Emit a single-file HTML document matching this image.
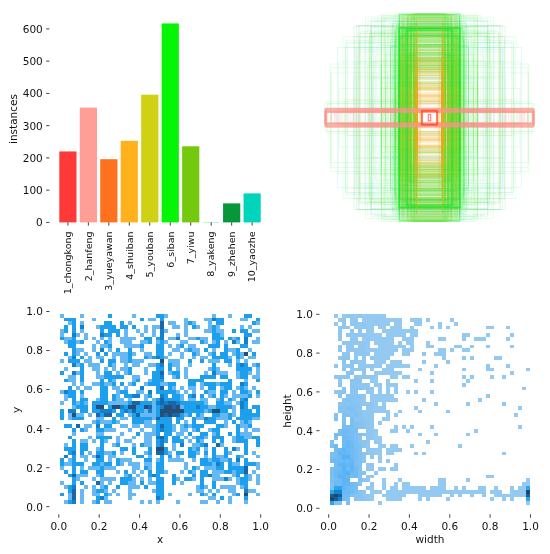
<!DOCTYPE html>
<html><head><meta charset="utf-8"><title>labels</title><style>html,body{margin:0;padding:0;background:#fff}svg{display:block}</style></head><body>
<svg width="550" height="554" viewBox="0 0 550 554" font-family='"DejaVu Sans","Liberation Sans",sans-serif' fill="#111">
<rect width="550" height="554" fill="#fff"/>
<g>
<rect x="59.30" y="151.45" width="17.2" height="70.95" fill="#ff3838"/>
<rect x="79.77" y="107.59" width="17.2" height="114.81" fill="#ff9d97"/>
<rect x="100.24" y="159.19" width="17.2" height="63.21" fill="#ff701f"/>
<rect x="120.71" y="140.81" width="17.2" height="81.59" fill="#ffb21d"/>
<rect x="141.18" y="94.69" width="17.2" height="127.71" fill="#cfd214"/>
<rect x="161.65" y="23.42" width="17.2" height="198.98" fill="#06f406"/>
<rect x="182.12" y="146.29" width="17.2" height="76.11" fill="#74c80e"/>
<rect x="202.59" y="222.08" width="17.2" height="0.32" fill="#3ddb86"/>
<rect x="223.06" y="203.37" width="17.2" height="19.03" fill="#08963a"/>
<rect x="243.53" y="193.38" width="17.2" height="29.03" fill="#00d4bb"/>
</g>
<g>
<line x1="46.20" x2="49.40" y1="222.40" y2="222.40" stroke="#111" stroke-width="0.8"/>
<text x="42.80" y="226.30" font-size="10.5" text-anchor="end">0</text>
<line x1="46.20" x2="49.40" y1="190.15" y2="190.15" stroke="#111" stroke-width="0.8"/>
<text x="42.80" y="194.05" font-size="10.5" text-anchor="end">100</text>
<line x1="46.20" x2="49.40" y1="157.90" y2="157.90" stroke="#111" stroke-width="0.8"/>
<text x="42.80" y="161.80" font-size="10.5" text-anchor="end">200</text>
<line x1="46.20" x2="49.40" y1="125.65" y2="125.65" stroke="#111" stroke-width="0.8"/>
<text x="42.80" y="129.55" font-size="10.5" text-anchor="end">300</text>
<line x1="46.20" x2="49.40" y1="93.40" y2="93.40" stroke="#111" stroke-width="0.8"/>
<text x="42.80" y="97.30" font-size="10.5" text-anchor="end">400</text>
<line x1="46.20" x2="49.40" y1="61.15" y2="61.15" stroke="#111" stroke-width="0.8"/>
<text x="42.80" y="65.05" font-size="10.5" text-anchor="end">500</text>
<line x1="46.20" x2="49.40" y1="28.90" y2="28.90" stroke="#111" stroke-width="0.8"/>
<text x="42.80" y="32.80" font-size="10.5" text-anchor="end">600</text>
<line x1="67.90" x2="67.90" y1="222.40" y2="225.60" stroke="#111" stroke-width="0.8"/>
<text transform="translate(71.20,231.40) rotate(-90)" font-size="9.5" text-anchor="end">1_chongkong</text>
<line x1="88.37" x2="88.37" y1="222.40" y2="225.60" stroke="#111" stroke-width="0.8"/>
<text transform="translate(91.67,231.40) rotate(-90)" font-size="9.5" text-anchor="end">2_hanfeng</text>
<line x1="108.84" x2="108.84" y1="222.40" y2="225.60" stroke="#111" stroke-width="0.8"/>
<text transform="translate(112.14,231.40) rotate(-90)" font-size="9.5" text-anchor="end">3_yueyawan</text>
<line x1="129.31" x2="129.31" y1="222.40" y2="225.60" stroke="#111" stroke-width="0.8"/>
<text transform="translate(132.61,231.40) rotate(-90)" font-size="9.5" text-anchor="end">4_shuiban</text>
<line x1="149.78" x2="149.78" y1="222.40" y2="225.60" stroke="#111" stroke-width="0.8"/>
<text transform="translate(153.08,231.40) rotate(-90)" font-size="9.5" text-anchor="end">5_youban</text>
<line x1="170.25" x2="170.25" y1="222.40" y2="225.60" stroke="#111" stroke-width="0.8"/>
<text transform="translate(173.55,231.40) rotate(-90)" font-size="9.5" text-anchor="end">6_siban</text>
<line x1="190.72" x2="190.72" y1="222.40" y2="225.60" stroke="#111" stroke-width="0.8"/>
<text transform="translate(194.02,231.40) rotate(-90)" font-size="9.5" text-anchor="end">7_yiwu</text>
<line x1="211.19" x2="211.19" y1="222.40" y2="225.60" stroke="#111" stroke-width="0.8"/>
<text transform="translate(214.49,231.40) rotate(-90)" font-size="9.5" text-anchor="end">8_yakeng</text>
<line x1="231.66" x2="231.66" y1="222.40" y2="225.60" stroke="#111" stroke-width="0.8"/>
<text transform="translate(234.96,231.40) rotate(-90)" font-size="9.5" text-anchor="end">9_zhehen</text>
<line x1="252.13" x2="252.13" y1="222.40" y2="225.60" stroke="#111" stroke-width="0.8"/>
<text transform="translate(255.43,231.40) rotate(-90)" font-size="9.5" text-anchor="end">10_yaozhe</text>
<text transform="translate(16.5,119) rotate(-90)" font-size="10.5" text-anchor="middle">instances</text>
</g>
<g shape-rendering="crispEdges">
<rect x="60" y="314" width="4" height="4" fill="#66b8f5"/>
<rect x="80" y="314" width="4" height="4" fill="#66b8f5"/>
<rect x="108" y="314" width="4" height="4" fill="#1ca0ee"/>
<rect x="132" y="314" width="4" height="4" fill="#66b8f5"/>
<rect x="156" y="314" width="8" height="4" fill="#1ca0ee"/>
<rect x="164" y="314" width="4" height="4" fill="#66b8f5"/>
<rect x="212" y="314" width="4" height="4" fill="#66b8f5"/>
<rect x="228" y="314" width="4" height="4" fill="#66b8f5"/>
<rect x="244" y="314" width="8" height="4" fill="#1ca0ee"/>
<rect x="64" y="318" width="12" height="3" fill="#1ca0ee"/>
<rect x="92" y="318" width="4" height="3" fill="#66b8f5"/>
<rect x="140" y="318" width="4" height="3" fill="#1ca0ee"/>
<rect x="148" y="318" width="8" height="3" fill="#66b8f5"/>
<rect x="160" y="318" width="4" height="3" fill="#1ca0ee"/>
<rect x="184" y="318" width="4" height="3" fill="#66b8f5"/>
<rect x="204" y="318" width="8" height="3" fill="#66b8f5"/>
<rect x="212" y="318" width="4" height="3" fill="#1280cc"/>
<rect x="216" y="318" width="8" height="3" fill="#1ca0ee"/>
<rect x="240" y="318" width="8" height="3" fill="#66b8f5"/>
<rect x="256" y="318" width="4" height="3" fill="#1ca0ee"/>
<rect x="68" y="321" width="4" height="4" fill="#66b8f5"/>
<rect x="72" y="321" width="4" height="4" fill="#1ca0ee"/>
<rect x="80" y="321" width="4" height="4" fill="#66b8f5"/>
<rect x="104" y="321" width="8" height="4" fill="#1ca0ee"/>
<rect x="120" y="321" width="4" height="4" fill="#1ca0ee"/>
<rect x="128" y="321" width="4" height="4" fill="#66b8f5"/>
<rect x="160" y="321" width="4" height="4" fill="#1a66a6"/>
<rect x="168" y="321" width="8" height="4" fill="#66b8f5"/>
<rect x="184" y="321" width="4" height="4" fill="#66b8f5"/>
<rect x="188" y="321" width="4" height="4" fill="#1ca0ee"/>
<rect x="192" y="321" width="4" height="4" fill="#66b8f5"/>
<rect x="208" y="321" width="4" height="4" fill="#66b8f5"/>
<rect x="216" y="321" width="8" height="4" fill="#1ca0ee"/>
<rect x="252" y="321" width="4" height="4" fill="#1ca0ee"/>
<rect x="256" y="321" width="4" height="4" fill="#66b8f5"/>
<rect x="64" y="325" width="4" height="4" fill="#1ca0ee"/>
<rect x="72" y="325" width="4" height="4" fill="#1ca0ee"/>
<rect x="80" y="325" width="4" height="4" fill="#1280cc"/>
<rect x="96" y="325" width="4" height="4" fill="#66b8f5"/>
<rect x="100" y="325" width="16" height="4" fill="#1ca0ee"/>
<rect x="120" y="325" width="8" height="4" fill="#1ca0ee"/>
<rect x="132" y="325" width="4" height="4" fill="#1ca0ee"/>
<rect x="144" y="325" width="4" height="4" fill="#66b8f5"/>
<rect x="152" y="325" width="8" height="4" fill="#66b8f5"/>
<rect x="160" y="325" width="4" height="4" fill="#1a66a6"/>
<rect x="172" y="325" width="8" height="4" fill="#66b8f5"/>
<rect x="184" y="325" width="4" height="4" fill="#66b8f5"/>
<rect x="192" y="325" width="4" height="4" fill="#1ca0ee"/>
<rect x="196" y="325" width="4" height="4" fill="#66b8f5"/>
<rect x="208" y="325" width="4" height="4" fill="#66b8f5"/>
<rect x="212" y="325" width="4" height="4" fill="#1ca0ee"/>
<rect x="216" y="325" width="4" height="4" fill="#66b8f5"/>
<rect x="240" y="325" width="4" height="4" fill="#66b8f5"/>
<rect x="248" y="325" width="4" height="4" fill="#66b8f5"/>
<rect x="60" y="329" width="4" height="4" fill="#66b8f5"/>
<rect x="64" y="329" width="4" height="4" fill="#1ca0ee"/>
<rect x="72" y="329" width="4" height="4" fill="#1ca0ee"/>
<rect x="80" y="329" width="4" height="4" fill="#66b8f5"/>
<rect x="100" y="329" width="4" height="4" fill="#1ca0ee"/>
<rect x="108" y="329" width="12" height="4" fill="#1ca0ee"/>
<rect x="124" y="329" width="4" height="4" fill="#66b8f5"/>
<rect x="136" y="329" width="4" height="4" fill="#66b8f5"/>
<rect x="144" y="329" width="4" height="4" fill="#66b8f5"/>
<rect x="152" y="329" width="4" height="4" fill="#66b8f5"/>
<rect x="160" y="329" width="4" height="4" fill="#1280cc"/>
<rect x="164" y="329" width="4" height="4" fill="#66b8f5"/>
<rect x="184" y="329" width="4" height="4" fill="#66b8f5"/>
<rect x="204" y="329" width="8" height="4" fill="#66b8f5"/>
<rect x="212" y="329" width="4" height="4" fill="#1ca0ee"/>
<rect x="216" y="329" width="8" height="4" fill="#66b8f5"/>
<rect x="232" y="329" width="4" height="4" fill="#1ca0ee"/>
<rect x="240" y="329" width="8" height="4" fill="#1ca0ee"/>
<rect x="252" y="329" width="8" height="4" fill="#66b8f5"/>
<rect x="60" y="333" width="4" height="4" fill="#66b8f5"/>
<rect x="72" y="333" width="4" height="4" fill="#1280cc"/>
<rect x="76" y="333" width="4" height="4" fill="#66b8f5"/>
<rect x="84" y="333" width="4" height="4" fill="#66b8f5"/>
<rect x="100" y="333" width="4" height="4" fill="#1280cc"/>
<rect x="104" y="333" width="8" height="4" fill="#1ca0ee"/>
<rect x="116" y="333" width="4" height="4" fill="#1ca0ee"/>
<rect x="124" y="333" width="4" height="4" fill="#66b8f5"/>
<rect x="140" y="333" width="4" height="4" fill="#66b8f5"/>
<rect x="152" y="333" width="4" height="4" fill="#66b8f5"/>
<rect x="160" y="333" width="4" height="4" fill="#1280cc"/>
<rect x="176" y="333" width="4" height="4" fill="#66b8f5"/>
<rect x="184" y="333" width="4" height="4" fill="#66b8f5"/>
<rect x="212" y="333" width="8" height="4" fill="#1ca0ee"/>
<rect x="220" y="333" width="4" height="4" fill="#66b8f5"/>
<rect x="244" y="333" width="8" height="4" fill="#1ca0ee"/>
<rect x="60" y="337" width="4" height="3" fill="#1ca0ee"/>
<rect x="64" y="337" width="8" height="3" fill="#66b8f5"/>
<rect x="72" y="337" width="4" height="3" fill="#1ca0ee"/>
<rect x="84" y="337" width="4" height="3" fill="#66b8f5"/>
<rect x="92" y="337" width="4" height="3" fill="#66b8f5"/>
<rect x="100" y="337" width="4" height="3" fill="#66b8f5"/>
<rect x="108" y="337" width="4" height="3" fill="#66b8f5"/>
<rect x="120" y="337" width="16" height="3" fill="#66b8f5"/>
<rect x="144" y="337" width="8" height="3" fill="#1ca0ee"/>
<rect x="156" y="337" width="4" height="3" fill="#1ca0ee"/>
<rect x="160" y="337" width="4" height="3" fill="#1280cc"/>
<rect x="168" y="337" width="8" height="3" fill="#66b8f5"/>
<rect x="176" y="337" width="4" height="3" fill="#1280cc"/>
<rect x="188" y="337" width="8" height="3" fill="#66b8f5"/>
<rect x="196" y="337" width="4" height="3" fill="#1ca0ee"/>
<rect x="200" y="337" width="8" height="3" fill="#66b8f5"/>
<rect x="212" y="337" width="12" height="3" fill="#1ca0ee"/>
<rect x="228" y="337" width="4" height="3" fill="#1ca0ee"/>
<rect x="232" y="337" width="4" height="3" fill="#66b8f5"/>
<rect x="236" y="337" width="4" height="3" fill="#1ca0ee"/>
<rect x="244" y="337" width="4" height="3" fill="#1280cc"/>
<rect x="256" y="337" width="4" height="3" fill="#66b8f5"/>
<rect x="64" y="340" width="4" height="4" fill="#66b8f5"/>
<rect x="68" y="340" width="8" height="4" fill="#1ca0ee"/>
<rect x="76" y="340" width="4" height="4" fill="#66b8f5"/>
<rect x="80" y="340" width="4" height="4" fill="#1ca0ee"/>
<rect x="96" y="340" width="4" height="4" fill="#66b8f5"/>
<rect x="104" y="340" width="4" height="4" fill="#1ca0ee"/>
<rect x="108" y="340" width="4" height="4" fill="#66b8f5"/>
<rect x="120" y="340" width="12" height="4" fill="#66b8f5"/>
<rect x="140" y="340" width="8" height="4" fill="#66b8f5"/>
<rect x="148" y="340" width="4" height="4" fill="#1ca0ee"/>
<rect x="156" y="340" width="4" height="4" fill="#66b8f5"/>
<rect x="160" y="340" width="4" height="4" fill="#1ca0ee"/>
<rect x="164" y="340" width="4" height="4" fill="#66b8f5"/>
<rect x="180" y="340" width="8" height="4" fill="#66b8f5"/>
<rect x="200" y="340" width="4" height="4" fill="#1ca0ee"/>
<rect x="204" y="340" width="4" height="4" fill="#66b8f5"/>
<rect x="212" y="340" width="4" height="4" fill="#66b8f5"/>
<rect x="216" y="340" width="4" height="4" fill="#1ca0ee"/>
<rect x="224" y="340" width="4" height="4" fill="#66b8f5"/>
<rect x="232" y="340" width="4" height="4" fill="#1280cc"/>
<rect x="236" y="340" width="4" height="4" fill="#66b8f5"/>
<rect x="244" y="340" width="4" height="4" fill="#1280cc"/>
<rect x="252" y="340" width="8" height="4" fill="#66b8f5"/>
<rect x="68" y="344" width="8" height="4" fill="#1ca0ee"/>
<rect x="92" y="344" width="4" height="4" fill="#66b8f5"/>
<rect x="100" y="344" width="8" height="4" fill="#66b8f5"/>
<rect x="108" y="344" width="4" height="4" fill="#1ca0ee"/>
<rect x="124" y="344" width="16" height="4" fill="#66b8f5"/>
<rect x="140" y="344" width="4" height="4" fill="#1ca0ee"/>
<rect x="156" y="344" width="8" height="4" fill="#1ca0ee"/>
<rect x="168" y="344" width="4" height="4" fill="#66b8f5"/>
<rect x="176" y="344" width="4" height="4" fill="#66b8f5"/>
<rect x="180" y="344" width="4" height="4" fill="#1ca0ee"/>
<rect x="188" y="344" width="8" height="4" fill="#66b8f5"/>
<rect x="208" y="344" width="12" height="4" fill="#1ca0ee"/>
<rect x="224" y="344" width="4" height="4" fill="#1ca0ee"/>
<rect x="240" y="344" width="8" height="4" fill="#1ca0ee"/>
<rect x="72" y="348" width="4" height="4" fill="#1ca0ee"/>
<rect x="76" y="348" width="8" height="4" fill="#66b8f5"/>
<rect x="92" y="348" width="4" height="4" fill="#66b8f5"/>
<rect x="100" y="348" width="4" height="4" fill="#1280cc"/>
<rect x="108" y="348" width="4" height="4" fill="#66b8f5"/>
<rect x="116" y="348" width="4" height="4" fill="#1ca0ee"/>
<rect x="128" y="348" width="4" height="4" fill="#1ca0ee"/>
<rect x="140" y="348" width="4" height="4" fill="#66b8f5"/>
<rect x="156" y="348" width="8" height="4" fill="#1ca0ee"/>
<rect x="172" y="348" width="8" height="4" fill="#66b8f5"/>
<rect x="184" y="348" width="4" height="4" fill="#66b8f5"/>
<rect x="188" y="348" width="4" height="4" fill="#1ca0ee"/>
<rect x="192" y="348" width="8" height="4" fill="#66b8f5"/>
<rect x="204" y="348" width="4" height="4" fill="#1ca0ee"/>
<rect x="212" y="348" width="4" height="4" fill="#66b8f5"/>
<rect x="224" y="348" width="4" height="4" fill="#1ca0ee"/>
<rect x="228" y="348" width="8" height="4" fill="#66b8f5"/>
<rect x="236" y="348" width="4" height="4" fill="#1ca0ee"/>
<rect x="248" y="348" width="4" height="4" fill="#66b8f5"/>
<rect x="64" y="352" width="4" height="4" fill="#1ca0ee"/>
<rect x="72" y="352" width="4" height="4" fill="#1ca0ee"/>
<rect x="76" y="352" width="4" height="4" fill="#66b8f5"/>
<rect x="84" y="352" width="4" height="4" fill="#66b8f5"/>
<rect x="96" y="352" width="4" height="4" fill="#1ca0ee"/>
<rect x="104" y="352" width="4" height="4" fill="#1ca0ee"/>
<rect x="112" y="352" width="16" height="4" fill="#66b8f5"/>
<rect x="128" y="352" width="4" height="4" fill="#1ca0ee"/>
<rect x="132" y="352" width="4" height="4" fill="#66b8f5"/>
<rect x="144" y="352" width="8" height="4" fill="#66b8f5"/>
<rect x="156" y="352" width="8" height="4" fill="#1ca0ee"/>
<rect x="168" y="352" width="4" height="4" fill="#66b8f5"/>
<rect x="180" y="352" width="4" height="4" fill="#66b8f5"/>
<rect x="192" y="352" width="4" height="4" fill="#1ca0ee"/>
<rect x="196" y="352" width="4" height="4" fill="#66b8f5"/>
<rect x="208" y="352" width="4" height="4" fill="#66b8f5"/>
<rect x="212" y="352" width="4" height="4" fill="#1ca0ee"/>
<rect x="220" y="352" width="8" height="4" fill="#1ca0ee"/>
<rect x="232" y="352" width="4" height="4" fill="#66b8f5"/>
<rect x="236" y="352" width="4" height="4" fill="#1ca0ee"/>
<rect x="240" y="352" width="4" height="4" fill="#66b8f5"/>
<rect x="244" y="352" width="4" height="4" fill="#264f78"/>
<rect x="252" y="352" width="4" height="4" fill="#1ca0ee"/>
<rect x="68" y="356" width="4" height="3" fill="#66b8f5"/>
<rect x="72" y="356" width="4" height="3" fill="#1280cc"/>
<rect x="80" y="356" width="4" height="3" fill="#1ca0ee"/>
<rect x="88" y="356" width="4" height="3" fill="#66b8f5"/>
<rect x="96" y="356" width="8" height="3" fill="#66b8f5"/>
<rect x="112" y="356" width="4" height="3" fill="#66b8f5"/>
<rect x="120" y="356" width="8" height="3" fill="#66b8f5"/>
<rect x="128" y="356" width="4" height="3" fill="#1ca0ee"/>
<rect x="144" y="356" width="4" height="3" fill="#1ca0ee"/>
<rect x="148" y="356" width="4" height="3" fill="#66b8f5"/>
<rect x="152" y="356" width="4" height="3" fill="#1ca0ee"/>
<rect x="156" y="356" width="4" height="3" fill="#1280cc"/>
<rect x="160" y="356" width="4" height="3" fill="#1ca0ee"/>
<rect x="164" y="356" width="4" height="3" fill="#66b8f5"/>
<rect x="180" y="356" width="4" height="3" fill="#66b8f5"/>
<rect x="192" y="356" width="4" height="3" fill="#66b8f5"/>
<rect x="200" y="356" width="8" height="3" fill="#66b8f5"/>
<rect x="212" y="356" width="16" height="3" fill="#1ca0ee"/>
<rect x="228" y="356" width="4" height="3" fill="#66b8f5"/>
<rect x="236" y="356" width="4" height="3" fill="#1ca0ee"/>
<rect x="240" y="356" width="4" height="3" fill="#66b8f5"/>
<rect x="248" y="356" width="8" height="3" fill="#66b8f5"/>
<rect x="60" y="359" width="4" height="4" fill="#66b8f5"/>
<rect x="68" y="359" width="12" height="4" fill="#1ca0ee"/>
<rect x="84" y="359" width="8" height="4" fill="#66b8f5"/>
<rect x="100" y="359" width="4" height="4" fill="#1ca0ee"/>
<rect x="108" y="359" width="8" height="4" fill="#1ca0ee"/>
<rect x="120" y="359" width="8" height="4" fill="#66b8f5"/>
<rect x="128" y="359" width="4" height="4" fill="#1ca0ee"/>
<rect x="132" y="359" width="12" height="4" fill="#66b8f5"/>
<rect x="160" y="359" width="4" height="4" fill="#264f78"/>
<rect x="168" y="359" width="12" height="4" fill="#66b8f5"/>
<rect x="188" y="359" width="4" height="4" fill="#1ca0ee"/>
<rect x="200" y="359" width="4" height="4" fill="#1ca0ee"/>
<rect x="208" y="359" width="12" height="4" fill="#66b8f5"/>
<rect x="224" y="359" width="8" height="4" fill="#1ca0ee"/>
<rect x="236" y="359" width="4" height="4" fill="#66b8f5"/>
<rect x="244" y="359" width="4" height="4" fill="#66b8f5"/>
<rect x="72" y="363" width="4" height="4" fill="#1280cc"/>
<rect x="76" y="363" width="4" height="4" fill="#66b8f5"/>
<rect x="80" y="363" width="4" height="4" fill="#1ca0ee"/>
<rect x="88" y="363" width="12" height="4" fill="#66b8f5"/>
<rect x="108" y="363" width="4" height="4" fill="#1ca0ee"/>
<rect x="112" y="363" width="4" height="4" fill="#66b8f5"/>
<rect x="124" y="363" width="4" height="4" fill="#66b8f5"/>
<rect x="132" y="363" width="8" height="4" fill="#66b8f5"/>
<rect x="148" y="363" width="8" height="4" fill="#66b8f5"/>
<rect x="156" y="363" width="4" height="4" fill="#1ca0ee"/>
<rect x="160" y="363" width="4" height="4" fill="#1280cc"/>
<rect x="168" y="363" width="4" height="4" fill="#1ca0ee"/>
<rect x="172" y="363" width="8" height="4" fill="#66b8f5"/>
<rect x="188" y="363" width="4" height="4" fill="#66b8f5"/>
<rect x="212" y="363" width="4" height="4" fill="#1ca0ee"/>
<rect x="228" y="363" width="4" height="4" fill="#66b8f5"/>
<rect x="236" y="363" width="4" height="4" fill="#1ca0ee"/>
<rect x="240" y="363" width="4" height="4" fill="#1280cc"/>
<rect x="244" y="363" width="4" height="4" fill="#1ca0ee"/>
<rect x="252" y="363" width="4" height="4" fill="#66b8f5"/>
<rect x="256" y="363" width="4" height="4" fill="#1ca0ee"/>
<rect x="64" y="367" width="4" height="4" fill="#66b8f5"/>
<rect x="80" y="367" width="4" height="4" fill="#1ca0ee"/>
<rect x="92" y="367" width="8" height="4" fill="#66b8f5"/>
<rect x="104" y="367" width="4" height="4" fill="#66b8f5"/>
<rect x="112" y="367" width="4" height="4" fill="#66b8f5"/>
<rect x="120" y="367" width="8" height="4" fill="#66b8f5"/>
<rect x="128" y="367" width="4" height="4" fill="#1ca0ee"/>
<rect x="144" y="367" width="4" height="4" fill="#66b8f5"/>
<rect x="156" y="367" width="8" height="4" fill="#1ca0ee"/>
<rect x="168" y="367" width="4" height="4" fill="#1ca0ee"/>
<rect x="176" y="367" width="4" height="4" fill="#66b8f5"/>
<rect x="184" y="367" width="4" height="4" fill="#66b8f5"/>
<rect x="208" y="367" width="4" height="4" fill="#66b8f5"/>
<rect x="212" y="367" width="4" height="4" fill="#1ca0ee"/>
<rect x="216" y="367" width="4" height="4" fill="#66b8f5"/>
<rect x="236" y="367" width="16" height="4" fill="#1ca0ee"/>
<rect x="256" y="367" width="4" height="4" fill="#66b8f5"/>
<rect x="60" y="371" width="4" height="4" fill="#1ca0ee"/>
<rect x="72" y="371" width="4" height="4" fill="#1280cc"/>
<rect x="76" y="371" width="4" height="4" fill="#66b8f5"/>
<rect x="80" y="371" width="4" height="4" fill="#1ca0ee"/>
<rect x="96" y="371" width="4" height="4" fill="#66b8f5"/>
<rect x="104" y="371" width="8" height="4" fill="#1ca0ee"/>
<rect x="116" y="371" width="4" height="4" fill="#66b8f5"/>
<rect x="124" y="371" width="4" height="4" fill="#66b8f5"/>
<rect x="128" y="371" width="4" height="4" fill="#1ca0ee"/>
<rect x="144" y="371" width="4" height="4" fill="#66b8f5"/>
<rect x="152" y="371" width="8" height="4" fill="#1ca0ee"/>
<rect x="160" y="371" width="4" height="4" fill="#1a66a6"/>
<rect x="168" y="371" width="4" height="4" fill="#66b8f5"/>
<rect x="172" y="371" width="8" height="4" fill="#1ca0ee"/>
<rect x="184" y="371" width="4" height="4" fill="#66b8f5"/>
<rect x="204" y="371" width="4" height="4" fill="#66b8f5"/>
<rect x="212" y="371" width="4" height="4" fill="#1280cc"/>
<rect x="216" y="371" width="12" height="4" fill="#66b8f5"/>
<rect x="236" y="371" width="4" height="4" fill="#66b8f5"/>
<rect x="240" y="371" width="8" height="4" fill="#1ca0ee"/>
<rect x="248" y="371" width="4" height="4" fill="#66b8f5"/>
<rect x="256" y="371" width="4" height="4" fill="#66b8f5"/>
<rect x="68" y="375" width="8" height="4" fill="#66b8f5"/>
<rect x="80" y="375" width="4" height="4" fill="#1ca0ee"/>
<rect x="96" y="375" width="8" height="4" fill="#66b8f5"/>
<rect x="104" y="375" width="20" height="4" fill="#1ca0ee"/>
<rect x="132" y="375" width="8" height="4" fill="#66b8f5"/>
<rect x="152" y="375" width="8" height="4" fill="#1ca0ee"/>
<rect x="160" y="375" width="4" height="4" fill="#1280cc"/>
<rect x="172" y="375" width="4" height="4" fill="#66b8f5"/>
<rect x="176" y="375" width="4" height="4" fill="#1ca0ee"/>
<rect x="184" y="375" width="4" height="4" fill="#66b8f5"/>
<rect x="200" y="375" width="16" height="4" fill="#1ca0ee"/>
<rect x="220" y="375" width="8" height="4" fill="#1ca0ee"/>
<rect x="236" y="375" width="4" height="4" fill="#66b8f5"/>
<rect x="240" y="375" width="8" height="4" fill="#1ca0ee"/>
<rect x="252" y="375" width="8" height="4" fill="#66b8f5"/>
<rect x="64" y="379" width="4" height="3" fill="#1ca0ee"/>
<rect x="68" y="379" width="8" height="3" fill="#66b8f5"/>
<rect x="80" y="379" width="4" height="3" fill="#1ca0ee"/>
<rect x="100" y="379" width="4" height="3" fill="#1ca0ee"/>
<rect x="108" y="379" width="4" height="3" fill="#1ca0ee"/>
<rect x="112" y="379" width="4" height="3" fill="#66b8f5"/>
<rect x="132" y="379" width="4" height="3" fill="#66b8f5"/>
<rect x="136" y="379" width="4" height="3" fill="#1ca0ee"/>
<rect x="148" y="379" width="4" height="3" fill="#66b8f5"/>
<rect x="152" y="379" width="12" height="3" fill="#1ca0ee"/>
<rect x="188" y="379" width="16" height="3" fill="#1ca0ee"/>
<rect x="228" y="379" width="4" height="3" fill="#1ca0ee"/>
<rect x="244" y="379" width="4" height="3" fill="#66b8f5"/>
<rect x="256" y="379" width="4" height="3" fill="#1ca0ee"/>
<rect x="72" y="382" width="4" height="4" fill="#66b8f5"/>
<rect x="80" y="382" width="4" height="4" fill="#66b8f5"/>
<rect x="92" y="382" width="8" height="4" fill="#66b8f5"/>
<rect x="100" y="382" width="4" height="4" fill="#1ca0ee"/>
<rect x="104" y="382" width="8" height="4" fill="#66b8f5"/>
<rect x="112" y="382" width="4" height="4" fill="#1ca0ee"/>
<rect x="120" y="382" width="4" height="4" fill="#1ca0ee"/>
<rect x="128" y="382" width="4" height="4" fill="#66b8f5"/>
<rect x="132" y="382" width="4" height="4" fill="#1ca0ee"/>
<rect x="144" y="382" width="4" height="4" fill="#66b8f5"/>
<rect x="148" y="382" width="12" height="4" fill="#1ca0ee"/>
<rect x="160" y="382" width="8" height="4" fill="#66b8f5"/>
<rect x="168" y="382" width="8" height="4" fill="#1ca0ee"/>
<rect x="188" y="382" width="8" height="4" fill="#1ca0ee"/>
<rect x="200" y="382" width="4" height="4" fill="#66b8f5"/>
<rect x="204" y="382" width="12" height="4" fill="#1ca0ee"/>
<rect x="216" y="382" width="4" height="4" fill="#66b8f5"/>
<rect x="220" y="382" width="12" height="4" fill="#1ca0ee"/>
<rect x="240" y="382" width="4" height="4" fill="#1280cc"/>
<rect x="244" y="382" width="4" height="4" fill="#1ca0ee"/>
<rect x="68" y="386" width="4" height="4" fill="#1ca0ee"/>
<rect x="76" y="386" width="4" height="4" fill="#66b8f5"/>
<rect x="84" y="386" width="8" height="4" fill="#66b8f5"/>
<rect x="100" y="386" width="8" height="4" fill="#1ca0ee"/>
<rect x="112" y="386" width="8" height="4" fill="#66b8f5"/>
<rect x="124" y="386" width="4" height="4" fill="#66b8f5"/>
<rect x="140" y="386" width="4" height="4" fill="#1280cc"/>
<rect x="156" y="386" width="4" height="4" fill="#1ca0ee"/>
<rect x="160" y="386" width="4" height="4" fill="#1a66a6"/>
<rect x="168" y="386" width="4" height="4" fill="#1ca0ee"/>
<rect x="172" y="386" width="4" height="4" fill="#66b8f5"/>
<rect x="180" y="386" width="4" height="4" fill="#66b8f5"/>
<rect x="188" y="386" width="8" height="4" fill="#66b8f5"/>
<rect x="200" y="386" width="4" height="4" fill="#66b8f5"/>
<rect x="208" y="386" width="8" height="4" fill="#1ca0ee"/>
<rect x="220" y="386" width="4" height="4" fill="#66b8f5"/>
<rect x="224" y="386" width="8" height="4" fill="#1ca0ee"/>
<rect x="236" y="386" width="4" height="4" fill="#66b8f5"/>
<rect x="240" y="386" width="4" height="4" fill="#1ca0ee"/>
<rect x="244" y="386" width="4" height="4" fill="#66b8f5"/>
<rect x="252" y="386" width="4" height="4" fill="#66b8f5"/>
<rect x="60" y="390" width="4" height="4" fill="#66b8f5"/>
<rect x="64" y="390" width="4" height="4" fill="#1280cc"/>
<rect x="68" y="390" width="8" height="4" fill="#1ca0ee"/>
<rect x="80" y="390" width="4" height="4" fill="#1ca0ee"/>
<rect x="100" y="390" width="8" height="4" fill="#1ca0ee"/>
<rect x="116" y="390" width="4" height="4" fill="#66b8f5"/>
<rect x="120" y="390" width="8" height="4" fill="#1ca0ee"/>
<rect x="136" y="390" width="8" height="4" fill="#66b8f5"/>
<rect x="148" y="390" width="4" height="4" fill="#1280cc"/>
<rect x="156" y="390" width="20" height="4" fill="#1ca0ee"/>
<rect x="176" y="390" width="4" height="4" fill="#66b8f5"/>
<rect x="184" y="390" width="4" height="4" fill="#66b8f5"/>
<rect x="192" y="390" width="4" height="4" fill="#66b8f5"/>
<rect x="204" y="390" width="4" height="4" fill="#1ca0ee"/>
<rect x="208" y="390" width="8" height="4" fill="#66b8f5"/>
<rect x="220" y="390" width="8" height="4" fill="#1ca0ee"/>
<rect x="232" y="390" width="4" height="4" fill="#66b8f5"/>
<rect x="240" y="390" width="8" height="4" fill="#1ca0ee"/>
<rect x="248" y="390" width="4" height="4" fill="#66b8f5"/>
<rect x="256" y="390" width="4" height="4" fill="#1ca0ee"/>
<rect x="64" y="394" width="4" height="4" fill="#66b8f5"/>
<rect x="68" y="394" width="8" height="4" fill="#1ca0ee"/>
<rect x="80" y="394" width="4" height="4" fill="#66b8f5"/>
<rect x="100" y="394" width="8" height="4" fill="#1ca0ee"/>
<rect x="112" y="394" width="4" height="4" fill="#1ca0ee"/>
<rect x="116" y="394" width="4" height="4" fill="#66b8f5"/>
<rect x="124" y="394" width="8" height="4" fill="#1ca0ee"/>
<rect x="132" y="394" width="8" height="4" fill="#1280cc"/>
<rect x="144" y="394" width="4" height="4" fill="#66b8f5"/>
<rect x="148" y="394" width="4" height="4" fill="#1ca0ee"/>
<rect x="160" y="394" width="4" height="4" fill="#1280cc"/>
<rect x="164" y="394" width="4" height="4" fill="#1ca0ee"/>
<rect x="172" y="394" width="8" height="4" fill="#1ca0ee"/>
<rect x="180" y="394" width="4" height="4" fill="#66b8f5"/>
<rect x="188" y="394" width="4" height="4" fill="#1ca0ee"/>
<rect x="192" y="394" width="4" height="4" fill="#1280cc"/>
<rect x="200" y="394" width="4" height="4" fill="#1ca0ee"/>
<rect x="208" y="394" width="4" height="4" fill="#66b8f5"/>
<rect x="212" y="394" width="4" height="4" fill="#1ca0ee"/>
<rect x="220" y="394" width="4" height="4" fill="#1ca0ee"/>
<rect x="224" y="394" width="4" height="4" fill="#66b8f5"/>
<rect x="232" y="394" width="16" height="4" fill="#66b8f5"/>
<rect x="248" y="394" width="4" height="4" fill="#1ca0ee"/>
<rect x="256" y="394" width="4" height="4" fill="#66b8f5"/>
<rect x="64" y="398" width="4" height="3" fill="#66b8f5"/>
<rect x="72" y="398" width="4" height="3" fill="#1ca0ee"/>
<rect x="80" y="398" width="8" height="3" fill="#1ca0ee"/>
<rect x="96" y="398" width="4" height="3" fill="#66b8f5"/>
<rect x="100" y="398" width="8" height="3" fill="#1ca0ee"/>
<rect x="112" y="398" width="4" height="3" fill="#1ca0ee"/>
<rect x="116" y="398" width="8" height="3" fill="#66b8f5"/>
<rect x="128" y="398" width="4" height="3" fill="#66b8f5"/>
<rect x="144" y="398" width="4" height="3" fill="#66b8f5"/>
<rect x="152" y="398" width="4" height="3" fill="#66b8f5"/>
<rect x="156" y="398" width="4" height="3" fill="#1ca0ee"/>
<rect x="160" y="398" width="4" height="3" fill="#1a66a6"/>
<rect x="164" y="398" width="16" height="3" fill="#1ca0ee"/>
<rect x="180" y="398" width="4" height="3" fill="#66b8f5"/>
<rect x="188" y="398" width="8" height="3" fill="#66b8f5"/>
<rect x="200" y="398" width="8" height="3" fill="#66b8f5"/>
<rect x="216" y="398" width="4" height="3" fill="#66b8f5"/>
<rect x="220" y="398" width="4" height="3" fill="#1ca0ee"/>
<rect x="228" y="398" width="4" height="3" fill="#1ca0ee"/>
<rect x="232" y="398" width="4" height="3" fill="#66b8f5"/>
<rect x="240" y="398" width="4" height="3" fill="#1ca0ee"/>
<rect x="244" y="398" width="4" height="3" fill="#1280cc"/>
<rect x="60" y="401" width="4" height="4" fill="#66b8f5"/>
<rect x="72" y="401" width="4" height="4" fill="#1ca0ee"/>
<rect x="76" y="401" width="4" height="4" fill="#66b8f5"/>
<rect x="80" y="401" width="4" height="4" fill="#1ca0ee"/>
<rect x="84" y="401" width="4" height="4" fill="#66b8f5"/>
<rect x="92" y="401" width="16" height="4" fill="#1ca0ee"/>
<rect x="108" y="401" width="20" height="4" fill="#66b8f5"/>
<rect x="128" y="401" width="4" height="4" fill="#1ca0ee"/>
<rect x="132" y="401" width="8" height="4" fill="#1a66a6"/>
<rect x="140" y="401" width="12" height="4" fill="#1ca0ee"/>
<rect x="152" y="401" width="4" height="4" fill="#66b8f5"/>
<rect x="156" y="401" width="4" height="4" fill="#1280cc"/>
<rect x="160" y="401" width="4" height="4" fill="#1a66a6"/>
<rect x="164" y="401" width="4" height="4" fill="#1280cc"/>
<rect x="168" y="401" width="8" height="4" fill="#1a66a6"/>
<rect x="176" y="401" width="4" height="4" fill="#1280cc"/>
<rect x="180" y="401" width="24" height="4" fill="#1ca0ee"/>
<rect x="204" y="401" width="4" height="4" fill="#66b8f5"/>
<rect x="216" y="401" width="8" height="4" fill="#1ca0ee"/>
<rect x="224" y="401" width="8" height="4" fill="#66b8f5"/>
<rect x="236" y="401" width="4" height="4" fill="#66b8f5"/>
<rect x="240" y="401" width="4" height="4" fill="#1280cc"/>
<rect x="244" y="401" width="4" height="4" fill="#1ca0ee"/>
<rect x="72" y="405" width="4" height="4" fill="#66b8f5"/>
<rect x="76" y="405" width="12" height="4" fill="#1ca0ee"/>
<rect x="92" y="405" width="4" height="4" fill="#1ca0ee"/>
<rect x="96" y="405" width="8" height="4" fill="#264f78"/>
<rect x="108" y="405" width="4" height="4" fill="#1ca0ee"/>
<rect x="112" y="405" width="8" height="4" fill="#264f78"/>
<rect x="120" y="405" width="4" height="4" fill="#1280cc"/>
<rect x="124" y="405" width="4" height="4" fill="#1ca0ee"/>
<rect x="128" y="405" width="8" height="4" fill="#264f78"/>
<rect x="136" y="405" width="8" height="4" fill="#1ca0ee"/>
<rect x="144" y="405" width="4" height="4" fill="#264f78"/>
<rect x="148" y="405" width="4" height="4" fill="#1a66a6"/>
<rect x="152" y="405" width="4" height="4" fill="#66b8f5"/>
<rect x="156" y="405" width="4" height="4" fill="#1ca0ee"/>
<rect x="160" y="405" width="4" height="4" fill="#1280cc"/>
<rect x="164" y="405" width="8" height="4" fill="#264f78"/>
<rect x="172" y="405" width="4" height="4" fill="#1a66a6"/>
<rect x="176" y="405" width="4" height="4" fill="#264f78"/>
<rect x="180" y="405" width="4" height="4" fill="#66b8f5"/>
<rect x="184" y="405" width="12" height="4" fill="#1ca0ee"/>
<rect x="196" y="405" width="4" height="4" fill="#1280cc"/>
<rect x="200" y="405" width="8" height="4" fill="#1ca0ee"/>
<rect x="208" y="405" width="8" height="4" fill="#66b8f5"/>
<rect x="216" y="405" width="16" height="4" fill="#1ca0ee"/>
<rect x="232" y="405" width="4" height="4" fill="#66b8f5"/>
<rect x="240" y="405" width="4" height="4" fill="#1280cc"/>
<rect x="244" y="405" width="4" height="4" fill="#1ca0ee"/>
<rect x="252" y="405" width="8" height="4" fill="#1ca0ee"/>
<rect x="60" y="409" width="4" height="4" fill="#1ca0ee"/>
<rect x="68" y="409" width="8" height="4" fill="#1280cc"/>
<rect x="80" y="409" width="8" height="4" fill="#1ca0ee"/>
<rect x="92" y="409" width="8" height="4" fill="#1ca0ee"/>
<rect x="100" y="409" width="12" height="4" fill="#1280cc"/>
<rect x="112" y="409" width="4" height="4" fill="#1ca0ee"/>
<rect x="120" y="409" width="4" height="4" fill="#1ca0ee"/>
<rect x="124" y="409" width="4" height="4" fill="#1280cc"/>
<rect x="128" y="409" width="4" height="4" fill="#1ca0ee"/>
<rect x="132" y="409" width="4" height="4" fill="#1a66a6"/>
<rect x="136" y="409" width="8" height="4" fill="#1ca0ee"/>
<rect x="144" y="409" width="4" height="4" fill="#66b8f5"/>
<rect x="148" y="409" width="4" height="4" fill="#1280cc"/>
<rect x="152" y="409" width="4" height="4" fill="#66b8f5"/>
<rect x="156" y="409" width="4" height="4" fill="#1ca0ee"/>
<rect x="160" y="409" width="24" height="4" fill="#264f78"/>
<rect x="184" y="409" width="20" height="4" fill="#1ca0ee"/>
<rect x="204" y="409" width="4" height="4" fill="#66b8f5"/>
<rect x="208" y="409" width="4" height="4" fill="#1ca0ee"/>
<rect x="212" y="409" width="8" height="4" fill="#264f78"/>
<rect x="220" y="409" width="8" height="4" fill="#1ca0ee"/>
<rect x="232" y="409" width="4" height="4" fill="#66b8f5"/>
<rect x="240" y="409" width="12" height="4" fill="#1ca0ee"/>
<rect x="256" y="409" width="4" height="4" fill="#1ca0ee"/>
<rect x="60" y="413" width="4" height="4" fill="#1ca0ee"/>
<rect x="68" y="413" width="4" height="4" fill="#66b8f5"/>
<rect x="72" y="413" width="4" height="4" fill="#264f78"/>
<rect x="76" y="413" width="8" height="4" fill="#66b8f5"/>
<rect x="88" y="413" width="4" height="4" fill="#66b8f5"/>
<rect x="96" y="413" width="4" height="4" fill="#1a66a6"/>
<rect x="100" y="413" width="4" height="4" fill="#1ca0ee"/>
<rect x="104" y="413" width="8" height="4" fill="#1a66a6"/>
<rect x="116" y="413" width="8" height="4" fill="#1ca0ee"/>
<rect x="128" y="413" width="4" height="4" fill="#66b8f5"/>
<rect x="132" y="413" width="4" height="4" fill="#1ca0ee"/>
<rect x="136" y="413" width="4" height="4" fill="#1a66a6"/>
<rect x="140" y="413" width="16" height="4" fill="#66b8f5"/>
<rect x="156" y="413" width="4" height="4" fill="#1ca0ee"/>
<rect x="160" y="413" width="4" height="4" fill="#264f78"/>
<rect x="164" y="413" width="4" height="4" fill="#1a66a6"/>
<rect x="168" y="413" width="4" height="4" fill="#264f78"/>
<rect x="172" y="413" width="8" height="4" fill="#1a66a6"/>
<rect x="180" y="413" width="4" height="4" fill="#1ca0ee"/>
<rect x="184" y="413" width="4" height="4" fill="#66b8f5"/>
<rect x="188" y="413" width="4" height="4" fill="#1ca0ee"/>
<rect x="196" y="413" width="4" height="4" fill="#1ca0ee"/>
<rect x="200" y="413" width="4" height="4" fill="#66b8f5"/>
<rect x="212" y="413" width="8" height="4" fill="#1ca0ee"/>
<rect x="220" y="413" width="8" height="4" fill="#66b8f5"/>
<rect x="228" y="413" width="4" height="4" fill="#1ca0ee"/>
<rect x="232" y="413" width="4" height="4" fill="#66b8f5"/>
<rect x="240" y="413" width="20" height="4" fill="#1ca0ee"/>
<rect x="60" y="417" width="4" height="3" fill="#1ca0ee"/>
<rect x="68" y="417" width="4" height="3" fill="#66b8f5"/>
<rect x="72" y="417" width="12" height="3" fill="#1ca0ee"/>
<rect x="96" y="417" width="8" height="3" fill="#66b8f5"/>
<rect x="112" y="417" width="4" height="3" fill="#1ca0ee"/>
<rect x="120" y="417" width="8" height="3" fill="#66b8f5"/>
<rect x="132" y="417" width="20" height="3" fill="#1ca0ee"/>
<rect x="152" y="417" width="4" height="3" fill="#66b8f5"/>
<rect x="156" y="417" width="4" height="3" fill="#1a66a6"/>
<rect x="160" y="417" width="12" height="3" fill="#1ca0ee"/>
<rect x="176" y="417" width="8" height="3" fill="#1ca0ee"/>
<rect x="192" y="417" width="4" height="3" fill="#1ca0ee"/>
<rect x="196" y="417" width="8" height="3" fill="#66b8f5"/>
<rect x="204" y="417" width="4" height="3" fill="#1280cc"/>
<rect x="208" y="417" width="8" height="3" fill="#1ca0ee"/>
<rect x="216" y="417" width="12" height="3" fill="#66b8f5"/>
<rect x="228" y="417" width="4" height="3" fill="#1ca0ee"/>
<rect x="236" y="417" width="16" height="3" fill="#1ca0ee"/>
<rect x="252" y="417" width="8" height="3" fill="#66b8f5"/>
<rect x="92" y="420" width="4" height="4" fill="#66b8f5"/>
<rect x="96" y="420" width="4" height="4" fill="#1ca0ee"/>
<rect x="100" y="420" width="12" height="4" fill="#66b8f5"/>
<rect x="112" y="420" width="4" height="4" fill="#1ca0ee"/>
<rect x="116" y="420" width="4" height="4" fill="#66b8f5"/>
<rect x="132" y="420" width="12" height="4" fill="#1ca0ee"/>
<rect x="144" y="420" width="8" height="4" fill="#66b8f5"/>
<rect x="156" y="420" width="16" height="4" fill="#1ca0ee"/>
<rect x="176" y="420" width="4" height="4" fill="#1ca0ee"/>
<rect x="184" y="420" width="4" height="4" fill="#66b8f5"/>
<rect x="192" y="420" width="4" height="4" fill="#1ca0ee"/>
<rect x="204" y="420" width="12" height="4" fill="#1ca0ee"/>
<rect x="224" y="420" width="4" height="4" fill="#66b8f5"/>
<rect x="232" y="420" width="4" height="4" fill="#1ca0ee"/>
<rect x="240" y="420" width="4" height="4" fill="#66b8f5"/>
<rect x="244" y="420" width="4" height="4" fill="#1ca0ee"/>
<rect x="248" y="420" width="4" height="4" fill="#66b8f5"/>
<rect x="64" y="424" width="8" height="4" fill="#1ca0ee"/>
<rect x="76" y="424" width="4" height="4" fill="#1a66a6"/>
<rect x="84" y="424" width="8" height="4" fill="#66b8f5"/>
<rect x="96" y="424" width="4" height="4" fill="#1280cc"/>
<rect x="104" y="424" width="8" height="4" fill="#1ca0ee"/>
<rect x="120" y="424" width="8" height="4" fill="#66b8f5"/>
<rect x="132" y="424" width="8" height="4" fill="#66b8f5"/>
<rect x="144" y="424" width="12" height="4" fill="#66b8f5"/>
<rect x="156" y="424" width="4" height="4" fill="#1ca0ee"/>
<rect x="160" y="424" width="4" height="4" fill="#1a66a6"/>
<rect x="164" y="424" width="8" height="4" fill="#1ca0ee"/>
<rect x="172" y="424" width="4" height="4" fill="#66b8f5"/>
<rect x="180" y="424" width="4" height="4" fill="#66b8f5"/>
<rect x="184" y="424" width="4" height="4" fill="#1ca0ee"/>
<rect x="188" y="424" width="4" height="4" fill="#66b8f5"/>
<rect x="192" y="424" width="12" height="4" fill="#1ca0ee"/>
<rect x="216" y="424" width="8" height="4" fill="#1ca0ee"/>
<rect x="224" y="424" width="4" height="4" fill="#66b8f5"/>
<rect x="236" y="424" width="4" height="4" fill="#1ca0ee"/>
<rect x="240" y="424" width="8" height="4" fill="#66b8f5"/>
<rect x="248" y="424" width="4" height="4" fill="#1ca0ee"/>
<rect x="72" y="428" width="4" height="4" fill="#1ca0ee"/>
<rect x="80" y="428" width="4" height="4" fill="#1ca0ee"/>
<rect x="84" y="428" width="4" height="4" fill="#66b8f5"/>
<rect x="96" y="428" width="8" height="4" fill="#1ca0ee"/>
<rect x="104" y="428" width="12" height="4" fill="#66b8f5"/>
<rect x="128" y="428" width="4" height="4" fill="#66b8f5"/>
<rect x="140" y="428" width="4" height="4" fill="#66b8f5"/>
<rect x="152" y="428" width="4" height="4" fill="#66b8f5"/>
<rect x="156" y="428" width="4" height="4" fill="#1ca0ee"/>
<rect x="160" y="428" width="4" height="4" fill="#1280cc"/>
<rect x="164" y="428" width="8" height="4" fill="#1ca0ee"/>
<rect x="172" y="428" width="4" height="4" fill="#66b8f5"/>
<rect x="180" y="428" width="8" height="4" fill="#66b8f5"/>
<rect x="192" y="428" width="4" height="4" fill="#66b8f5"/>
<rect x="196" y="428" width="4" height="4" fill="#1ca0ee"/>
<rect x="208" y="428" width="4" height="4" fill="#66b8f5"/>
<rect x="212" y="428" width="8" height="4" fill="#1ca0ee"/>
<rect x="236" y="428" width="4" height="4" fill="#1ca0ee"/>
<rect x="244" y="428" width="4" height="4" fill="#66b8f5"/>
<rect x="252" y="428" width="8" height="4" fill="#66b8f5"/>
<rect x="72" y="432" width="4" height="4" fill="#66b8f5"/>
<rect x="96" y="432" width="8" height="4" fill="#66b8f5"/>
<rect x="120" y="432" width="4" height="4" fill="#66b8f5"/>
<rect x="136" y="432" width="4" height="4" fill="#1ca0ee"/>
<rect x="144" y="432" width="12" height="4" fill="#66b8f5"/>
<rect x="156" y="432" width="4" height="4" fill="#1ca0ee"/>
<rect x="164" y="432" width="8" height="4" fill="#1ca0ee"/>
<rect x="176" y="432" width="8" height="4" fill="#66b8f5"/>
<rect x="188" y="432" width="4" height="4" fill="#1ca0ee"/>
<rect x="200" y="432" width="8" height="4" fill="#1ca0ee"/>
<rect x="212" y="432" width="4" height="4" fill="#66b8f5"/>
<rect x="216" y="432" width="4" height="4" fill="#1ca0ee"/>
<rect x="228" y="432" width="4" height="4" fill="#1ca0ee"/>
<rect x="236" y="432" width="4" height="4" fill="#1ca0ee"/>
<rect x="240" y="432" width="12" height="4" fill="#66b8f5"/>
<rect x="68" y="436" width="4" height="3" fill="#1ca0ee"/>
<rect x="88" y="436" width="4" height="3" fill="#66b8f5"/>
<rect x="96" y="436" width="16" height="3" fill="#1ca0ee"/>
<rect x="116" y="436" width="4" height="3" fill="#66b8f5"/>
<rect x="132" y="436" width="4" height="3" fill="#66b8f5"/>
<rect x="144" y="436" width="8" height="3" fill="#66b8f5"/>
<rect x="156" y="436" width="4" height="3" fill="#1280cc"/>
<rect x="160" y="436" width="4" height="3" fill="#1a66a6"/>
<rect x="164" y="436" width="4" height="3" fill="#1ca0ee"/>
<rect x="172" y="436" width="8" height="3" fill="#1ca0ee"/>
<rect x="184" y="436" width="4" height="3" fill="#66b8f5"/>
<rect x="192" y="436" width="4" height="3" fill="#66b8f5"/>
<rect x="196" y="436" width="8" height="3" fill="#1ca0ee"/>
<rect x="204" y="436" width="4" height="3" fill="#66b8f5"/>
<rect x="212" y="436" width="12" height="3" fill="#1ca0ee"/>
<rect x="232" y="436" width="4" height="3" fill="#66b8f5"/>
<rect x="236" y="436" width="8" height="3" fill="#1ca0ee"/>
<rect x="244" y="436" width="8" height="3" fill="#66b8f5"/>
<rect x="252" y="436" width="8" height="3" fill="#1ca0ee"/>
<rect x="72" y="439" width="4" height="4" fill="#1ca0ee"/>
<rect x="80" y="439" width="8" height="4" fill="#66b8f5"/>
<rect x="92" y="439" width="4" height="4" fill="#66b8f5"/>
<rect x="100" y="439" width="4" height="4" fill="#1ca0ee"/>
<rect x="104" y="439" width="4" height="4" fill="#66b8f5"/>
<rect x="116" y="439" width="4" height="4" fill="#66b8f5"/>
<rect x="124" y="439" width="8" height="4" fill="#66b8f5"/>
<rect x="144" y="439" width="8" height="4" fill="#66b8f5"/>
<rect x="156" y="439" width="4" height="4" fill="#1ca0ee"/>
<rect x="160" y="439" width="4" height="4" fill="#1280cc"/>
<rect x="164" y="439" width="4" height="4" fill="#1ca0ee"/>
<rect x="172" y="439" width="12" height="4" fill="#1ca0ee"/>
<rect x="188" y="439" width="4" height="4" fill="#66b8f5"/>
<rect x="196" y="439" width="4" height="4" fill="#1ca0ee"/>
<rect x="200" y="439" width="4" height="4" fill="#66b8f5"/>
<rect x="212" y="439" width="4" height="4" fill="#1ca0ee"/>
<rect x="220" y="439" width="4" height="4" fill="#1ca0ee"/>
<rect x="232" y="439" width="4" height="4" fill="#66b8f5"/>
<rect x="236" y="439" width="12" height="4" fill="#1ca0ee"/>
<rect x="256" y="439" width="4" height="4" fill="#1ca0ee"/>
<rect x="64" y="443" width="4" height="4" fill="#66b8f5"/>
<rect x="72" y="443" width="4" height="4" fill="#1ca0ee"/>
<rect x="80" y="443" width="8" height="4" fill="#1ca0ee"/>
<rect x="100" y="443" width="4" height="4" fill="#1ca0ee"/>
<rect x="112" y="443" width="4" height="4" fill="#66b8f5"/>
<rect x="116" y="443" width="4" height="4" fill="#1ca0ee"/>
<rect x="132" y="443" width="4" height="4" fill="#66b8f5"/>
<rect x="140" y="443" width="4" height="4" fill="#1ca0ee"/>
<rect x="144" y="443" width="8" height="4" fill="#66b8f5"/>
<rect x="156" y="443" width="4" height="4" fill="#1ca0ee"/>
<rect x="160" y="443" width="4" height="4" fill="#1280cc"/>
<rect x="172" y="443" width="4" height="4" fill="#66b8f5"/>
<rect x="180" y="443" width="4" height="4" fill="#1280cc"/>
<rect x="192" y="443" width="8" height="4" fill="#66b8f5"/>
<rect x="200" y="443" width="4" height="4" fill="#1ca0ee"/>
<rect x="204" y="443" width="4" height="4" fill="#1280cc"/>
<rect x="216" y="443" width="4" height="4" fill="#1a66a6"/>
<rect x="220" y="443" width="4" height="4" fill="#66b8f5"/>
<rect x="244" y="443" width="4" height="4" fill="#1ca0ee"/>
<rect x="256" y="443" width="4" height="4" fill="#1ca0ee"/>
<rect x="64" y="447" width="12" height="4" fill="#1ca0ee"/>
<rect x="80" y="447" width="8" height="4" fill="#1ca0ee"/>
<rect x="96" y="447" width="4" height="4" fill="#66b8f5"/>
<rect x="100" y="447" width="4" height="4" fill="#1ca0ee"/>
<rect x="120" y="447" width="8" height="4" fill="#1ca0ee"/>
<rect x="132" y="447" width="4" height="4" fill="#1ca0ee"/>
<rect x="148" y="447" width="4" height="4" fill="#1ca0ee"/>
<rect x="156" y="447" width="8" height="4" fill="#264f78"/>
<rect x="164" y="447" width="4" height="4" fill="#1ca0ee"/>
<rect x="172" y="447" width="4" height="4" fill="#66b8f5"/>
<rect x="188" y="447" width="4" height="4" fill="#1ca0ee"/>
<rect x="192" y="447" width="4" height="4" fill="#66b8f5"/>
<rect x="196" y="447" width="4" height="4" fill="#1ca0ee"/>
<rect x="204" y="447" width="4" height="4" fill="#66b8f5"/>
<rect x="212" y="447" width="4" height="4" fill="#1ca0ee"/>
<rect x="224" y="447" width="4" height="4" fill="#1ca0ee"/>
<rect x="232" y="447" width="4" height="4" fill="#1280cc"/>
<rect x="236" y="447" width="4" height="4" fill="#66b8f5"/>
<rect x="244" y="447" width="4" height="4" fill="#1ca0ee"/>
<rect x="68" y="451" width="4" height="4" fill="#1ca0ee"/>
<rect x="72" y="451" width="4" height="4" fill="#1280cc"/>
<rect x="80" y="451" width="4" height="4" fill="#1ca0ee"/>
<rect x="88" y="451" width="4" height="4" fill="#66b8f5"/>
<rect x="96" y="451" width="8" height="4" fill="#1ca0ee"/>
<rect x="104" y="451" width="8" height="4" fill="#66b8f5"/>
<rect x="112" y="451" width="4" height="4" fill="#1ca0ee"/>
<rect x="120" y="451" width="4" height="4" fill="#66b8f5"/>
<rect x="132" y="451" width="4" height="4" fill="#1ca0ee"/>
<rect x="144" y="451" width="4" height="4" fill="#66b8f5"/>
<rect x="148" y="451" width="4" height="4" fill="#1ca0ee"/>
<rect x="156" y="451" width="8" height="4" fill="#1a66a6"/>
<rect x="164" y="451" width="4" height="4" fill="#1ca0ee"/>
<rect x="168" y="451" width="4" height="4" fill="#66b8f5"/>
<rect x="176" y="451" width="8" height="4" fill="#1ca0ee"/>
<rect x="188" y="451" width="8" height="4" fill="#1ca0ee"/>
<rect x="196" y="451" width="4" height="4" fill="#66b8f5"/>
<rect x="204" y="451" width="4" height="4" fill="#1ca0ee"/>
<rect x="212" y="451" width="4" height="4" fill="#1ca0ee"/>
<rect x="224" y="451" width="4" height="4" fill="#1ca0ee"/>
<rect x="228" y="451" width="4" height="4" fill="#66b8f5"/>
<rect x="244" y="451" width="4" height="4" fill="#1ca0ee"/>
<rect x="252" y="451" width="4" height="4" fill="#66b8f5"/>
<rect x="64" y="455" width="4" height="3" fill="#1280cc"/>
<rect x="72" y="455" width="4" height="3" fill="#1ca0ee"/>
<rect x="80" y="455" width="8" height="3" fill="#66b8f5"/>
<rect x="92" y="455" width="4" height="3" fill="#66b8f5"/>
<rect x="96" y="455" width="4" height="3" fill="#1a66a6"/>
<rect x="100" y="455" width="4" height="3" fill="#1ca0ee"/>
<rect x="108" y="455" width="8" height="3" fill="#66b8f5"/>
<rect x="136" y="455" width="8" height="3" fill="#1ca0ee"/>
<rect x="148" y="455" width="4" height="3" fill="#66b8f5"/>
<rect x="160" y="455" width="4" height="3" fill="#1ca0ee"/>
<rect x="168" y="455" width="4" height="3" fill="#1ca0ee"/>
<rect x="176" y="455" width="4" height="3" fill="#66b8f5"/>
<rect x="188" y="455" width="8" height="3" fill="#1ca0ee"/>
<rect x="204" y="455" width="4" height="3" fill="#66b8f5"/>
<rect x="212" y="455" width="4" height="3" fill="#1ca0ee"/>
<rect x="216" y="455" width="8" height="3" fill="#66b8f5"/>
<rect x="224" y="455" width="4" height="3" fill="#1ca0ee"/>
<rect x="236" y="455" width="4" height="3" fill="#1ca0ee"/>
<rect x="240" y="455" width="4" height="3" fill="#66b8f5"/>
<rect x="256" y="455" width="4" height="3" fill="#66b8f5"/>
<rect x="60" y="458" width="4" height="4" fill="#1ca0ee"/>
<rect x="68" y="458" width="4" height="4" fill="#66b8f5"/>
<rect x="72" y="458" width="4" height="4" fill="#1ca0ee"/>
<rect x="84" y="458" width="4" height="4" fill="#66b8f5"/>
<rect x="96" y="458" width="8" height="4" fill="#1ca0ee"/>
<rect x="108" y="458" width="4" height="4" fill="#66b8f5"/>
<rect x="116" y="458" width="4" height="4" fill="#1ca0ee"/>
<rect x="120" y="458" width="12" height="4" fill="#66b8f5"/>
<rect x="144" y="458" width="8" height="4" fill="#1ca0ee"/>
<rect x="156" y="458" width="4" height="4" fill="#66b8f5"/>
<rect x="160" y="458" width="4" height="4" fill="#1ca0ee"/>
<rect x="168" y="458" width="16" height="4" fill="#66b8f5"/>
<rect x="192" y="458" width="4" height="4" fill="#66b8f5"/>
<rect x="200" y="458" width="8" height="4" fill="#1ca0ee"/>
<rect x="208" y="458" width="4" height="4" fill="#66b8f5"/>
<rect x="212" y="458" width="8" height="4" fill="#1ca0ee"/>
<rect x="220" y="458" width="8" height="4" fill="#66b8f5"/>
<rect x="228" y="458" width="4" height="4" fill="#1ca0ee"/>
<rect x="236" y="458" width="4" height="4" fill="#1280cc"/>
<rect x="244" y="458" width="4" height="4" fill="#1ca0ee"/>
<rect x="60" y="462" width="4" height="4" fill="#1ca0ee"/>
<rect x="64" y="462" width="8" height="4" fill="#66b8f5"/>
<rect x="72" y="462" width="12" height="4" fill="#1ca0ee"/>
<rect x="92" y="462" width="8" height="4" fill="#1ca0ee"/>
<rect x="100" y="462" width="4" height="4" fill="#66b8f5"/>
<rect x="104" y="462" width="8" height="4" fill="#1ca0ee"/>
<rect x="116" y="462" width="4" height="4" fill="#1ca0ee"/>
<rect x="120" y="462" width="4" height="4" fill="#66b8f5"/>
<rect x="128" y="462" width="12" height="4" fill="#66b8f5"/>
<rect x="144" y="462" width="8" height="4" fill="#66b8f5"/>
<rect x="156" y="462" width="8" height="4" fill="#1ca0ee"/>
<rect x="184" y="462" width="4" height="4" fill="#66b8f5"/>
<rect x="200" y="462" width="12" height="4" fill="#1ca0ee"/>
<rect x="212" y="462" width="4" height="4" fill="#66b8f5"/>
<rect x="216" y="462" width="4" height="4" fill="#1280cc"/>
<rect x="220" y="462" width="4" height="4" fill="#1ca0ee"/>
<rect x="228" y="462" width="4" height="4" fill="#1ca0ee"/>
<rect x="232" y="462" width="8" height="4" fill="#66b8f5"/>
<rect x="244" y="462" width="12" height="4" fill="#1ca0ee"/>
<rect x="256" y="462" width="4" height="4" fill="#66b8f5"/>
<rect x="60" y="466" width="4" height="4" fill="#66b8f5"/>
<rect x="72" y="466" width="4" height="4" fill="#1ca0ee"/>
<rect x="80" y="466" width="4" height="4" fill="#66b8f5"/>
<rect x="88" y="466" width="12" height="4" fill="#66b8f5"/>
<rect x="100" y="466" width="4" height="4" fill="#1ca0ee"/>
<rect x="104" y="466" width="12" height="4" fill="#66b8f5"/>
<rect x="132" y="466" width="8" height="4" fill="#66b8f5"/>
<rect x="144" y="466" width="4" height="4" fill="#1ca0ee"/>
<rect x="148" y="466" width="4" height="4" fill="#66b8f5"/>
<rect x="156" y="466" width="8" height="4" fill="#1ca0ee"/>
<rect x="184" y="466" width="4" height="4" fill="#66b8f5"/>
<rect x="192" y="466" width="4" height="4" fill="#1ca0ee"/>
<rect x="196" y="466" width="4" height="4" fill="#66b8f5"/>
<rect x="204" y="466" width="12" height="4" fill="#66b8f5"/>
<rect x="216" y="466" width="8" height="4" fill="#1ca0ee"/>
<rect x="228" y="466" width="16" height="4" fill="#1ca0ee"/>
<rect x="244" y="466" width="4" height="4" fill="#1a66a6"/>
<rect x="256" y="466" width="4" height="4" fill="#66b8f5"/>
<rect x="64" y="470" width="4" height="4" fill="#1ca0ee"/>
<rect x="72" y="470" width="4" height="4" fill="#1ca0ee"/>
<rect x="80" y="470" width="8" height="4" fill="#1ca0ee"/>
<rect x="96" y="470" width="8" height="4" fill="#1ca0ee"/>
<rect x="116" y="470" width="4" height="4" fill="#66b8f5"/>
<rect x="124" y="470" width="4" height="4" fill="#1ca0ee"/>
<rect x="132" y="470" width="4" height="4" fill="#66b8f5"/>
<rect x="140" y="470" width="4" height="4" fill="#66b8f5"/>
<rect x="148" y="470" width="4" height="4" fill="#1ca0ee"/>
<rect x="156" y="470" width="8" height="4" fill="#1ca0ee"/>
<rect x="164" y="470" width="4" height="4" fill="#66b8f5"/>
<rect x="180" y="470" width="4" height="4" fill="#66b8f5"/>
<rect x="188" y="470" width="4" height="4" fill="#1ca0ee"/>
<rect x="192" y="470" width="4" height="4" fill="#66b8f5"/>
<rect x="200" y="470" width="8" height="4" fill="#1ca0ee"/>
<rect x="212" y="470" width="12" height="4" fill="#66b8f5"/>
<rect x="224" y="470" width="8" height="4" fill="#1ca0ee"/>
<rect x="232" y="470" width="4" height="4" fill="#66b8f5"/>
<rect x="236" y="470" width="8" height="4" fill="#1ca0ee"/>
<rect x="244" y="470" width="4" height="4" fill="#1a66a6"/>
<rect x="252" y="470" width="4" height="4" fill="#66b8f5"/>
<rect x="68" y="474" width="4" height="3" fill="#1ca0ee"/>
<rect x="72" y="474" width="4" height="3" fill="#1a66a6"/>
<rect x="76" y="474" width="12" height="3" fill="#66b8f5"/>
<rect x="96" y="474" width="4" height="3" fill="#66b8f5"/>
<rect x="100" y="474" width="4" height="3" fill="#1ca0ee"/>
<rect x="124" y="474" width="4" height="3" fill="#66b8f5"/>
<rect x="128" y="474" width="4" height="3" fill="#1ca0ee"/>
<rect x="136" y="474" width="4" height="3" fill="#66b8f5"/>
<rect x="148" y="474" width="4" height="3" fill="#1ca0ee"/>
<rect x="152" y="474" width="4" height="3" fill="#1280cc"/>
<rect x="156" y="474" width="4" height="3" fill="#1ca0ee"/>
<rect x="172" y="474" width="4" height="3" fill="#1ca0ee"/>
<rect x="192" y="474" width="4" height="3" fill="#1ca0ee"/>
<rect x="200" y="474" width="8" height="3" fill="#1ca0ee"/>
<rect x="208" y="474" width="4" height="3" fill="#1280cc"/>
<rect x="212" y="474" width="8" height="3" fill="#66b8f5"/>
<rect x="232" y="474" width="4" height="3" fill="#66b8f5"/>
<rect x="236" y="474" width="4" height="3" fill="#1ca0ee"/>
<rect x="244" y="474" width="4" height="3" fill="#1ca0ee"/>
<rect x="248" y="474" width="4" height="3" fill="#66b8f5"/>
<rect x="256" y="474" width="4" height="3" fill="#66b8f5"/>
<rect x="72" y="477" width="4" height="4" fill="#1ca0ee"/>
<rect x="76" y="477" width="4" height="4" fill="#66b8f5"/>
<rect x="92" y="477" width="4" height="4" fill="#66b8f5"/>
<rect x="100" y="477" width="16" height="4" fill="#66b8f5"/>
<rect x="120" y="477" width="12" height="4" fill="#1ca0ee"/>
<rect x="132" y="477" width="4" height="4" fill="#66b8f5"/>
<rect x="140" y="477" width="4" height="4" fill="#66b8f5"/>
<rect x="148" y="477" width="4" height="4" fill="#66b8f5"/>
<rect x="156" y="477" width="8" height="4" fill="#1ca0ee"/>
<rect x="172" y="477" width="4" height="4" fill="#1ca0ee"/>
<rect x="176" y="477" width="4" height="4" fill="#66b8f5"/>
<rect x="184" y="477" width="8" height="4" fill="#1ca0ee"/>
<rect x="192" y="477" width="4" height="4" fill="#66b8f5"/>
<rect x="200" y="477" width="4" height="4" fill="#1ca0ee"/>
<rect x="212" y="477" width="12" height="4" fill="#66b8f5"/>
<rect x="224" y="477" width="4" height="4" fill="#1280cc"/>
<rect x="228" y="477" width="4" height="4" fill="#66b8f5"/>
<rect x="236" y="477" width="4" height="4" fill="#66b8f5"/>
<rect x="240" y="477" width="8" height="4" fill="#1ca0ee"/>
<rect x="248" y="477" width="4" height="4" fill="#66b8f5"/>
<rect x="256" y="477" width="4" height="4" fill="#66b8f5"/>
<rect x="60" y="481" width="4" height="4" fill="#66b8f5"/>
<rect x="72" y="481" width="4" height="4" fill="#1ca0ee"/>
<rect x="80" y="481" width="4" height="4" fill="#1ca0ee"/>
<rect x="96" y="481" width="4" height="4" fill="#1a66a6"/>
<rect x="100" y="481" width="4" height="4" fill="#66b8f5"/>
<rect x="108" y="481" width="4" height="4" fill="#66b8f5"/>
<rect x="120" y="481" width="8" height="4" fill="#1ca0ee"/>
<rect x="128" y="481" width="8" height="4" fill="#66b8f5"/>
<rect x="140" y="481" width="4" height="4" fill="#1ca0ee"/>
<rect x="148" y="481" width="8" height="4" fill="#66b8f5"/>
<rect x="156" y="481" width="8" height="4" fill="#1ca0ee"/>
<rect x="172" y="481" width="4" height="4" fill="#1ca0ee"/>
<rect x="180" y="481" width="4" height="4" fill="#66b8f5"/>
<rect x="200" y="481" width="4" height="4" fill="#1ca0ee"/>
<rect x="212" y="481" width="4" height="4" fill="#1ca0ee"/>
<rect x="236" y="481" width="4" height="4" fill="#66b8f5"/>
<rect x="240" y="481" width="8" height="4" fill="#1ca0ee"/>
<rect x="256" y="481" width="4" height="4" fill="#66b8f5"/>
<rect x="64" y="485" width="4" height="4" fill="#66b8f5"/>
<rect x="68" y="485" width="4" height="4" fill="#1ca0ee"/>
<rect x="72" y="485" width="4" height="4" fill="#1280cc"/>
<rect x="84" y="485" width="4" height="4" fill="#66b8f5"/>
<rect x="92" y="485" width="4" height="4" fill="#66b8f5"/>
<rect x="100" y="485" width="4" height="4" fill="#66b8f5"/>
<rect x="104" y="485" width="4" height="4" fill="#1ca0ee"/>
<rect x="116" y="485" width="4" height="4" fill="#1ca0ee"/>
<rect x="128" y="485" width="12" height="4" fill="#66b8f5"/>
<rect x="144" y="485" width="4" height="4" fill="#1ca0ee"/>
<rect x="156" y="485" width="8" height="4" fill="#1ca0ee"/>
<rect x="196" y="485" width="4" height="4" fill="#66b8f5"/>
<rect x="200" y="485" width="4" height="4" fill="#1ca0ee"/>
<rect x="204" y="485" width="4" height="4" fill="#66b8f5"/>
<rect x="212" y="485" width="4" height="4" fill="#1ca0ee"/>
<rect x="220" y="485" width="16" height="4" fill="#66b8f5"/>
<rect x="240" y="485" width="4" height="4" fill="#66b8f5"/>
<rect x="244" y="485" width="4" height="4" fill="#1ca0ee"/>
<rect x="68" y="489" width="4" height="4" fill="#1ca0ee"/>
<rect x="72" y="489" width="4" height="4" fill="#1a66a6"/>
<rect x="80" y="489" width="4" height="4" fill="#66b8f5"/>
<rect x="92" y="489" width="4" height="4" fill="#66b8f5"/>
<rect x="96" y="489" width="8" height="4" fill="#1ca0ee"/>
<rect x="104" y="489" width="4" height="4" fill="#66b8f5"/>
<rect x="112" y="489" width="4" height="4" fill="#66b8f5"/>
<rect x="128" y="489" width="4" height="4" fill="#66b8f5"/>
<rect x="152" y="489" width="4" height="4" fill="#66b8f5"/>
<rect x="156" y="489" width="8" height="4" fill="#1ca0ee"/>
<rect x="196" y="489" width="8" height="4" fill="#66b8f5"/>
<rect x="208" y="489" width="4" height="4" fill="#66b8f5"/>
<rect x="216" y="489" width="4" height="4" fill="#66b8f5"/>
<rect x="228" y="489" width="8" height="4" fill="#66b8f5"/>
<rect x="244" y="489" width="4" height="4" fill="#1280cc"/>
<rect x="248" y="489" width="8" height="4" fill="#66b8f5"/>
<rect x="60" y="493" width="4" height="3" fill="#1ca0ee"/>
<rect x="68" y="493" width="4" height="3" fill="#66b8f5"/>
<rect x="72" y="493" width="4" height="3" fill="#1a66a6"/>
<rect x="80" y="493" width="4" height="3" fill="#66b8f5"/>
<rect x="92" y="493" width="8" height="3" fill="#66b8f5"/>
<rect x="104" y="493" width="4" height="3" fill="#1ca0ee"/>
<rect x="108" y="493" width="4" height="3" fill="#66b8f5"/>
<rect x="116" y="493" width="4" height="3" fill="#66b8f5"/>
<rect x="128" y="493" width="8" height="3" fill="#66b8f5"/>
<rect x="156" y="493" width="8" height="3" fill="#1ca0ee"/>
<rect x="168" y="493" width="4" height="3" fill="#66b8f5"/>
<rect x="188" y="493" width="4" height="3" fill="#66b8f5"/>
<rect x="200" y="493" width="4" height="3" fill="#1ca0ee"/>
<rect x="204" y="493" width="4" height="3" fill="#66b8f5"/>
<rect x="212" y="493" width="4" height="3" fill="#1ca0ee"/>
<rect x="232" y="493" width="4" height="3" fill="#66b8f5"/>
<rect x="236" y="493" width="4" height="3" fill="#1ca0ee"/>
<rect x="244" y="493" width="4" height="3" fill="#264f78"/>
<rect x="256" y="493" width="4" height="3" fill="#66b8f5"/>
<rect x="68" y="496" width="4" height="4" fill="#66b8f5"/>
<rect x="72" y="496" width="4" height="4" fill="#1a66a6"/>
<rect x="80" y="496" width="4" height="4" fill="#66b8f5"/>
<rect x="96" y="496" width="4" height="4" fill="#1ca0ee"/>
<rect x="100" y="496" width="4" height="4" fill="#1280cc"/>
<rect x="104" y="496" width="4" height="4" fill="#66b8f5"/>
<rect x="128" y="496" width="4" height="4" fill="#66b8f5"/>
<rect x="156" y="496" width="4" height="4" fill="#1280cc"/>
<rect x="160" y="496" width="4" height="4" fill="#1ca0ee"/>
<rect x="208" y="496" width="8" height="4" fill="#66b8f5"/>
<rect x="220" y="496" width="4" height="4" fill="#1ca0ee"/>
<rect x="228" y="496" width="4" height="4" fill="#66b8f5"/>
<rect x="244" y="496" width="4" height="4" fill="#1ca0ee"/>
<rect x="64" y="500" width="4" height="4" fill="#66b8f5"/>
<rect x="68" y="500" width="4" height="4" fill="#1ca0ee"/>
<rect x="72" y="500" width="4" height="4" fill="#1280cc"/>
<rect x="80" y="500" width="4" height="4" fill="#66b8f5"/>
<rect x="92" y="500" width="4" height="4" fill="#66b8f5"/>
<rect x="96" y="500" width="4" height="4" fill="#1ca0ee"/>
<rect x="104" y="500" width="8" height="4" fill="#66b8f5"/>
<rect x="140" y="500" width="4" height="4" fill="#66b8f5"/>
<rect x="148" y="500" width="4" height="4" fill="#66b8f5"/>
<rect x="156" y="500" width="4" height="4" fill="#66b8f5"/>
<rect x="176" y="500" width="4" height="4" fill="#66b8f5"/>
<rect x="200" y="500" width="8" height="4" fill="#66b8f5"/>
<rect x="216" y="500" width="4" height="4" fill="#66b8f5"/>
<rect x="228" y="500" width="4" height="4" fill="#66b8f5"/>
<rect x="244" y="500" width="4" height="4" fill="#66b8f5"/>
</g>
<g shape-rendering="crispEdges">
<rect x="334" y="314" width="4" height="4" fill="#94c9f1"/>
<rect x="342" y="314" width="4" height="4" fill="#94c9f1"/>
<rect x="346" y="314" width="8" height="4" fill="#8fc7f1"/>
<rect x="354" y="314" width="4" height="4" fill="#94c9f1"/>
<rect x="358" y="314" width="4" height="4" fill="#8fc7f1"/>
<rect x="362" y="314" width="24" height="4" fill="#94c9f1"/>
<rect x="338" y="318" width="4" height="4" fill="#94c9f1"/>
<rect x="342" y="318" width="4" height="4" fill="#8fc7f1"/>
<rect x="350" y="318" width="8" height="4" fill="#8fc7f1"/>
<rect x="362" y="318" width="40" height="4" fill="#94c9f1"/>
<rect x="410" y="318" width="12" height="4" fill="#94c9f1"/>
<rect x="426" y="318" width="4" height="4" fill="#94c9f1"/>
<rect x="450" y="318" width="4" height="4" fill="#94c9f1"/>
<rect x="334" y="322" width="4" height="4" fill="#94c9f1"/>
<rect x="342" y="322" width="4" height="4" fill="#8fc7f1"/>
<rect x="350" y="322" width="16" height="4" fill="#8fc7f1"/>
<rect x="366" y="322" width="24" height="4" fill="#94c9f1"/>
<rect x="394" y="322" width="8" height="4" fill="#94c9f1"/>
<rect x="414" y="322" width="8" height="4" fill="#94c9f1"/>
<rect x="438" y="322" width="4" height="4" fill="#94c9f1"/>
<rect x="454" y="322" width="4" height="4" fill="#94c9f1"/>
<rect x="338" y="326" width="12" height="3" fill="#8fc7f1"/>
<rect x="354" y="326" width="4" height="3" fill="#8fc7f1"/>
<rect x="358" y="326" width="4" height="3" fill="#94c9f1"/>
<rect x="362" y="326" width="4" height="3" fill="#8fc7f1"/>
<rect x="366" y="326" width="8" height="3" fill="#94c9f1"/>
<rect x="378" y="326" width="8" height="3" fill="#94c9f1"/>
<rect x="390" y="326" width="12" height="3" fill="#94c9f1"/>
<rect x="410" y="326" width="4" height="3" fill="#94c9f1"/>
<rect x="430" y="326" width="4" height="3" fill="#94c9f1"/>
<rect x="438" y="326" width="4" height="3" fill="#94c9f1"/>
<rect x="446" y="326" width="4" height="3" fill="#94c9f1"/>
<rect x="486" y="326" width="8" height="3" fill="#94c9f1"/>
<rect x="506" y="326" width="4" height="3" fill="#94c9f1"/>
<rect x="338" y="329" width="4" height="4" fill="#8fc7f1"/>
<rect x="350" y="329" width="4" height="4" fill="#8fc7f1"/>
<rect x="358" y="329" width="4" height="4" fill="#8fc7f1"/>
<rect x="366" y="329" width="8" height="4" fill="#94c9f1"/>
<rect x="382" y="329" width="36" height="4" fill="#94c9f1"/>
<rect x="338" y="333" width="4" height="4" fill="#8fc7f1"/>
<rect x="346" y="333" width="20" height="4" fill="#8fc7f1"/>
<rect x="366" y="333" width="16" height="4" fill="#94c9f1"/>
<rect x="386" y="333" width="20" height="4" fill="#94c9f1"/>
<rect x="410" y="333" width="8" height="4" fill="#94c9f1"/>
<rect x="462" y="333" width="8" height="4" fill="#94c9f1"/>
<rect x="486" y="333" width="4" height="4" fill="#94c9f1"/>
<rect x="510" y="333" width="4" height="4" fill="#94c9f1"/>
<rect x="338" y="337" width="4" height="4" fill="#8fc7f1"/>
<rect x="350" y="337" width="8" height="4" fill="#8fc7f1"/>
<rect x="362" y="337" width="4" height="4" fill="#94c9f1"/>
<rect x="366" y="337" width="4" height="4" fill="#8fc7f1"/>
<rect x="370" y="337" width="24" height="4" fill="#94c9f1"/>
<rect x="402" y="337" width="12" height="4" fill="#94c9f1"/>
<rect x="438" y="337" width="8" height="4" fill="#94c9f1"/>
<rect x="462" y="337" width="4" height="4" fill="#94c9f1"/>
<rect x="474" y="337" width="12" height="4" fill="#94c9f1"/>
<rect x="506" y="337" width="4" height="4" fill="#94c9f1"/>
<rect x="342" y="341" width="24" height="4" fill="#8fc7f1"/>
<rect x="366" y="341" width="4" height="4" fill="#94c9f1"/>
<rect x="374" y="341" width="20" height="4" fill="#94c9f1"/>
<rect x="398" y="341" width="4" height="4" fill="#94c9f1"/>
<rect x="406" y="341" width="8" height="4" fill="#94c9f1"/>
<rect x="426" y="341" width="4" height="4" fill="#94c9f1"/>
<rect x="338" y="345" width="4" height="3" fill="#8fc7f1"/>
<rect x="346" y="345" width="8" height="3" fill="#8fc7f1"/>
<rect x="358" y="345" width="8" height="3" fill="#8fc7f1"/>
<rect x="366" y="345" width="4" height="3" fill="#94c9f1"/>
<rect x="378" y="345" width="28" height="3" fill="#94c9f1"/>
<rect x="410" y="345" width="4" height="3" fill="#94c9f1"/>
<rect x="426" y="345" width="8" height="3" fill="#94c9f1"/>
<rect x="454" y="345" width="8" height="3" fill="#94c9f1"/>
<rect x="470" y="345" width="4" height="3" fill="#94c9f1"/>
<rect x="486" y="345" width="4" height="3" fill="#94c9f1"/>
<rect x="510" y="345" width="4" height="3" fill="#94c9f1"/>
<rect x="338" y="348" width="4" height="4" fill="#8fc7f1"/>
<rect x="346" y="348" width="20" height="4" fill="#8fc7f1"/>
<rect x="366" y="348" width="32" height="4" fill="#94c9f1"/>
<rect x="402" y="348" width="12" height="4" fill="#94c9f1"/>
<rect x="438" y="348" width="8" height="4" fill="#94c9f1"/>
<rect x="450" y="348" width="4" height="4" fill="#94c9f1"/>
<rect x="462" y="348" width="8" height="4" fill="#94c9f1"/>
<rect x="342" y="352" width="8" height="4" fill="#8fc7f1"/>
<rect x="354" y="352" width="16" height="4" fill="#8fc7f1"/>
<rect x="374" y="352" width="20" height="4" fill="#94c9f1"/>
<rect x="402" y="352" width="8" height="4" fill="#94c9f1"/>
<rect x="422" y="352" width="4" height="4" fill="#94c9f1"/>
<rect x="434" y="352" width="12" height="4" fill="#94c9f1"/>
<rect x="338" y="356" width="4" height="4" fill="#8fc7f1"/>
<rect x="342" y="356" width="8" height="4" fill="#8ac5f2"/>
<rect x="354" y="356" width="4" height="4" fill="#8fc7f1"/>
<rect x="362" y="356" width="4" height="4" fill="#8fc7f1"/>
<rect x="370" y="356" width="4" height="4" fill="#8fc7f1"/>
<rect x="374" y="356" width="16" height="4" fill="#94c9f1"/>
<rect x="442" y="356" width="4" height="4" fill="#94c9f1"/>
<rect x="462" y="356" width="4" height="4" fill="#94c9f1"/>
<rect x="470" y="356" width="4" height="4" fill="#94c9f1"/>
<rect x="494" y="356" width="8" height="4" fill="#94c9f1"/>
<rect x="342" y="360" width="4" height="4" fill="#8ac5f2"/>
<rect x="350" y="360" width="8" height="4" fill="#8ac5f2"/>
<rect x="358" y="360" width="8" height="4" fill="#8fc7f1"/>
<rect x="374" y="360" width="12" height="4" fill="#94c9f1"/>
<rect x="390" y="360" width="12" height="4" fill="#94c9f1"/>
<rect x="422" y="360" width="4" height="4" fill="#94c9f1"/>
<rect x="446" y="360" width="4" height="4" fill="#94c9f1"/>
<rect x="334" y="364" width="4" height="4" fill="#8fc7f1"/>
<rect x="342" y="364" width="8" height="4" fill="#8fc7f1"/>
<rect x="350" y="364" width="4" height="4" fill="#8ac5f2"/>
<rect x="358" y="364" width="16" height="4" fill="#8fc7f1"/>
<rect x="374" y="364" width="8" height="4" fill="#94c9f1"/>
<rect x="386" y="364" width="24" height="4" fill="#94c9f1"/>
<rect x="434" y="364" width="4" height="4" fill="#94c9f1"/>
<rect x="486" y="364" width="4" height="4" fill="#94c9f1"/>
<rect x="506" y="364" width="4" height="4" fill="#94c9f1"/>
<rect x="342" y="368" width="4" height="3" fill="#8ac5f2"/>
<rect x="350" y="368" width="16" height="3" fill="#8fc7f1"/>
<rect x="370" y="368" width="4" height="3" fill="#94c9f1"/>
<rect x="382" y="368" width="12" height="3" fill="#94c9f1"/>
<rect x="418" y="368" width="4" height="3" fill="#94c9f1"/>
<rect x="462" y="368" width="4" height="3" fill="#94c9f1"/>
<rect x="486" y="368" width="8" height="3" fill="#94c9f1"/>
<rect x="526" y="368" width="4" height="3" fill="#94c9f1"/>
<rect x="346" y="371" width="8" height="4" fill="#8ac5f2"/>
<rect x="362" y="371" width="4" height="4" fill="#8fc7f1"/>
<rect x="374" y="371" width="28" height="4" fill="#94c9f1"/>
<rect x="430" y="371" width="4" height="4" fill="#94c9f1"/>
<rect x="510" y="371" width="4" height="4" fill="#94c9f1"/>
<rect x="334" y="375" width="12" height="4" fill="#8fc7f1"/>
<rect x="346" y="375" width="4" height="4" fill="#8ac5f2"/>
<rect x="354" y="375" width="4" height="4" fill="#8ac5f2"/>
<rect x="358" y="375" width="16" height="4" fill="#8fc7f1"/>
<rect x="374" y="375" width="4" height="4" fill="#94c9f1"/>
<rect x="390" y="375" width="8" height="4" fill="#94c9f1"/>
<rect x="402" y="375" width="8" height="4" fill="#94c9f1"/>
<rect x="462" y="375" width="4" height="4" fill="#94c9f1"/>
<rect x="470" y="375" width="4" height="4" fill="#94c9f1"/>
<rect x="490" y="375" width="4" height="4" fill="#94c9f1"/>
<rect x="502" y="375" width="4" height="4" fill="#94c9f1"/>
<rect x="338" y="379" width="4" height="4" fill="#8fc7f1"/>
<rect x="350" y="379" width="12" height="4" fill="#8ac5f2"/>
<rect x="370" y="379" width="8" height="4" fill="#94c9f1"/>
<rect x="386" y="379" width="4" height="4" fill="#94c9f1"/>
<rect x="414" y="379" width="4" height="4" fill="#94c9f1"/>
<rect x="430" y="379" width="4" height="4" fill="#94c9f1"/>
<rect x="466" y="379" width="4" height="4" fill="#94c9f1"/>
<rect x="338" y="383" width="4" height="4" fill="#8ac5f2"/>
<rect x="350" y="383" width="8" height="4" fill="#8ac5f2"/>
<rect x="358" y="383" width="12" height="4" fill="#8fc7f1"/>
<rect x="374" y="383" width="8" height="4" fill="#94c9f1"/>
<rect x="386" y="383" width="12" height="4" fill="#94c9f1"/>
<rect x="462" y="383" width="4" height="4" fill="#94c9f1"/>
<rect x="342" y="387" width="4" height="3" fill="#8ac5f2"/>
<rect x="350" y="387" width="12" height="3" fill="#8ac5f2"/>
<rect x="362" y="387" width="12" height="3" fill="#8fc7f1"/>
<rect x="378" y="387" width="4" height="3" fill="#94c9f1"/>
<rect x="386" y="387" width="4" height="3" fill="#94c9f1"/>
<rect x="394" y="387" width="4" height="3" fill="#94c9f1"/>
<rect x="522" y="387" width="4" height="3" fill="#94c9f1"/>
<rect x="334" y="390" width="4" height="4" fill="#8fc7f1"/>
<rect x="338" y="390" width="8" height="4" fill="#8ac5f2"/>
<rect x="350" y="390" width="8" height="4" fill="#8ac5f2"/>
<rect x="366" y="390" width="4" height="4" fill="#8fc7f1"/>
<rect x="370" y="390" width="4" height="4" fill="#94c9f1"/>
<rect x="378" y="390" width="4" height="4" fill="#94c9f1"/>
<rect x="386" y="390" width="4" height="4" fill="#94c9f1"/>
<rect x="394" y="390" width="4" height="4" fill="#94c9f1"/>
<rect x="406" y="390" width="4" height="4" fill="#94c9f1"/>
<rect x="414" y="390" width="4" height="4" fill="#94c9f1"/>
<rect x="430" y="390" width="4" height="4" fill="#94c9f1"/>
<rect x="338" y="394" width="4" height="4" fill="#8ac5f2"/>
<rect x="346" y="394" width="16" height="4" fill="#8ac5f2"/>
<rect x="362" y="394" width="4" height="4" fill="#8fc7f1"/>
<rect x="370" y="394" width="24" height="4" fill="#94c9f1"/>
<rect x="486" y="394" width="4" height="4" fill="#94c9f1"/>
<rect x="342" y="398" width="4" height="4" fill="#8ac5f2"/>
<rect x="346" y="398" width="8" height="4" fill="#84c3f2"/>
<rect x="354" y="398" width="8" height="4" fill="#8ac5f2"/>
<rect x="362" y="398" width="4" height="4" fill="#8fc7f1"/>
<rect x="370" y="398" width="28" height="4" fill="#94c9f1"/>
<rect x="422" y="398" width="4" height="4" fill="#94c9f1"/>
<rect x="478" y="398" width="4" height="4" fill="#94c9f1"/>
<rect x="338" y="402" width="4" height="4" fill="#8ac5f2"/>
<rect x="342" y="402" width="4" height="4" fill="#84c3f2"/>
<rect x="346" y="402" width="4" height="4" fill="#8ac5f2"/>
<rect x="350" y="402" width="8" height="4" fill="#84c3f2"/>
<rect x="358" y="402" width="4" height="4" fill="#8ac5f2"/>
<rect x="362" y="402" width="12" height="4" fill="#8fc7f1"/>
<rect x="374" y="402" width="4" height="4" fill="#94c9f1"/>
<rect x="382" y="402" width="4" height="4" fill="#94c9f1"/>
<rect x="434" y="402" width="4" height="4" fill="#94c9f1"/>
<rect x="466" y="402" width="4" height="4" fill="#94c9f1"/>
<rect x="502" y="402" width="4" height="4" fill="#94c9f1"/>
<rect x="338" y="406" width="8" height="4" fill="#84c3f2"/>
<rect x="346" y="406" width="8" height="4" fill="#7fc1f2"/>
<rect x="354" y="406" width="4" height="4" fill="#84c3f2"/>
<rect x="358" y="406" width="4" height="4" fill="#8ac5f2"/>
<rect x="366" y="406" width="8" height="4" fill="#8fc7f1"/>
<rect x="374" y="406" width="12" height="4" fill="#94c9f1"/>
<rect x="414" y="406" width="4" height="4" fill="#94c9f1"/>
<rect x="518" y="406" width="4" height="4" fill="#94c9f1"/>
<rect x="338" y="410" width="12" height="3" fill="#84c3f2"/>
<rect x="350" y="410" width="4" height="3" fill="#7fc1f2"/>
<rect x="354" y="410" width="4" height="3" fill="#84c3f2"/>
<rect x="358" y="410" width="4" height="3" fill="#8ac5f2"/>
<rect x="362" y="410" width="12" height="3" fill="#8fc7f1"/>
<rect x="374" y="410" width="16" height="3" fill="#94c9f1"/>
<rect x="398" y="410" width="4" height="3" fill="#94c9f1"/>
<rect x="418" y="410" width="4" height="3" fill="#94c9f1"/>
<rect x="446" y="410" width="4" height="3" fill="#94c9f1"/>
<rect x="334" y="413" width="4" height="4" fill="#84c3f2"/>
<rect x="342" y="413" width="8" height="4" fill="#7fc1f2"/>
<rect x="350" y="413" width="4" height="4" fill="#84c3f2"/>
<rect x="354" y="413" width="4" height="4" fill="#7fc1f2"/>
<rect x="358" y="413" width="4" height="4" fill="#84c3f2"/>
<rect x="362" y="413" width="12" height="4" fill="#8fc7f1"/>
<rect x="386" y="413" width="4" height="4" fill="#94c9f1"/>
<rect x="394" y="413" width="4" height="4" fill="#94c9f1"/>
<rect x="514" y="413" width="4" height="4" fill="#94c9f1"/>
<rect x="334" y="417" width="4" height="4" fill="#7fc1f2"/>
<rect x="342" y="417" width="4" height="4" fill="#7fc1f2"/>
<rect x="350" y="417" width="4" height="4" fill="#7abff2"/>
<rect x="354" y="417" width="12" height="4" fill="#8ac5f2"/>
<rect x="366" y="417" width="8" height="4" fill="#8fc7f1"/>
<rect x="382" y="417" width="8" height="4" fill="#94c9f1"/>
<rect x="342" y="421" width="4" height="4" fill="#7fc1f2"/>
<rect x="350" y="421" width="4" height="4" fill="#7abff2"/>
<rect x="354" y="421" width="8" height="4" fill="#84c3f2"/>
<rect x="362" y="421" width="4" height="4" fill="#8ac5f2"/>
<rect x="366" y="421" width="8" height="4" fill="#8fc7f1"/>
<rect x="378" y="421" width="4" height="4" fill="#94c9f1"/>
<rect x="342" y="425" width="4" height="4" fill="#75bdf3"/>
<rect x="346" y="425" width="8" height="4" fill="#7abff2"/>
<rect x="354" y="425" width="4" height="4" fill="#7fc1f2"/>
<rect x="358" y="425" width="4" height="4" fill="#84c3f2"/>
<rect x="362" y="425" width="4" height="4" fill="#8ac5f2"/>
<rect x="366" y="425" width="8" height="4" fill="#8fc7f1"/>
<rect x="394" y="425" width="4" height="4" fill="#94c9f1"/>
<rect x="402" y="425" width="4" height="4" fill="#94c9f1"/>
<rect x="410" y="425" width="4" height="4" fill="#94c9f1"/>
<rect x="430" y="425" width="4" height="4" fill="#94c9f1"/>
<rect x="518" y="425" width="4" height="4" fill="#94c9f1"/>
<rect x="338" y="429" width="4" height="4" fill="#75bdf3"/>
<rect x="342" y="429" width="8" height="4" fill="#70bbf3"/>
<rect x="350" y="429" width="8" height="4" fill="#7abff2"/>
<rect x="366" y="429" width="8" height="4" fill="#8fc7f1"/>
<rect x="374" y="429" width="4" height="4" fill="#94c9f1"/>
<rect x="390" y="429" width="8" height="4" fill="#94c9f1"/>
<rect x="406" y="429" width="4" height="4" fill="#94c9f1"/>
<rect x="474" y="429" width="4" height="4" fill="#94c9f1"/>
<rect x="334" y="433" width="8" height="3" fill="#75bdf3"/>
<rect x="342" y="433" width="4" height="3" fill="#70bbf3"/>
<rect x="346" y="433" width="8" height="3" fill="#75bdf3"/>
<rect x="354" y="433" width="8" height="3" fill="#7fc1f2"/>
<rect x="362" y="433" width="4" height="3" fill="#8ac5f2"/>
<rect x="366" y="433" width="8" height="3" fill="#8fc7f1"/>
<rect x="374" y="433" width="4" height="3" fill="#94c9f1"/>
<rect x="418" y="433" width="4" height="3" fill="#94c9f1"/>
<rect x="434" y="433" width="4" height="3" fill="#94c9f1"/>
<rect x="466" y="433" width="4" height="3" fill="#94c9f1"/>
<rect x="334" y="436" width="4" height="4" fill="#7abff2"/>
<rect x="342" y="436" width="4" height="4" fill="#6abaf3"/>
<rect x="346" y="436" width="4" height="4" fill="#70bbf3"/>
<rect x="350" y="436" width="4" height="4" fill="#75bdf3"/>
<rect x="354" y="436" width="4" height="4" fill="#7fc1f2"/>
<rect x="358" y="436" width="4" height="4" fill="#84c3f2"/>
<rect x="366" y="436" width="8" height="4" fill="#8fc7f1"/>
<rect x="374" y="436" width="8" height="4" fill="#94c9f1"/>
<rect x="330" y="440" width="4" height="4" fill="#7fc1f2"/>
<rect x="342" y="440" width="4" height="4" fill="#70bbf3"/>
<rect x="346" y="440" width="4" height="4" fill="#65b8f3"/>
<rect x="350" y="440" width="4" height="4" fill="#70bbf3"/>
<rect x="354" y="440" width="4" height="4" fill="#7abff2"/>
<rect x="358" y="440" width="4" height="4" fill="#84c3f2"/>
<rect x="362" y="440" width="4" height="4" fill="#8ac5f2"/>
<rect x="366" y="440" width="4" height="4" fill="#8fc7f1"/>
<rect x="374" y="440" width="8" height="4" fill="#94c9f1"/>
<rect x="426" y="440" width="4" height="4" fill="#94c9f1"/>
<rect x="330" y="444" width="4" height="4" fill="#7abff2"/>
<rect x="334" y="444" width="4" height="4" fill="#6abaf3"/>
<rect x="342" y="444" width="4" height="4" fill="#6abaf3"/>
<rect x="346" y="444" width="4" height="4" fill="#65b8f3"/>
<rect x="350" y="444" width="4" height="4" fill="#6abaf3"/>
<rect x="354" y="444" width="4" height="4" fill="#7abff2"/>
<rect x="358" y="444" width="4" height="4" fill="#7fc1f2"/>
<rect x="362" y="444" width="4" height="4" fill="#8ac5f2"/>
<rect x="366" y="444" width="4" height="4" fill="#8fc7f1"/>
<rect x="378" y="444" width="8" height="4" fill="#94c9f1"/>
<rect x="390" y="444" width="8" height="4" fill="#94c9f1"/>
<rect x="410" y="444" width="4" height="4" fill="#94c9f1"/>
<rect x="458" y="444" width="4" height="4" fill="#94c9f1"/>
<rect x="334" y="448" width="4" height="4" fill="#70bbf3"/>
<rect x="338" y="448" width="4" height="4" fill="#6abaf3"/>
<rect x="342" y="448" width="4" height="4" fill="#60b6f4"/>
<rect x="346" y="448" width="4" height="4" fill="#6abaf3"/>
<rect x="350" y="448" width="4" height="4" fill="#70bbf3"/>
<rect x="354" y="448" width="4" height="4" fill="#75bdf3"/>
<rect x="358" y="448" width="4" height="4" fill="#7fc1f2"/>
<rect x="366" y="448" width="8" height="4" fill="#8fc7f1"/>
<rect x="374" y="448" width="8" height="4" fill="#94c9f1"/>
<rect x="386" y="448" width="16" height="4" fill="#94c9f1"/>
<rect x="330" y="452" width="4" height="3" fill="#7abff2"/>
<rect x="334" y="452" width="4" height="3" fill="#75bdf3"/>
<rect x="338" y="452" width="4" height="3" fill="#60b6f4"/>
<rect x="342" y="452" width="8" height="3" fill="#65b8f3"/>
<rect x="350" y="452" width="4" height="3" fill="#70bbf3"/>
<rect x="354" y="452" width="4" height="3" fill="#7abff2"/>
<rect x="358" y="452" width="4" height="3" fill="#7fc1f2"/>
<rect x="362" y="452" width="4" height="3" fill="#8ac5f2"/>
<rect x="366" y="452" width="8" height="3" fill="#8fc7f1"/>
<rect x="374" y="452" width="8" height="3" fill="#94c9f1"/>
<rect x="386" y="452" width="8" height="3" fill="#94c9f1"/>
<rect x="414" y="452" width="4" height="3" fill="#94c9f1"/>
<rect x="422" y="452" width="4" height="3" fill="#94c9f1"/>
<rect x="502" y="452" width="4" height="3" fill="#94c9f1"/>
<rect x="330" y="455" width="4" height="4" fill="#7abff2"/>
<rect x="334" y="455" width="4" height="4" fill="#75bdf3"/>
<rect x="338" y="455" width="4" height="4" fill="#6abaf3"/>
<rect x="342" y="455" width="8" height="4" fill="#56b2f4"/>
<rect x="350" y="455" width="4" height="4" fill="#6abaf3"/>
<rect x="354" y="455" width="4" height="4" fill="#75bdf3"/>
<rect x="358" y="455" width="4" height="4" fill="#7fc1f2"/>
<rect x="362" y="455" width="4" height="4" fill="#8ac5f2"/>
<rect x="370" y="455" width="4" height="4" fill="#8fc7f1"/>
<rect x="378" y="455" width="4" height="4" fill="#94c9f1"/>
<rect x="330" y="459" width="4" height="4" fill="#70bbf3"/>
<rect x="334" y="459" width="8" height="4" fill="#6abaf3"/>
<rect x="342" y="459" width="4" height="4" fill="#65b8f3"/>
<rect x="346" y="459" width="4" height="4" fill="#6abaf3"/>
<rect x="350" y="459" width="4" height="4" fill="#65b8f3"/>
<rect x="354" y="459" width="4" height="4" fill="#7abff2"/>
<rect x="358" y="459" width="4" height="4" fill="#7fc1f2"/>
<rect x="362" y="459" width="4" height="4" fill="#8ac5f2"/>
<rect x="378" y="459" width="4" height="4" fill="#94c9f1"/>
<rect x="386" y="459" width="4" height="4" fill="#94c9f1"/>
<rect x="334" y="463" width="4" height="4" fill="#70bbf3"/>
<rect x="338" y="463" width="4" height="4" fill="#60b6f4"/>
<rect x="342" y="463" width="4" height="4" fill="#5bb4f4"/>
<rect x="346" y="463" width="4" height="4" fill="#65b8f3"/>
<rect x="350" y="463" width="4" height="4" fill="#60b6f4"/>
<rect x="354" y="463" width="4" height="4" fill="#7abff2"/>
<rect x="358" y="463" width="4" height="4" fill="#7fc1f2"/>
<rect x="366" y="463" width="8" height="4" fill="#8fc7f1"/>
<rect x="394" y="463" width="4" height="4" fill="#94c9f1"/>
<rect x="330" y="467" width="4" height="4" fill="#7abff2"/>
<rect x="334" y="467" width="4" height="4" fill="#70bbf3"/>
<rect x="338" y="467" width="4" height="4" fill="#6abaf3"/>
<rect x="342" y="467" width="4" height="4" fill="#56b2f4"/>
<rect x="346" y="467" width="4" height="4" fill="#6abaf3"/>
<rect x="350" y="467" width="4" height="4" fill="#60b6f4"/>
<rect x="354" y="467" width="4" height="4" fill="#70bbf3"/>
<rect x="358" y="467" width="4" height="4" fill="#7fc1f2"/>
<rect x="366" y="467" width="8" height="4" fill="#8fc7f1"/>
<rect x="378" y="467" width="8" height="4" fill="#94c9f1"/>
<rect x="390" y="467" width="8" height="4" fill="#94c9f1"/>
<rect x="330" y="471" width="4" height="4" fill="#7abff2"/>
<rect x="334" y="471" width="4" height="4" fill="#6abaf3"/>
<rect x="338" y="471" width="4" height="4" fill="#65b8f3"/>
<rect x="342" y="471" width="4" height="4" fill="#5bb4f4"/>
<rect x="346" y="471" width="4" height="4" fill="#56b2f4"/>
<rect x="350" y="471" width="4" height="4" fill="#6abaf3"/>
<rect x="354" y="471" width="4" height="4" fill="#70bbf3"/>
<rect x="358" y="471" width="4" height="4" fill="#7fc1f2"/>
<rect x="362" y="471" width="4" height="4" fill="#84c3f2"/>
<rect x="374" y="471" width="4" height="4" fill="#94c9f1"/>
<rect x="330" y="475" width="4" height="3" fill="#7abff2"/>
<rect x="334" y="475" width="4" height="3" fill="#6abaf3"/>
<rect x="338" y="475" width="8" height="3" fill="#5bb4f4"/>
<rect x="346" y="475" width="4" height="3" fill="#65b8f3"/>
<rect x="350" y="475" width="4" height="3" fill="#75bdf3"/>
<rect x="354" y="475" width="4" height="3" fill="#70bbf3"/>
<rect x="358" y="475" width="4" height="3" fill="#84c3f2"/>
<rect x="366" y="475" width="8" height="3" fill="#8fc7f1"/>
<rect x="486" y="475" width="8" height="3" fill="#94c9f1"/>
<rect x="330" y="478" width="4" height="4" fill="#7abff2"/>
<rect x="334" y="478" width="4" height="4" fill="#75bdf3"/>
<rect x="338" y="478" width="4" height="4" fill="#6abaf3"/>
<rect x="342" y="478" width="4" height="4" fill="#5bb4f4"/>
<rect x="346" y="478" width="4" height="4" fill="#60b6f4"/>
<rect x="358" y="478" width="4" height="4" fill="#7fc1f2"/>
<rect x="362" y="478" width="4" height="4" fill="#8ac5f2"/>
<rect x="366" y="478" width="4" height="4" fill="#8fc7f1"/>
<rect x="382" y="478" width="4" height="4" fill="#94c9f1"/>
<rect x="398" y="478" width="4" height="4" fill="#94c9f1"/>
<rect x="438" y="478" width="8" height="4" fill="#94c9f1"/>
<rect x="466" y="478" width="4" height="4" fill="#94c9f1"/>
<rect x="526" y="478" width="4" height="4" fill="#94c9f1"/>
<rect x="330" y="482" width="4" height="4" fill="#7fc1f2"/>
<rect x="334" y="482" width="4" height="4" fill="#6abaf3"/>
<rect x="338" y="482" width="4" height="4" fill="#70bbf3"/>
<rect x="342" y="482" width="8" height="4" fill="#60b6f4"/>
<rect x="350" y="482" width="4" height="4" fill="#70bbf3"/>
<rect x="354" y="482" width="4" height="4" fill="#75bdf3"/>
<rect x="358" y="482" width="4" height="4" fill="#84c3f2"/>
<rect x="370" y="482" width="4" height="4" fill="#8fc7f1"/>
<rect x="382" y="482" width="4" height="4" fill="#94c9f1"/>
<rect x="394" y="482" width="4" height="4" fill="#94c9f1"/>
<rect x="402" y="482" width="8" height="4" fill="#94c9f1"/>
<rect x="438" y="482" width="8" height="4" fill="#94c9f1"/>
<rect x="522" y="482" width="8" height="4" fill="#94c9f1"/>
<rect x="330" y="486" width="4" height="4" fill="#7fc1f2"/>
<rect x="334" y="486" width="8" height="4" fill="#28a5f0"/>
<rect x="342" y="486" width="4" height="4" fill="#60b6f4"/>
<rect x="346" y="486" width="4" height="4" fill="#6abaf3"/>
<rect x="350" y="486" width="4" height="4" fill="#70bbf3"/>
<rect x="354" y="486" width="4" height="4" fill="#75bdf3"/>
<rect x="366" y="486" width="4" height="4" fill="#8fc7f1"/>
<rect x="370" y="486" width="4" height="4" fill="#94c9f1"/>
<rect x="382" y="486" width="4" height="4" fill="#94c9f1"/>
<rect x="390" y="486" width="8" height="4" fill="#94c9f1"/>
<rect x="402" y="486" width="24" height="4" fill="#94c9f1"/>
<rect x="430" y="486" width="16" height="4" fill="#94c9f1"/>
<rect x="454" y="486" width="4" height="4" fill="#94c9f1"/>
<rect x="462" y="486" width="4" height="4" fill="#94c9f1"/>
<rect x="478" y="486" width="8" height="4" fill="#94c9f1"/>
<rect x="494" y="486" width="4" height="4" fill="#94c9f1"/>
<rect x="510" y="486" width="4" height="4" fill="#94c9f1"/>
<rect x="518" y="486" width="8" height="4" fill="#94c9f1"/>
<rect x="526" y="486" width="4" height="4" fill="#28a5f0"/>
<rect x="330" y="490" width="4" height="4" fill="#28a5f0"/>
<rect x="334" y="490" width="8" height="4" fill="#1482cd"/>
<rect x="342" y="490" width="8" height="4" fill="#6abaf3"/>
<rect x="350" y="490" width="4" height="4" fill="#70bbf3"/>
<rect x="354" y="490" width="4" height="4" fill="#7abff2"/>
<rect x="358" y="490" width="4" height="4" fill="#84c3f2"/>
<rect x="362" y="490" width="4" height="4" fill="#8fc7f1"/>
<rect x="370" y="490" width="12" height="4" fill="#94c9f1"/>
<rect x="386" y="490" width="100" height="4" fill="#94c9f1"/>
<rect x="490" y="490" width="12" height="4" fill="#94c9f1"/>
<rect x="510" y="490" width="16" height="4" fill="#94c9f1"/>
<rect x="526" y="490" width="4" height="4" fill="#23466a"/>
<rect x="330" y="494" width="4" height="3" fill="#195f96"/>
<rect x="334" y="494" width="4" height="3" fill="#23466a"/>
<rect x="338" y="494" width="4" height="3" fill="#195f96"/>
<rect x="342" y="494" width="8" height="3" fill="#70bbf3"/>
<rect x="350" y="494" width="4" height="3" fill="#7fc1f2"/>
<rect x="354" y="494" width="8" height="3" fill="#84c3f2"/>
<rect x="362" y="494" width="8" height="3" fill="#8fc7f1"/>
<rect x="370" y="494" width="4" height="3" fill="#94c9f1"/>
<rect x="382" y="494" width="24" height="3" fill="#94c9f1"/>
<rect x="418" y="494" width="24" height="3" fill="#94c9f1"/>
<rect x="450" y="494" width="4" height="3" fill="#94c9f1"/>
<rect x="458" y="494" width="4" height="3" fill="#94c9f1"/>
<rect x="470" y="494" width="4" height="3" fill="#94c9f1"/>
<rect x="482" y="494" width="4" height="3" fill="#94c9f1"/>
<rect x="494" y="494" width="32" height="3" fill="#94c9f1"/>
<rect x="526" y="494" width="4" height="3" fill="#195f96"/>
<rect x="330" y="497" width="4" height="4" fill="#23466a"/>
<rect x="334" y="497" width="4" height="4" fill="#195f96"/>
<rect x="338" y="497" width="4" height="4" fill="#1482cd"/>
<rect x="342" y="497" width="4" height="4" fill="#70bbf3"/>
<rect x="346" y="497" width="4" height="4" fill="#7abff2"/>
<rect x="354" y="497" width="4" height="4" fill="#84c3f2"/>
<rect x="358" y="497" width="8" height="4" fill="#8ac5f2"/>
<rect x="366" y="497" width="4" height="4" fill="#8fc7f1"/>
<rect x="370" y="497" width="4" height="4" fill="#94c9f1"/>
<rect x="386" y="497" width="16" height="4" fill="#94c9f1"/>
<rect x="418" y="497" width="4" height="4" fill="#94c9f1"/>
<rect x="426" y="497" width="4" height="4" fill="#94c9f1"/>
<rect x="446" y="497" width="4" height="4" fill="#94c9f1"/>
<rect x="490" y="497" width="4" height="4" fill="#94c9f1"/>
<rect x="502" y="497" width="4" height="4" fill="#94c9f1"/>
<rect x="510" y="497" width="4" height="4" fill="#94c9f1"/>
<rect x="526" y="497" width="4" height="4" fill="#28a5f0"/>
<rect x="330" y="501" width="4" height="4" fill="#28a5f0"/>
<rect x="334" y="501" width="8" height="4" fill="#7fc1f2"/>
<rect x="346" y="501" width="4" height="4" fill="#7abff2"/>
<rect x="378" y="501" width="4" height="4" fill="#94c9f1"/>
<rect x="526" y="501" width="4" height="4" fill="#94c9f1"/>
</g>
<g>
<line x1="58.80" x2="58.80" y1="514.30" y2="517.70" stroke="#111" stroke-width="0.8"/>
<text x="58.80" y="529.80" font-size="10.5" text-anchor="middle">0.0</text>
<line x1="46.30" x2="49.50" y1="506.70" y2="506.70" stroke="#111" stroke-width="0.8"/>
<text x="42.90" y="510.60" font-size="10.5" text-anchor="end">0.0</text>
<line x1="99.18" x2="99.18" y1="514.30" y2="517.70" stroke="#111" stroke-width="0.8"/>
<text x="99.18" y="529.80" font-size="10.5" text-anchor="middle">0.2</text>
<line x1="46.30" x2="49.50" y1="467.66" y2="467.66" stroke="#111" stroke-width="0.8"/>
<text x="42.90" y="471.56" font-size="10.5" text-anchor="end">0.2</text>
<line x1="139.56" x2="139.56" y1="514.30" y2="517.70" stroke="#111" stroke-width="0.8"/>
<text x="139.56" y="529.80" font-size="10.5" text-anchor="middle">0.4</text>
<line x1="46.30" x2="49.50" y1="428.62" y2="428.62" stroke="#111" stroke-width="0.8"/>
<text x="42.90" y="432.52" font-size="10.5" text-anchor="end">0.4</text>
<line x1="179.94" x2="179.94" y1="514.30" y2="517.70" stroke="#111" stroke-width="0.8"/>
<text x="179.94" y="529.80" font-size="10.5" text-anchor="middle">0.6</text>
<line x1="46.30" x2="49.50" y1="389.58" y2="389.58" stroke="#111" stroke-width="0.8"/>
<text x="42.90" y="393.48" font-size="10.5" text-anchor="end">0.6</text>
<line x1="220.32" x2="220.32" y1="514.30" y2="517.70" stroke="#111" stroke-width="0.8"/>
<text x="220.32" y="529.80" font-size="10.5" text-anchor="middle">0.8</text>
<line x1="46.30" x2="49.50" y1="350.54" y2="350.54" stroke="#111" stroke-width="0.8"/>
<text x="42.90" y="354.44" font-size="10.5" text-anchor="end">0.8</text>
<line x1="260.70" x2="260.70" y1="514.30" y2="517.70" stroke="#111" stroke-width="0.8"/>
<text x="260.70" y="529.80" font-size="10.5" text-anchor="middle">1.0</text>
<line x1="46.30" x2="49.50" y1="311.50" y2="311.50" stroke="#111" stroke-width="0.8"/>
<text x="42.90" y="315.40" font-size="10.5" text-anchor="end">1.0</text>
<text x="160.00" y="542.90" font-size="10.5" text-anchor="middle">x</text>
<text transform="translate(20.00,410.00) rotate(-90)" font-size="10.5" text-anchor="middle">y</text>
</g>
<g>
<line x1="328.70" x2="328.70" y1="514.30" y2="517.70" stroke="#111" stroke-width="0.8"/>
<text x="328.70" y="529.80" font-size="10.5" text-anchor="middle">0.0</text>
<line x1="316.30" x2="319.50" y1="508.30" y2="508.30" stroke="#111" stroke-width="0.8"/>
<text x="312.90" y="512.20" font-size="10.5" text-anchor="end">0.0</text>
<line x1="369.06" x2="369.06" y1="514.30" y2="517.70" stroke="#111" stroke-width="0.8"/>
<text x="369.06" y="529.80" font-size="10.5" text-anchor="middle">0.2</text>
<line x1="316.30" x2="319.50" y1="469.50" y2="469.50" stroke="#111" stroke-width="0.8"/>
<text x="312.90" y="473.40" font-size="10.5" text-anchor="end">0.2</text>
<line x1="409.42" x2="409.42" y1="514.30" y2="517.70" stroke="#111" stroke-width="0.8"/>
<text x="409.42" y="529.80" font-size="10.5" text-anchor="middle">0.4</text>
<line x1="316.30" x2="319.50" y1="430.70" y2="430.70" stroke="#111" stroke-width="0.8"/>
<text x="312.90" y="434.60" font-size="10.5" text-anchor="end">0.4</text>
<line x1="449.78" x2="449.78" y1="514.30" y2="517.70" stroke="#111" stroke-width="0.8"/>
<text x="449.78" y="529.80" font-size="10.5" text-anchor="middle">0.6</text>
<line x1="316.30" x2="319.50" y1="391.90" y2="391.90" stroke="#111" stroke-width="0.8"/>
<text x="312.90" y="395.80" font-size="10.5" text-anchor="end">0.6</text>
<line x1="490.14" x2="490.14" y1="514.30" y2="517.70" stroke="#111" stroke-width="0.8"/>
<text x="490.14" y="529.80" font-size="10.5" text-anchor="middle">0.8</text>
<line x1="316.30" x2="319.50" y1="353.10" y2="353.10" stroke="#111" stroke-width="0.8"/>
<text x="312.90" y="357.00" font-size="10.5" text-anchor="end">0.8</text>
<line x1="530.50" x2="530.50" y1="514.30" y2="517.70" stroke="#111" stroke-width="0.8"/>
<text x="530.50" y="529.80" font-size="10.5" text-anchor="middle">1.0</text>
<line x1="316.30" x2="319.50" y1="314.30" y2="314.30" stroke="#111" stroke-width="0.8"/>
<text x="312.90" y="318.20" font-size="10.5" text-anchor="end">1.0</text>
<text x="430.00" y="542.90" font-size="10.5" text-anchor="middle">width</text>
<text transform="translate(291.00,411.00) rotate(-90)" font-size="10.5" text-anchor="middle">height</text>
</g>
<g fill="none" stroke-width="0.8" stroke-opacity="0.12">
<rect x="416.8" y="59.2" width="25.3" height="117.0" stroke="#ff701f"/>
<rect x="413.9" y="28.1" width="31.2" height="179.2" stroke="#1cec30"/>
<rect x="416.3" y="73.9" width="26.3" height="87.6" stroke="#ffb21d"/>
<rect x="415.9" y="28.2" width="27.3" height="179.0" stroke="#cfd231"/>
<rect x="416.5" y="65.0" width="26.0" height="105.4" stroke="#ffb21d"/>
<rect x="399.6" y="27.3" width="59.7" height="180.7" stroke="#1cec30"/>
<rect x="398.6" y="69.4" width="61.8" height="96.6" stroke="#1cec30"/>
<rect x="407.1" y="67.7" width="44.7" height="100.1" stroke="#1cec30"/>
<rect x="403.0" y="79.5" width="53.0" height="76.5" stroke="#92cc17"/>
<rect x="405.2" y="44.6" width="48.5" height="146.2" stroke="#1cec30"/>
<rect x="399.8" y="27.8" width="59.4" height="179.8" stroke="#1cec30"/>
<rect x="401.7" y="71.3" width="55.6" height="92.7" stroke="#cfd231"/>
<rect x="411.4" y="66.3" width="36.2" height="102.7" stroke="#cfd231" stroke-opacity="0.1"/>
<rect x="410.0" y="55.1" width="39.0" height="125.2" stroke="#cfd231"/>
<rect x="407.8" y="15.6" width="43.5" height="204.2" stroke="#cfd231" stroke-opacity="0.1"/>
<rect x="400.2" y="65.6" width="58.6" height="104.2" stroke="#1cec30"/>
<rect x="399.6" y="26.9" width="59.8" height="181.6" stroke="#1cec30" stroke-opacity="0.1"/>
<rect x="330.6" y="72.9" width="197.8" height="89.5" stroke="#1cec30" stroke-opacity="0.17" stroke-width="0.6"/>
<rect x="414.5" y="31.7" width="30.0" height="172.0" stroke="#cfd231" stroke-opacity="0.1"/>
<rect x="417.0" y="78.6" width="25.0" height="78.2" stroke="#ff701f"/>
<rect x="416.9" y="75.5" width="25.3" height="84.5" stroke="#ffb21d"/>
<rect x="415.3" y="17.3" width="28.4" height="200.9" stroke="#92cc17" stroke-opacity="0.1"/>
<rect x="414.6" y="13.7" width="29.7" height="207.9" stroke="#1cec30"/>
<rect x="404.7" y="38.0" width="49.7" height="159.4" stroke="#1cec30"/>
<rect x="409.4" y="21.0" width="40.2" height="193.3" stroke="#cfd231"/>
<rect x="398.6" y="27.4" width="61.7" height="180.6" stroke="#1cec30"/>
<rect x="416.3" y="33.4" width="26.4" height="168.6" stroke="#92cc17" stroke-opacity="0.1"/>
<rect x="390.6" y="46.5" width="77.9" height="142.4" stroke="#1cec30" stroke-opacity="0.17" stroke-width="0.6"/>
<rect x="413.3" y="59.4" width="32.4" height="116.6" stroke="#1cec30"/>
<rect x="326.9" y="101.7" width="205.3" height="31.9" stroke="#92cc17" stroke-opacity="0.17" stroke-width="0.6"/>
<rect x="399.6" y="27.1" width="59.8" height="181.2" stroke="#1cec30"/>
<rect x="416.7" y="97.7" width="25.6" height="40.0" stroke="#ffb21d"/>
<rect x="399.6" y="15.0" width="59.9" height="205.5" stroke="#1cec30"/>
<rect x="411.4" y="17.5" width="36.1" height="200.3" stroke="#1cec30"/>
<rect x="400.2" y="64.0" width="58.5" height="107.4" stroke="#cfd231" stroke-opacity="0.1"/>
<rect x="417.8" y="85.0" width="23.4" height="65.5" stroke="#cfd231"/>
<rect x="398.6" y="27.2" width="61.9" height="181.0" stroke="#1cec30"/>
<rect x="416.2" y="67.5" width="26.6" height="100.4" stroke="#ff701f"/>
<rect x="417.3" y="104.4" width="24.5" height="26.7" stroke="#ffb21d"/>
<rect x="407.3" y="19.1" width="44.4" height="197.3" stroke="#cfd231" stroke-opacity="0.1"/>
<rect x="394.7" y="44.4" width="69.6" height="146.6" stroke="#1cec30" stroke-opacity="0.17" stroke-width="0.6"/>
<rect x="399.2" y="36.0" width="60.6" height="163.5" stroke="#1cec30"/>
<rect x="405.3" y="88.9" width="48.5" height="57.5" stroke="#cfd231"/>
<rect x="406.8" y="53.8" width="45.4" height="127.8" stroke="#92cc17"/>
<rect x="411.6" y="65.8" width="35.9" height="103.7" stroke="#1cec30" stroke-opacity="0.1"/>
<rect x="401.5" y="19.8" width="56.0" height="195.7" stroke="#cfd231" stroke-opacity="0.1"/>
<rect x="410.8" y="23.2" width="37.4" height="189.1" stroke="#cfd231" stroke-opacity="0.1"/>
<rect x="407.7" y="55.9" width="43.6" height="123.6" stroke="#92cc17"/>
<rect x="413.1" y="53.6" width="32.8" height="128.2" stroke="#cfd231"/>
<rect x="396.0" y="87.8" width="67.0" height="59.7" stroke="#ffb21d" stroke-opacity="0.17" stroke-width="0.6"/>
<rect x="399.5" y="27.4" width="60.1" height="180.5" stroke="#1cec30"/>
<rect x="416.7" y="60.9" width="25.6" height="113.6" stroke="#cfd231"/>
<rect x="404.6" y="15.4" width="49.9" height="204.6" stroke="#cfd231" stroke-opacity="0.1"/>
<rect x="324.9" y="103.8" width="209.3" height="27.7" stroke="#00d4bb" stroke-opacity="0.17" stroke-width="0.6"/>
<rect x="403.1" y="15.1" width="52.8" height="205.3" stroke="#1cec30"/>
<rect x="373.6" y="34.5" width="111.8" height="166.3" stroke="#1cec30" stroke-opacity="0.17" stroke-width="0.6"/>
<rect x="417.5" y="92.4" width="24.0" height="50.6" stroke="#ffb21d"/>
<rect x="407.1" y="29.8" width="44.8" height="175.7" stroke="#1cec30"/>
<rect x="413.9" y="62.9" width="31.3" height="109.6" stroke="#1cec30"/>
<rect x="385.9" y="86.3" width="87.2" height="62.7" stroke="#1cec30" stroke-opacity="0.17" stroke-width="0.6"/>
<rect x="356.2" y="61.8" width="146.6" height="111.9" stroke="#1cec30" stroke-opacity="0.17" stroke-width="0.6"/>
<rect x="409.9" y="41.0" width="39.2" height="153.4" stroke="#cfd231" stroke-opacity="0.1"/>
<rect x="406.0" y="42.4" width="47.0" height="150.5" stroke="#1cec30" stroke-opacity="0.1"/>
<rect x="410.5" y="63.1" width="38.0" height="109.2" stroke="#cfd231"/>
<rect x="416.5" y="101.2" width="26.0" height="33.1" stroke="#ff701f"/>
<rect x="408.7" y="23.4" width="41.7" height="188.6" stroke="#cfd231" stroke-opacity="0.1"/>
<rect x="402.6" y="41.5" width="53.7" height="152.3" stroke="#cfd231" stroke-opacity="0.1"/>
<rect x="413.7" y="42.8" width="31.5" height="149.8" stroke="#1cec30"/>
<rect x="404.0" y="52.8" width="50.9" height="129.8" stroke="#1cec30" stroke-opacity="0.1"/>
<rect x="416.9" y="94.7" width="25.2" height="45.9" stroke="#ffb21d"/>
<rect x="373.6" y="61.0" width="111.8" height="113.3" stroke="#92cc17" stroke-opacity="0.17" stroke-width="0.6"/>
<rect x="401.5" y="50.4" width="56.1" height="134.5" stroke="#cfd231" stroke-opacity="0.1"/>
<rect x="416.6" y="94.5" width="25.7" height="46.4" stroke="#ffb21d"/>
<rect x="416.9" y="96.5" width="25.3" height="42.4" stroke="#ffb21d"/>
<rect x="408.9" y="14.7" width="41.2" height="205.9" stroke="#ffb21d"/>
<rect x="402.7" y="24.6" width="53.7" height="186.2" stroke="#1cec30"/>
<rect x="405.3" y="28.4" width="48.4" height="178.7" stroke="#1cec30" stroke-opacity="0.1"/>
<rect x="408.3" y="69.2" width="42.3" height="97.0" stroke="#cfd231" stroke-opacity="0.1"/>
<rect x="403.7" y="45.7" width="51.7" height="144.0" stroke="#1cec30"/>
<rect x="416.3" y="44.8" width="26.4" height="145.7" stroke="#cfd231"/>
<rect x="378.0" y="15.5" width="102.9" height="204.4" stroke="#3ddb86" stroke-opacity="0.17" stroke-width="0.6"/>
<rect x="382.6" y="78.8" width="93.9" height="77.8" stroke="#00d4bb" stroke-opacity="0.17" stroke-width="0.6"/>
<rect x="415.8" y="57.2" width="27.4" height="121.0" stroke="#ff701f"/>
<rect x="417.1" y="82.1" width="24.8" height="71.2" stroke="#ffb21d"/>
<rect x="407.2" y="44.3" width="44.7" height="146.8" stroke="#cfd231"/>
<rect x="399.6" y="28.3" width="59.8" height="178.9" stroke="#1cec30"/>
<rect x="408.2" y="31.1" width="42.6" height="173.2" stroke="#cfd231"/>
<rect x="396.8" y="28.2" width="65.4" height="178.9" stroke="#1cec30" stroke-opacity="0.17" stroke-width="0.6"/>
<rect x="398.9" y="71.4" width="61.2" height="92.7" stroke="#1cec30"/>
<rect x="397.5" y="15.7" width="64.1" height="204.0" stroke="#3ddb86"/>
<rect x="413.9" y="44.4" width="31.1" height="146.6" stroke="#1cec30" stroke-opacity="0.1"/>
<rect x="408.3" y="64.1" width="42.4" height="107.2" stroke="#1cec30"/>
<rect x="406.8" y="27.1" width="45.5" height="181.1" stroke="#1cec30"/>
<rect x="410.8" y="35.9" width="37.5" height="163.6" stroke="#1cec30"/>
<rect x="406.5" y="67.6" width="45.9" height="100.2" stroke="#3ddb86"/>
<rect x="416.6" y="83.5" width="25.8" height="68.4" stroke="#ffb21d"/>
<rect x="414.1" y="36.2" width="30.8" height="163.1" stroke="#1cec30"/>
<rect x="416.8" y="46.8" width="25.4" height="141.7" stroke="#1cec30"/>
<rect x="400.4" y="33.3" width="58.1" height="168.7" stroke="#92cc17" stroke-opacity="0.1"/>
<rect x="417.2" y="66.3" width="24.6" height="102.8" stroke="#ffb21d"/>
<rect x="381.3" y="82.7" width="96.3" height="69.9" stroke="#1cec30" stroke-opacity="0.17" stroke-width="0.6"/>
<rect x="401.9" y="15.2" width="55.1" height="205.0" stroke="#92cc17" stroke-opacity="0.1"/>
<rect x="359.2" y="42.1" width="140.6" height="151.2" stroke="#92cc17" stroke-opacity="0.17" stroke-width="0.6"/>
<rect x="401.2" y="22.6" width="56.6" height="190.2" stroke="#cfd231"/>
<rect x="416.3" y="14.2" width="26.5" height="207.0" stroke="#cfd231" stroke-opacity="0.1"/>
<rect x="416.6" y="65.7" width="25.8" height="104.0" stroke="#ffb21d"/>
<rect x="414.0" y="79.9" width="31.0" height="75.5" stroke="#1cec30"/>
<rect x="416.0" y="74.7" width="26.9" height="85.9" stroke="#ffb21d"/>
<rect x="417.2" y="34.5" width="24.5" height="166.4" stroke="#1cec30"/>
<rect x="406.0" y="25.0" width="47.1" height="185.4" stroke="#cfd231" stroke-opacity="0.1"/>
<rect x="416.5" y="21.6" width="26.0" height="192.1" stroke="#ffb21d"/>
<rect x="417.7" y="78.4" width="23.7" height="78.5" stroke="#cfd231"/>
<rect x="407.9" y="19.6" width="43.1" height="196.2" stroke="#92cc17" stroke-opacity="0.1"/>
<rect x="402.7" y="69.2" width="53.5" height="96.9" stroke="#cfd231"/>
<rect x="399.2" y="34.0" width="60.6" height="167.5" stroke="#1cec30"/>
<rect x="408.8" y="72.1" width="41.5" height="91.3" stroke="#cfd231"/>
<rect x="397.7" y="46.5" width="63.6" height="142.5" stroke="#1cec30"/>
<rect x="408.8" y="19.9" width="41.3" height="195.6" stroke="#cfd231"/>
<rect x="409.6" y="54.4" width="39.9" height="126.6" stroke="#1cec30"/>
<rect x="406.8" y="19.0" width="45.3" height="197.3" stroke="#92cc17" stroke-opacity="0.1"/>
<rect x="408.0" y="14.6" width="42.9" height="206.3" stroke="#1cec30"/>
<rect x="416.7" y="26.0" width="25.6" height="183.4" stroke="#ffb21d"/>
<rect x="381.6" y="71.1" width="95.9" height="93.2" stroke="#1cec30" stroke-opacity="0.17" stroke-width="0.6"/>
<rect x="415.4" y="49.3" width="28.1" height="136.7" stroke="#cfd231"/>
<rect x="416.4" y="33.5" width="26.2" height="168.3" stroke="#cfd231"/>
<rect x="398.8" y="28.3" width="61.3" height="178.9" stroke="#1cec30"/>
<rect x="417.2" y="105.8" width="24.6" height="23.9" stroke="#ffb21d"/>
<rect x="337.7" y="47.6" width="183.7" height="140.2" stroke="#00d4bb" stroke-opacity="0.17" stroke-width="0.6"/>
<rect x="347.4" y="42.5" width="164.2" height="150.4" stroke="#3ddb86" stroke-opacity="0.17" stroke-width="0.6"/>
<rect x="372.7" y="35.6" width="113.7" height="164.2" stroke="#00d4bb" stroke-opacity="0.17" stroke-width="0.6"/>
<rect x="399.2" y="73.5" width="60.5" height="88.5" stroke="#1cec30"/>
<rect x="412.9" y="50.3" width="33.2" height="134.8" stroke="#92cc17"/>
<rect x="414.1" y="28.2" width="30.9" height="179.0" stroke="#1cec30"/>
<rect x="410.1" y="72.2" width="38.8" height="91.1" stroke="#1cec30"/>
<rect x="370.9" y="21.4" width="117.1" height="192.6" stroke="#1a9334" stroke-opacity="0.17" stroke-width="0.6"/>
<rect x="417.3" y="59.6" width="24.4" height="116.1" stroke="#ff701f"/>
<rect x="404.8" y="60.7" width="49.5" height="114.0" stroke="#92cc17"/>
<rect x="402.4" y="36.8" width="54.3" height="161.7" stroke="#cfd231"/>
<rect x="396.7" y="27.2" width="65.6" height="180.9" stroke="#cfd231" stroke-opacity="0.17" stroke-width="0.6"/>
<rect x="411.4" y="34.7" width="36.2" height="166.0" stroke="#cfd231" stroke-opacity="0.1"/>
<rect x="381.5" y="14.0" width="96.1" height="207.3" stroke="#1cec30" stroke-opacity="0.17" stroke-width="0.6"/>
<rect x="416.6" y="25.4" width="25.7" height="184.7" stroke="#1cec30" stroke-opacity="0.1"/>
<rect x="416.3" y="62.1" width="26.5" height="111.1" stroke="#ffb21d"/>
<rect x="411.7" y="101.6" width="35.6" height="32.3" stroke="#cfd231"/>
<rect x="417.2" y="40.8" width="24.6" height="153.8" stroke="#cfd231"/>
<rect x="407.8" y="62.5" width="43.4" height="110.4" stroke="#cfd231"/>
<rect x="391.0" y="61.3" width="77.0" height="112.7" stroke="#1cec30" stroke-opacity="0.17" stroke-width="0.6"/>
<rect x="403.1" y="84.6" width="52.8" height="66.3" stroke="#1cec30"/>
<rect x="406.8" y="65.9" width="45.3" height="103.6" stroke="#1cec30"/>
<rect x="398.3" y="28.2" width="62.5" height="179.0" stroke="#1cec30"/>
<rect x="407.9" y="30.3" width="43.2" height="174.8" stroke="#cfd231" stroke-opacity="0.1"/>
<rect x="399.6" y="82.9" width="59.8" height="69.7" stroke="#1cec30"/>
<rect x="399.2" y="19.9" width="60.6" height="195.5" stroke="#1cec30" stroke-opacity="0.1"/>
<rect x="414.4" y="31.2" width="30.3" height="173.1" stroke="#cfd231" stroke-opacity="0.1"/>
<rect x="400.2" y="53.9" width="58.6" height="127.7" stroke="#cfd231"/>
<rect x="416.4" y="69.1" width="26.3" height="97.2" stroke="#ffb21d"/>
<rect x="404.8" y="67.2" width="49.5" height="101.0" stroke="#cfd231"/>
<rect x="398.9" y="81.7" width="61.2" height="71.9" stroke="#1cec30"/>
<rect x="365.5" y="33.4" width="128.1" height="168.7" stroke="#00d4bb" stroke-opacity="0.17" stroke-width="0.6"/>
<rect x="416.3" y="99.6" width="26.4" height="36.2" stroke="#ffb21d"/>
<rect x="409.7" y="65.6" width="39.6" height="104.3" stroke="#cfd231"/>
<rect x="410.3" y="36.0" width="38.4" height="163.5" stroke="#1cec30"/>
<rect x="395.5" y="38.2" width="68.0" height="159.0" stroke="#00d4bb" stroke-opacity="0.17" stroke-width="0.6"/>
<rect x="398.8" y="87.5" width="61.5" height="60.5" stroke="#ffb21d"/>
<rect x="403.0" y="33.5" width="53.0" height="168.4" stroke="#1cec30"/>
<rect x="409.7" y="57.0" width="39.6" height="121.3" stroke="#cfd231" stroke-opacity="0.1"/>
<rect x="414.1" y="30.1" width="30.8" height="175.3" stroke="#1cec30"/>
<rect x="399.4" y="28.3" width="60.2" height="178.9" stroke="#1cec30"/>
<rect x="400.8" y="60.1" width="57.4" height="115.3" stroke="#cfd231"/>
<rect x="397.9" y="49.0" width="63.2" height="137.4" stroke="#1cec30"/>
<rect x="397.9" y="31.4" width="63.3" height="172.6" stroke="#92cc17"/>
<rect x="399.7" y="36.3" width="59.6" height="162.7" stroke="#1cec30"/>
<rect x="385.5" y="37.9" width="88.1" height="159.5" stroke="#1cec30" stroke-opacity="0.17" stroke-width="0.6"/>
<rect x="400.1" y="14.7" width="58.9" height="206.0" stroke="#1cec30"/>
<rect x="416.3" y="30.1" width="26.4" height="175.2" stroke="#cfd231"/>
<rect x="403.2" y="21.1" width="52.5" height="193.2" stroke="#92cc17"/>
<rect x="405.7" y="46.5" width="47.5" height="142.5" stroke="#cfd231"/>
<rect x="416.2" y="47.6" width="26.6" height="140.2" stroke="#cfd231"/>
<rect x="416.9" y="76.8" width="25.1" height="81.8" stroke="#ff701f"/>
<rect x="406.7" y="25.8" width="45.6" height="183.8" stroke="#1cec30"/>
<rect x="407.8" y="28.5" width="43.5" height="178.5" stroke="#1cec30" stroke-opacity="0.1"/>
<rect x="416.0" y="58.9" width="27.0" height="117.6" stroke="#ffb21d"/>
<rect x="339.0" y="88.5" width="180.9" height="58.4" stroke="#1cec30" stroke-opacity="0.17" stroke-width="0.6"/>
<rect x="381.6" y="27.5" width="95.9" height="180.5" stroke="#1cec30" stroke-opacity="0.17" stroke-width="0.6"/>
<rect x="395.3" y="41.1" width="68.4" height="153.1" stroke="#92cc17" stroke-opacity="0.17" stroke-width="0.6"/>
<rect x="408.0" y="52.2" width="43.1" height="131.1" stroke="#cfd231" stroke-opacity="0.1"/>
<rect x="401.3" y="19.7" width="56.5" height="196.1" stroke="#cfd231"/>
<rect x="406.9" y="28.2" width="45.3" height="179.0" stroke="#1cec30"/>
<rect x="416.2" y="65.1" width="26.7" height="105.3" stroke="#ffb21d"/>
<rect x="399.0" y="36.1" width="60.9" height="163.2" stroke="#1cec30"/>
<rect x="403.8" y="35.8" width="51.4" height="163.9" stroke="#cfd231"/>
<rect x="358.3" y="51.8" width="142.4" height="131.8" stroke="#3ddb86" stroke-opacity="0.17" stroke-width="0.6"/>
<rect x="404.2" y="30.3" width="50.6" height="174.8" stroke="#cfd231" stroke-opacity="0.1"/>
<rect x="399.2" y="55.4" width="60.5" height="124.5" stroke="#1cec30"/>
<rect x="407.0" y="28.3" width="44.9" height="178.8" stroke="#1cec30"/>
<rect x="410.4" y="46.6" width="38.2" height="142.2" stroke="#1cec30"/>
<rect x="408.4" y="44.6" width="42.2" height="146.2" stroke="#1cec30"/>
<rect x="407.4" y="28.2" width="44.3" height="179.0" stroke="#1cec30"/>
<rect x="407.7" y="42.5" width="43.5" height="150.4" stroke="#cfd231" stroke-opacity="0.1"/>
<rect x="402.8" y="35.2" width="53.4" height="165.0" stroke="#cfd231" stroke-opacity="0.1"/>
<rect x="414.2" y="45.8" width="30.6" height="143.8" stroke="#1cec30" stroke-opacity="0.1"/>
<rect x="416.4" y="37.5" width="26.2" height="160.5" stroke="#cfd231"/>
<rect x="413.4" y="50.3" width="32.2" height="134.7" stroke="#92cc17" stroke-opacity="0.1"/>
<rect x="409.0" y="35.4" width="41.0" height="164.6" stroke="#92cc17" stroke-opacity="0.1"/>
<rect x="401.9" y="66.3" width="55.3" height="102.9" stroke="#92cc17"/>
<rect x="400.4" y="34.6" width="58.2" height="166.2" stroke="#1cec30"/>
<rect x="403.0" y="29.2" width="53.0" height="176.9" stroke="#1cec30"/>
<rect x="385.4" y="55.5" width="88.2" height="124.3" stroke="#1cec30" stroke-opacity="0.17" stroke-width="0.6"/>
<rect x="408.5" y="49.2" width="42.1" height="137.0" stroke="#cfd231" stroke-opacity="0.1"/>
<rect x="410.1" y="50.4" width="38.9" height="134.6" stroke="#1cec30"/>
<rect x="391.1" y="28.2" width="76.9" height="179.0" stroke="#1cec30" stroke-opacity="0.17" stroke-width="0.6"/>
<rect x="417.1" y="88.9" width="24.9" height="57.6" stroke="#ff701f"/>
<rect x="369.6" y="34.0" width="119.9" height="167.3" stroke="#92cc17" stroke-opacity="0.17" stroke-width="0.6"/>
<rect x="404.6" y="27.6" width="49.9" height="180.2" stroke="#1cec30"/>
<rect x="345.4" y="42.9" width="168.2" height="149.6" stroke="#00d4bb" stroke-opacity="0.17" stroke-width="0.6"/>
<rect x="417.0" y="65.3" width="24.9" height="104.8" stroke="#ffb21d"/>
<rect x="417.1" y="70.8" width="24.8" height="93.7" stroke="#cfd231"/>
<rect x="408.6" y="44.5" width="41.9" height="146.4" stroke="#cfd231" stroke-opacity="0.1"/>
<rect x="399.7" y="14.2" width="59.6" height="206.9" stroke="#1cec30"/>
<rect x="369.7" y="36.4" width="119.7" height="162.6" stroke="#1cec30" stroke-opacity="0.17" stroke-width="0.6"/>
<rect x="412.0" y="41.3" width="35.0" height="152.9" stroke="#cfd231" stroke-opacity="0.1"/>
<rect x="404.8" y="87.0" width="49.3" height="61.3" stroke="#ffb21d"/>
<rect x="416.1" y="82.0" width="26.7" height="71.4" stroke="#ffb21d"/>
<rect x="420.4" y="94.4" width="18.1" height="46.6" stroke="#ffb21d"/>
<rect x="392.2" y="45.4" width="74.6" height="144.6" stroke="#00d4bb" stroke-opacity="0.17" stroke-width="0.6"/>
<rect x="405.3" y="38.5" width="48.4" height="158.5" stroke="#cfd231" stroke-opacity="0.1"/>
<rect x="353.6" y="76.7" width="151.8" height="82.0" stroke="#3ddb86" stroke-opacity="0.17" stroke-width="0.6"/>
<rect x="409.9" y="52.7" width="39.2" height="130.0" stroke="#1cec30"/>
<rect x="403.0" y="39.6" width="53.0" height="156.1" stroke="#92cc17" stroke-opacity="0.1"/>
<rect x="405.5" y="67.6" width="48.1" height="100.1" stroke="#92cc17" stroke-opacity="0.1"/>
<rect x="416.4" y="22.0" width="26.3" height="191.4" stroke="#ffb21d"/>
<rect x="376.8" y="44.4" width="105.5" height="146.5" stroke="#3ddb86" stroke-opacity="0.17" stroke-width="0.6"/>
<rect x="403.6" y="18.8" width="51.8" height="197.8" stroke="#cfd231" stroke-opacity="0.1"/>
<rect x="398.7" y="27.0" width="61.6" height="181.3" stroke="#1cec30"/>
<rect x="381.5" y="19.0" width="96.0" height="197.4" stroke="#1cec30" stroke-opacity="0.17" stroke-width="0.6"/>
<rect x="416.8" y="77.4" width="25.4" height="80.7" stroke="#ff701f"/>
<rect x="416.1" y="67.8" width="26.7" height="99.9" stroke="#ffb21d"/>
<rect x="369.7" y="32.9" width="119.6" height="169.5" stroke="#92cc17" stroke-opacity="0.17" stroke-width="0.6"/>
<rect x="393.3" y="64.9" width="72.4" height="105.6" stroke="#1cec30" stroke-opacity="0.17" stroke-width="0.6"/>
<rect x="401.8" y="17.5" width="55.5" height="200.3" stroke="#cfd231" stroke-opacity="0.1"/>
<rect x="411.2" y="26.2" width="36.5" height="183.0" stroke="#cfd231" stroke-opacity="0.1"/>
<rect x="414.5" y="19.5" width="30.0" height="196.5" stroke="#92cc17" stroke-opacity="0.1"/>
<rect x="398.9" y="31.0" width="61.2" height="173.3" stroke="#1cec30"/>
<rect x="416.5" y="20.5" width="26.1" height="194.5" stroke="#cfd231"/>
<rect x="406.4" y="47.8" width="46.2" height="139.8" stroke="#1cec30"/>
<rect x="416.5" y="58.1" width="26.0" height="119.3" stroke="#ffb21d"/>
<rect x="411.0" y="89.6" width="36.9" height="56.1" stroke="#1cec30"/>
<rect x="411.1" y="47.5" width="36.7" height="140.5" stroke="#cfd231" stroke-opacity="0.1"/>
<rect x="407.3" y="58.2" width="44.4" height="119.0" stroke="#00d4bb"/>
<rect x="401.9" y="72.3" width="55.3" height="90.8" stroke="#cfd231"/>
<rect x="400.0" y="30.1" width="59.0" height="175.2" stroke="#1cec30"/>
<rect x="414.9" y="87.9" width="29.3" height="59.6" stroke="#ffb21d"/>
<rect x="395.5" y="28.3" width="68.0" height="178.7" stroke="#1cec30" stroke-opacity="0.17" stroke-width="0.6"/>
<rect x="407.3" y="16.2" width="44.5" height="203.0" stroke="#1cec30"/>
<rect x="413.4" y="63.8" width="32.2" height="107.9" stroke="#92cc17" stroke-opacity="0.1"/>
<rect x="399.4" y="33.6" width="60.2" height="168.2" stroke="#00d4bb"/>
<rect x="375.3" y="54.7" width="108.4" height="125.9" stroke="#3ddb86" stroke-opacity="0.17" stroke-width="0.6"/>
<rect x="416.1" y="84.8" width="26.8" height="65.9" stroke="#ffb21d"/>
<rect x="402.8" y="34.9" width="53.4" height="165.5" stroke="#cfd231"/>
<rect x="400.9" y="61.2" width="57.2" height="113.0" stroke="#92cc17" stroke-opacity="0.1"/>
<rect x="419.7" y="29.4" width="19.7" height="176.6" stroke="#1cec30"/>
<rect x="390.6" y="39.6" width="77.8" height="156.3" stroke="#1cec30" stroke-opacity="0.17" stroke-width="0.6"/>
<rect x="370.1" y="27.2" width="118.9" height="181.1" stroke="#1cec30" stroke-opacity="0.17" stroke-width="0.6"/>
<rect x="412.7" y="14.0" width="33.6" height="207.3" stroke="#ffb21d"/>
<rect x="407.0" y="86.7" width="45.0" height="61.9" stroke="#ffb21d"/>
<rect x="414.5" y="75.6" width="30.1" height="84.3" stroke="#ffb21d"/>
<rect x="403.7" y="93.3" width="51.6" height="48.7" stroke="#ffb21d"/>
<rect x="384.1" y="19.0" width="90.9" height="197.5" stroke="#1cec30" stroke-opacity="0.17" stroke-width="0.6"/>
<rect x="406.8" y="67.6" width="45.4" height="100.3" stroke="#1cec30" stroke-opacity="0.1"/>
<rect x="405.0" y="67.5" width="49.0" height="100.4" stroke="#92cc17" stroke-opacity="0.1"/>
<rect x="416.1" y="75.9" width="26.8" height="83.5" stroke="#ffb21d"/>
<rect x="415.9" y="90.1" width="27.2" height="55.1" stroke="#ffb21d"/>
<rect x="400.9" y="61.2" width="57.3" height="112.9" stroke="#cfd231" stroke-opacity="0.1"/>
<rect x="408.4" y="73.9" width="42.2" height="87.6" stroke="#92cc17"/>
<rect x="359.3" y="33.5" width="140.5" height="168.5" stroke="#1cec30" stroke-opacity="0.17" stroke-width="0.6"/>
<rect x="406.0" y="32.0" width="46.9" height="171.4" stroke="#1cec30"/>
<rect x="396.7" y="21.4" width="65.7" height="192.6" stroke="#3ddb86" stroke-opacity="0.17" stroke-width="0.6"/>
<rect x="394.8" y="39.9" width="69.4" height="155.7" stroke="#1cec30" stroke-opacity="0.17" stroke-width="0.6"/>
<rect x="416.0" y="77.3" width="27.0" height="80.7" stroke="#ff701f"/>
<rect x="403.1" y="17.7" width="52.9" height="200.0" stroke="#92cc17"/>
<rect x="404.7" y="35.2" width="49.6" height="165.1" stroke="#cfd231" stroke-opacity="0.1"/>
<rect x="405.7" y="37.9" width="47.7" height="159.7" stroke="#cfd231"/>
<rect x="403.9" y="46.7" width="51.1" height="142.0" stroke="#cfd231" stroke-opacity="0.1"/>
<rect x="414.3" y="67.9" width="30.4" height="99.7" stroke="#cfd231" stroke-opacity="0.1"/>
<rect x="410.4" y="62.7" width="38.2" height="110.1" stroke="#1cec30"/>
<rect x="401.6" y="60.9" width="55.8" height="113.5" stroke="#92cc17"/>
<rect x="416.6" y="104.0" width="25.9" height="27.3" stroke="#ffb21d"/>
<rect x="412.8" y="60.7" width="33.4" height="114.0" stroke="#92cc17" stroke-opacity="0.1"/>
<rect x="390.9" y="41.3" width="77.3" height="152.7" stroke="#1cec30" stroke-opacity="0.17" stroke-width="0.6"/>
<rect x="416.6" y="60.3" width="25.8" height="114.8" stroke="#ffb21d"/>
<rect x="410.7" y="18.9" width="37.7" height="197.6" stroke="#cfd231" stroke-opacity="0.1"/>
<rect x="400.8" y="36.1" width="57.5" height="163.3" stroke="#cfd231"/>
<rect x="411.2" y="27.1" width="36.6" height="181.2" stroke="#cfd231"/>
<rect x="417.5" y="101.3" width="23.9" height="32.8" stroke="#ff701f"/>
<rect x="411.7" y="47.0" width="35.7" height="141.5" stroke="#92cc17" stroke-opacity="0.1"/>
<rect x="357.9" y="33.0" width="143.3" height="169.5" stroke="#92cc17" stroke-opacity="0.17" stroke-width="0.6"/>
<rect x="401.0" y="28.2" width="57.0" height="179.1" stroke="#1cec30"/>
<rect x="417.2" y="90.0" width="24.6" height="55.4" stroke="#ffb21d"/>
<rect x="405.4" y="30.1" width="48.2" height="175.1" stroke="#1cec30"/>
<rect x="402.8" y="36.4" width="53.4" height="162.5" stroke="#1cec30" stroke-opacity="0.1"/>
<rect x="414.2" y="46.3" width="30.6" height="142.7" stroke="#cfd231"/>
<rect x="415.5" y="59.1" width="28.0" height="117.1" stroke="#ffb21d"/>
<rect x="405.2" y="77.4" width="48.5" height="80.5" stroke="#92cc17"/>
<rect x="416.4" y="41.6" width="26.1" height="152.2" stroke="#92cc17" stroke-opacity="0.1"/>
<rect x="381.1" y="65.5" width="96.7" height="104.4" stroke="#1cec30" stroke-opacity="0.17" stroke-width="0.6"/>
<rect x="344.8" y="99.8" width="169.4" height="35.8" stroke="#92cc17" stroke-opacity="0.17" stroke-width="0.6"/>
<rect x="371.3" y="18.5" width="116.4" height="198.3" stroke="#00d4bb" stroke-opacity="0.17" stroke-width="0.6"/>
<rect x="395.7" y="32.8" width="67.6" height="169.7" stroke="#1cec30" stroke-opacity="0.17" stroke-width="0.6"/>
<rect x="395.0" y="28.1" width="69.1" height="179.3" stroke="#1cec30" stroke-opacity="0.17" stroke-width="0.6"/>
<rect x="407.2" y="50.4" width="44.6" height="134.6" stroke="#1cec30"/>
<rect x="390.5" y="50.1" width="78.0" height="135.2" stroke="#1cec30" stroke-opacity="0.17" stroke-width="0.6"/>
<rect x="398.8" y="28.1" width="61.3" height="179.3" stroke="#1cec30"/>
<rect x="406.4" y="28.3" width="46.3" height="178.9" stroke="#cfd231"/>
<rect x="409.6" y="53.0" width="39.9" height="129.4" stroke="#cfd231"/>
<rect x="401.5" y="31.8" width="56.1" height="171.8" stroke="#cfd231" stroke-opacity="0.1"/>
<rect x="408.7" y="54.5" width="41.7" height="126.4" stroke="#1cec30"/>
<rect x="415.7" y="85.4" width="27.6" height="64.6" stroke="#ffb21d"/>
<rect x="414.8" y="52.7" width="29.4" height="129.9" stroke="#92cc17"/>
<rect x="410.4" y="17.3" width="38.2" height="200.8" stroke="#cfd231" stroke-opacity="0.1"/>
<rect x="410.8" y="28.5" width="37.4" height="178.5" stroke="#1cec30"/>
<rect x="416.1" y="99.6" width="26.9" height="36.2" stroke="#ffb21d"/>
<rect x="417.4" y="96.6" width="24.2" height="42.3" stroke="#ffb21d"/>
<rect x="414.8" y="100.6" width="29.3" height="34.1" stroke="#ffb21d"/>
<rect x="347.5" y="100.1" width="164.0" height="35.3" stroke="#92cc17" stroke-opacity="0.17" stroke-width="0.6"/>
<rect x="401.9" y="95.6" width="55.3" height="44.3" stroke="#92cc17"/>
<rect x="416.3" y="20.4" width="26.3" height="194.6" stroke="#1cec30"/>
<rect x="416.6" y="30.1" width="25.8" height="175.2" stroke="#cfd231"/>
<rect x="416.7" y="68.3" width="25.5" height="98.8" stroke="#ffb21d"/>
<rect x="355.3" y="47.2" width="148.4" height="140.9" stroke="#00d4bb" stroke-opacity="0.17" stroke-width="0.6"/>
<rect x="409.9" y="59.2" width="39.1" height="117.1" stroke="#cfd231" stroke-opacity="0.1"/>
<rect x="405.7" y="33.3" width="47.7" height="168.9" stroke="#cfd231" stroke-opacity="0.1"/>
<rect x="402.4" y="28.0" width="54.3" height="179.4" stroke="#1cec30"/>
<rect x="416.9" y="79.6" width="25.2" height="76.2" stroke="#ffb21d"/>
<rect x="393.8" y="54.3" width="71.4" height="126.9" stroke="#92cc17" stroke-opacity="0.17" stroke-width="0.6"/>
<rect x="410.6" y="23.4" width="37.8" height="188.7" stroke="#1cec30"/>
<rect x="399.2" y="60.7" width="60.6" height="113.9" stroke="#1cec30"/>
<rect x="408.5" y="88.0" width="42.0" height="59.3" stroke="#ffb21d"/>
<rect x="413.6" y="24.7" width="31.7" height="185.9" stroke="#cfd231" stroke-opacity="0.1"/>
<rect x="411.2" y="57.2" width="36.7" height="121.0" stroke="#1cec30" stroke-opacity="0.1"/>
<rect x="403.4" y="27.6" width="52.2" height="180.2" stroke="#00d4bb"/>
<rect x="412.0" y="101.6" width="34.9" height="32.3" stroke="#ffb21d"/>
<rect x="399.5" y="28.5" width="60.1" height="178.3" stroke="#1cec30"/>
<rect x="414.3" y="61.1" width="30.3" height="113.1" stroke="#1cec30"/>
<rect x="356.8" y="78.1" width="145.3" height="79.3" stroke="#92cc17" stroke-opacity="0.17" stroke-width="0.6"/>
<rect x="411.2" y="97.6" width="36.6" height="40.3" stroke="#ffb21d"/>
<rect x="390.4" y="46.8" width="78.1" height="141.8" stroke="#1cec30" stroke-opacity="0.17" stroke-width="0.6"/>
<rect x="402.8" y="27.5" width="53.3" height="180.4" stroke="#1cec30"/>
<rect x="411.4" y="48.4" width="36.1" height="138.6" stroke="#cfd231"/>
<rect x="410.3" y="27.7" width="38.3" height="180.0" stroke="#1cec30"/>
<rect x="416.0" y="32.9" width="27.1" height="169.6" stroke="#ffb21d"/>
<rect x="398.2" y="65.2" width="62.7" height="105.0" stroke="#00d4bb"/>
<rect x="407.1" y="33.8" width="44.8" height="167.8" stroke="#cfd231" stroke-opacity="0.1"/>
<rect x="404.9" y="30.1" width="49.2" height="175.2" stroke="#cfd231"/>
<rect x="358.2" y="25.9" width="142.5" height="183.5" stroke="#1a9334" stroke-opacity="0.17" stroke-width="0.6"/>
<rect x="412.5" y="71.7" width="33.9" height="91.9" stroke="#cfd231"/>
<rect x="414.0" y="27.9" width="31.1" height="179.5" stroke="#1cec30"/>
<rect x="374.9" y="20.2" width="109.1" height="195.0" stroke="#00d4bb" stroke-opacity="0.17" stroke-width="0.6"/>
<rect x="411.4" y="29.3" width="36.3" height="176.7" stroke="#92cc17" stroke-opacity="0.1"/>
<rect x="403.4" y="74.3" width="52.2" height="86.8" stroke="#1cec30"/>
<rect x="386.1" y="45.3" width="86.8" height="144.8" stroke="#1cec30" stroke-opacity="0.17" stroke-width="0.6"/>
<rect x="399.9" y="28.0" width="59.2" height="179.5" stroke="#1cec30"/>
<rect x="411.3" y="24.3" width="36.4" height="186.8" stroke="#cfd231" stroke-opacity="0.1"/>
<rect x="399.4" y="35.6" width="60.2" height="164.3" stroke="#1cec30"/>
<rect x="412.9" y="58.8" width="33.2" height="117.8" stroke="#cfd231" stroke-opacity="0.1"/>
<rect x="400.0" y="35.5" width="59.0" height="164.3" stroke="#1cec30" stroke-opacity="0.1"/>
<rect x="414.1" y="45.8" width="30.7" height="143.7" stroke="#ff701f"/>
<rect x="401.8" y="31.3" width="55.3" height="172.8" stroke="#1cec30"/>
<rect x="414.7" y="71.6" width="29.5" height="92.2" stroke="#cfd231"/>
<rect x="403.7" y="66.0" width="51.7" height="103.4" stroke="#1cec30"/>
<rect x="353.9" y="26.2" width="151.2" height="183.0" stroke="#1a9334" stroke-opacity="0.17" stroke-width="0.6"/>
<rect x="415.2" y="22.8" width="28.6" height="189.7" stroke="#cfd231"/>
<rect x="410.9" y="59.2" width="37.1" height="116.9" stroke="#92cc17"/>
<rect x="330.2" y="64.0" width="198.6" height="107.3" stroke="#1cec30" stroke-opacity="0.17" stroke-width="0.6"/>
<rect x="415.5" y="74.9" width="28.0" height="85.6" stroke="#ffb21d"/>
<rect x="406.9" y="28.2" width="45.2" height="179.1" stroke="#1cec30"/>
<rect x="397.3" y="52.2" width="64.3" height="131.0" stroke="#92cc17"/>
<rect x="400.3" y="43.8" width="58.4" height="147.9" stroke="#92cc17"/>
<rect x="399.1" y="18.5" width="60.7" height="198.5" stroke="#cfd231"/>
<rect x="396.4" y="35.1" width="66.2" height="165.1" stroke="#cfd231" stroke-opacity="0.17" stroke-width="0.6"/>
<rect x="416.0" y="26.8" width="27.1" height="181.7" stroke="#92cc17" stroke-opacity="0.1"/>
<rect x="416.2" y="53.1" width="26.6" height="129.3" stroke="#ff701f"/>
<rect x="415.2" y="75.2" width="28.7" height="85.0" stroke="#ffb21d"/>
<rect x="409.5" y="52.5" width="39.9" height="130.4" stroke="#1cec30" stroke-opacity="0.1"/>
<rect x="405.3" y="35.8" width="48.4" height="163.8" stroke="#cfd231"/>
<rect x="416.9" y="102.3" width="25.2" height="30.8" stroke="#ffb21d"/>
<rect x="367.8" y="20.4" width="123.3" height="194.6" stroke="#3ddb86" stroke-opacity="0.17" stroke-width="0.6"/>
<rect x="395.7" y="83.3" width="67.6" height="68.9" stroke="#cfd231" stroke-opacity="0.17" stroke-width="0.6"/>
<rect x="407.5" y="36.0" width="44.0" height="163.3" stroke="#1cec30"/>
<rect x="380.5" y="30.8" width="98.1" height="173.8" stroke="#1cec30" stroke-opacity="0.17" stroke-width="0.6"/>
<rect x="414.4" y="37.2" width="30.2" height="160.9" stroke="#1cec30" stroke-opacity="0.1"/>
<rect x="410.4" y="87.9" width="38.2" height="59.7" stroke="#ffb21d"/>
<rect x="416.5" y="83.6" width="26.0" height="68.2" stroke="#ffb21d"/>
<rect x="416.3" y="23.3" width="26.4" height="188.7" stroke="#ff701f"/>
<rect x="411.1" y="27.8" width="36.8" height="179.8" stroke="#1cec30"/>
<rect x="414.0" y="47.1" width="31.0" height="141.2" stroke="#1cec30"/>
<rect x="403.5" y="70.0" width="51.9" height="95.5" stroke="#92cc17" stroke-opacity="0.1"/>
<rect x="399.8" y="28.9" width="59.4" height="177.6" stroke="#1cec30"/>
<rect x="399.5" y="14.0" width="60.0" height="207.3" stroke="#1cec30"/>
<rect x="405.5" y="29.7" width="47.9" height="175.9" stroke="#1cec30"/>
<rect x="416.8" y="75.8" width="25.3" height="83.8" stroke="#ffb21d"/>
<rect x="414.5" y="67.1" width="30.1" height="101.2" stroke="#ffb21d"/>
<rect x="401.1" y="44.7" width="56.8" height="146.0" stroke="#cfd231" stroke-opacity="0.1"/>
<rect x="403.5" y="34.3" width="52.1" height="166.9" stroke="#cfd231"/>
<rect x="381.6" y="17.6" width="95.9" height="200.2" stroke="#1cec30" stroke-opacity="0.17" stroke-width="0.6"/>
<rect x="356.8" y="49.5" width="145.5" height="136.4" stroke="#00d4bb" stroke-opacity="0.17" stroke-width="0.6"/>
<rect x="414.4" y="39.8" width="30.2" height="155.9" stroke="#cfd231"/>
<rect x="401.8" y="103.6" width="55.3" height="28.1" stroke="#ff701f"/>
<rect x="408.8" y="46.4" width="41.3" height="142.7" stroke="#92cc17"/>
<rect x="406.2" y="49.2" width="46.7" height="137.0" stroke="#92cc17" stroke-opacity="0.1"/>
<rect x="416.4" y="41.0" width="26.2" height="153.5" stroke="#1cec30"/>
<rect x="414.4" y="83.1" width="30.2" height="69.2" stroke="#ff701f"/>
<rect x="407.0" y="67.0" width="45.0" height="101.4" stroke="#cfd231" stroke-opacity="0.1"/>
<rect x="398.8" y="27.3" width="61.4" height="180.9" stroke="#1cec30"/>
<rect x="406.4" y="58.0" width="46.1" height="119.4" stroke="#1cec30"/>
<rect x="416.6" y="16.5" width="25.7" height="202.4" stroke="#cfd231"/>
<rect x="372.9" y="77.6" width="113.3" height="80.3" stroke="#00d4bb" stroke-opacity="0.17" stroke-width="0.6"/>
<rect x="408.2" y="70.5" width="42.5" height="94.4" stroke="#92cc17" stroke-opacity="0.1"/>
<rect x="399.8" y="27.8" width="59.5" height="179.9" stroke="#1cec30"/>
<rect x="416.2" y="52.1" width="26.5" height="131.3" stroke="#cfd231" stroke-opacity="0.1"/>
<rect x="393.9" y="50.8" width="71.3" height="133.8" stroke="#1cec30" stroke-opacity="0.17" stroke-width="0.6"/>
<rect x="399.6" y="16.7" width="59.8" height="202.1" stroke="#1cec30"/>
<rect x="414.6" y="22.1" width="29.9" height="191.3" stroke="#92cc17" stroke-opacity="0.1"/>
<rect x="399.5" y="27.4" width="59.9" height="180.6" stroke="#1cec30"/>
<rect x="408.4" y="28.5" width="42.3" height="178.4" stroke="#1cec30"/>
<rect x="385.9" y="53.1" width="87.3" height="129.2" stroke="#1cec30" stroke-opacity="0.17" stroke-width="0.6"/>
<rect x="406.1" y="28.4" width="46.8" height="178.6" stroke="#1cec30"/>
<rect x="412.5" y="14.3" width="33.9" height="206.9" stroke="#cfd231"/>
<rect x="381.5" y="60.0" width="95.9" height="115.4" stroke="#1cec30" stroke-opacity="0.17" stroke-width="0.6"/>
<rect x="402.1" y="35.5" width="54.9" height="164.3" stroke="#92cc17"/>
<rect x="399.5" y="23.8" width="60.0" height="187.8" stroke="#1cec30"/>
<rect x="393.0" y="21.2" width="73.0" height="193.0" stroke="#00d4bb" stroke-opacity="0.17" stroke-width="0.6"/>
<rect x="402.9" y="56.2" width="53.2" height="123.0" stroke="#1cec30" stroke-opacity="0.1"/>
<rect x="405.0" y="40.6" width="49.0" height="154.2" stroke="#cfd231" stroke-opacity="0.1"/>
<rect x="400.7" y="63.9" width="57.6" height="107.5" stroke="#cfd231"/>
<rect x="416.7" y="53.5" width="25.7" height="128.4" stroke="#cfd231"/>
<rect x="416.8" y="26.2" width="25.4" height="183.0" stroke="#cfd231"/>
<rect x="403.0" y="19.5" width="53.1" height="196.4" stroke="#92cc17"/>
<rect x="416.7" y="88.6" width="25.6" height="58.2" stroke="#ffb21d"/>
<rect x="409.6" y="29.5" width="39.8" height="176.5" stroke="#1cec30"/>
<rect x="409.0" y="69.9" width="41.0" height="95.6" stroke="#92cc17" stroke-opacity="0.1"/>
<rect x="414.2" y="53.4" width="30.5" height="128.7" stroke="#1cec30"/>
<rect x="403.2" y="65.6" width="52.5" height="104.2" stroke="#92cc17" stroke-opacity="0.1"/>
<rect x="413.9" y="62.1" width="31.2" height="111.3" stroke="#cfd231" stroke-opacity="0.1"/>
<rect x="407.0" y="24.3" width="45.0" height="186.7" stroke="#1cec30"/>
<rect x="416.0" y="58.3" width="26.9" height="118.8" stroke="#ffb21d"/>
<rect x="411.4" y="14.0" width="36.3" height="207.3" stroke="#1cec30"/>
<rect x="406.9" y="70.0" width="45.2" height="95.3" stroke="#3ddb86"/>
<rect x="410.0" y="64.0" width="38.9" height="107.4" stroke="#1cec30"/>
<rect x="413.6" y="13.8" width="31.8" height="207.8" stroke="#cfd231"/>
<rect x="403.7" y="44.0" width="51.5" height="147.3" stroke="#1cec30"/>
<rect x="415.8" y="96.6" width="27.5" height="42.2" stroke="#ffb21d"/>
<rect x="416.5" y="98.5" width="26.0" height="38.5" stroke="#ff701f"/>
<rect x="360.0" y="37.5" width="139.0" height="160.5" stroke="#92cc17" stroke-opacity="0.17" stroke-width="0.6"/>
<rect x="416.0" y="75.1" width="27.0" height="85.2" stroke="#ff701f"/>
<rect x="399.1" y="21.9" width="60.8" height="191.7" stroke="#1cec30"/>
<rect x="403.0" y="43.8" width="52.9" height="147.8" stroke="#1cec30"/>
<rect x="411.6" y="35.7" width="35.9" height="164.1" stroke="#cfd231" stroke-opacity="0.1"/>
<rect x="407.4" y="16.0" width="44.2" height="203.4" stroke="#1cec30"/>
<rect x="417.1" y="100.5" width="24.7" height="34.4" stroke="#ffb21d"/>
<rect x="368.5" y="39.5" width="122.0" height="156.5" stroke="#1cec30" stroke-opacity="0.17" stroke-width="0.6"/>
<rect x="416.8" y="61.0" width="25.3" height="113.5" stroke="#ff701f"/>
<rect x="414.9" y="49.1" width="29.2" height="137.1" stroke="#cfd231"/>
<rect x="392.6" y="23.9" width="73.8" height="187.5" stroke="#1a9334" stroke-opacity="0.17" stroke-width="0.6"/>
<rect x="416.3" y="45.1" width="26.4" height="145.1" stroke="#ff701f"/>
<rect x="414.8" y="15.7" width="29.5" height="204.0" stroke="#92cc17" stroke-opacity="0.1"/>
<rect x="413.8" y="15.6" width="31.3" height="204.1" stroke="#1cec30"/>
<rect x="372.3" y="101.8" width="114.4" height="31.8" stroke="#1cec30" stroke-opacity="0.17" stroke-width="0.6"/>
<rect x="401.3" y="102.9" width="56.4" height="29.5" stroke="#ff701f"/>
<rect x="404.2" y="65.1" width="50.6" height="105.2" stroke="#92cc17"/>
<rect x="404.4" y="40.3" width="50.2" height="154.7" stroke="#cfd231" stroke-opacity="0.1"/>
<rect x="416.5" y="87.1" width="25.9" height="61.2" stroke="#ffb21d"/>
<rect x="390.1" y="46.9" width="78.7" height="141.6" stroke="#1cec30" stroke-opacity="0.17" stroke-width="0.6"/>
<rect x="399.6" y="29.1" width="59.9" height="177.1" stroke="#cfd231"/>
<rect x="401.4" y="36.2" width="56.2" height="163.0" stroke="#cfd231"/>
<rect x="406.3" y="26.0" width="46.4" height="183.4" stroke="#1cec30"/>
<rect x="415.3" y="23.2" width="28.4" height="188.9" stroke="#cfd231"/>
<rect x="413.2" y="28.9" width="32.6" height="177.5" stroke="#1cec30" stroke-opacity="0.1"/>
<rect x="412.0" y="41.1" width="34.9" height="153.2" stroke="#1cec30" stroke-opacity="0.1"/>
<rect x="409.9" y="53.1" width="39.2" height="129.2" stroke="#1cec30"/>
<rect x="403.3" y="37.1" width="52.5" height="161.2" stroke="#cfd231" stroke-opacity="0.1"/>
<rect x="416.4" y="72.0" width="26.2" height="91.5" stroke="#ff701f"/>
<rect x="406.1" y="38.6" width="46.8" height="158.2" stroke="#92cc17" stroke-opacity="0.1"/>
<rect x="407.3" y="35.6" width="44.3" height="164.2" stroke="#1cec30"/>
<rect x="396.4" y="96.0" width="66.1" height="43.5" stroke="#ffb21d" stroke-opacity="0.17" stroke-width="0.6"/>
<rect x="416.3" y="72.4" width="26.3" height="90.6" stroke="#ffb21d"/>
<rect x="399.5" y="27.3" width="60.1" height="180.9" stroke="#cfd231"/>
<rect x="408.6" y="101.1" width="41.8" height="33.3" stroke="#ffb21d"/>
<rect x="399.6" y="28.2" width="59.9" height="178.9" stroke="#1cec30"/>
<rect x="404.7" y="97.9" width="49.6" height="39.6" stroke="#92cc17"/>
<rect x="399.2" y="27.4" width="60.6" height="180.7" stroke="#1cec30"/>
<rect x="397.9" y="24.2" width="63.1" height="187.1" stroke="#1cec30"/>
<rect x="410.1" y="29.9" width="38.8" height="175.6" stroke="#1cec30"/>
<rect x="414.1" y="34.1" width="30.7" height="167.3" stroke="#cfd231" stroke-opacity="0.1"/>
<rect x="356.4" y="25.6" width="146.2" height="184.2" stroke="#00d4bb" stroke-opacity="0.17" stroke-width="0.6"/>
<rect x="411.5" y="57.3" width="35.9" height="120.9" stroke="#ff701f"/>
<rect x="412.9" y="53.0" width="33.1" height="129.4" stroke="#92cc17"/>
<rect x="416.5" y="90.4" width="26.0" height="54.7" stroke="#ffb21d"/>
<rect x="419.3" y="59.6" width="20.4" height="116.2" stroke="#ffb21d"/>
<rect x="416.2" y="73.2" width="26.7" height="88.9" stroke="#ffb21d"/>
<rect x="397.2" y="86.4" width="64.5" height="62.5" stroke="#cfd231"/>
<rect x="395.5" y="59.1" width="68.1" height="117.1" stroke="#1cec30" stroke-opacity="0.17" stroke-width="0.6"/>
<rect x="416.9" y="45.1" width="25.1" height="145.1" stroke="#cfd231"/>
<rect x="399.5" y="29.1" width="59.9" height="177.3" stroke="#1cec30"/>
<rect x="417.4" y="87.4" width="24.2" height="60.5" stroke="#ffb21d"/>
<rect x="402.0" y="68.3" width="54.9" height="98.7" stroke="#cfd231" stroke-opacity="0.1"/>
<rect x="411.1" y="30.2" width="36.8" height="175.1" stroke="#1cec30"/>
<rect x="387.7" y="35.3" width="83.5" height="164.7" stroke="#3ddb86" stroke-opacity="0.17" stroke-width="0.6"/>
<rect x="416.8" y="39.6" width="25.5" height="156.2" stroke="#ffb21d"/>
<rect x="416.3" y="96.7" width="26.3" height="42.0" stroke="#ffb21d"/>
<rect x="401.6" y="34.4" width="55.7" height="166.6" stroke="#cfd231" stroke-opacity="0.1"/>
<rect x="416.8" y="69.7" width="25.4" height="96.1" stroke="#ff701f"/>
<rect x="399.6" y="44.2" width="59.8" height="147.0" stroke="#1cec30"/>
<rect x="399.7" y="44.5" width="59.6" height="146.3" stroke="#1cec30"/>
<rect x="409.4" y="59.7" width="40.2" height="116.0" stroke="#cfd231"/>
<rect x="407.8" y="18.8" width="43.5" height="197.8" stroke="#92cc17"/>
<rect x="405.5" y="57.3" width="48.0" height="120.8" stroke="#1cec30"/>
<rect x="411.3" y="35.1" width="36.5" height="165.2" stroke="#00d4bb"/>
<rect x="415.7" y="42.6" width="27.7" height="150.2" stroke="#cfd231"/>
<rect x="401.1" y="54.3" width="56.9" height="126.8" stroke="#cfd231" stroke-opacity="0.1"/>
<rect x="401.7" y="16.6" width="55.6" height="202.2" stroke="#92cc17" stroke-opacity="0.1"/>
<rect x="416.7" y="45.8" width="25.6" height="143.9" stroke="#1cec30" stroke-opacity="0.1"/>
<rect x="409.9" y="34.1" width="39.1" height="167.1" stroke="#3ddb86"/>
<rect x="394.6" y="29.0" width="69.9" height="177.4" stroke="#1cec30" stroke-opacity="0.17" stroke-width="0.6"/>
<rect x="402.0" y="82.7" width="54.9" height="69.9" stroke="#92cc17"/>
<rect x="411.1" y="14.0" width="36.8" height="207.5" stroke="#1cec30"/>
<rect x="416.7" y="89.5" width="25.6" height="56.4" stroke="#ffb21d"/>
<rect x="404.3" y="60.4" width="50.4" height="114.5" stroke="#1cec30" stroke-opacity="0.1"/>
<rect x="403.1" y="26.7" width="52.8" height="182.0" stroke="#1cec30"/>
<rect x="406.5" y="89.5" width="45.9" height="56.4" stroke="#cfd231"/>
<rect x="380.4" y="88.8" width="98.3" height="57.8" stroke="#cfd231" stroke-opacity="0.17" stroke-width="0.6"/>
<rect x="359.6" y="25.3" width="139.8" height="184.7" stroke="#1cec30" stroke-opacity="0.17" stroke-width="0.6"/>
<rect x="325.1" y="109.0" width="208.8" height="17.4" stroke="#ff9d97" stroke-opacity="0.16"/>
<rect x="417.5" y="47.9" width="24.0" height="139.6" stroke="#1cec30"/>
<rect x="410.7" y="48.9" width="37.7" height="137.6" stroke="#1cec30" stroke-opacity="0.1"/>
<rect x="407.7" y="42.6" width="43.7" height="150.2" stroke="#cfd231"/>
<rect x="404.5" y="34.2" width="49.9" height="167.0" stroke="#1cec30"/>
<rect x="406.5" y="14.7" width="46.0" height="206.0" stroke="#ffb21d"/>
<rect x="416.1" y="65.2" width="26.8" height="105.1" stroke="#ffb21d"/>
<rect x="325.4" y="111.1" width="208.2" height="13.2" stroke="#ff9d97" stroke-opacity="0.16"/>
<rect x="400.6" y="35.7" width="57.9" height="164.0" stroke="#1cec30"/>
<rect x="325.8" y="110.5" width="207.4" height="14.4" stroke="#ff9d97" stroke-opacity="0.16"/>
<rect x="393.3" y="16.3" width="72.5" height="202.8" stroke="#1cec30" stroke-opacity="0.17" stroke-width="0.6"/>
<rect x="405.6" y="31.1" width="47.9" height="173.1" stroke="#1cec30"/>
<rect x="407.2" y="25.8" width="44.7" height="183.8" stroke="#cfd231" stroke-opacity="0.1"/>
<rect x="401.5" y="41.6" width="56.0" height="152.2" stroke="#92cc17" stroke-opacity="0.1"/>
<rect x="325.9" y="109.8" width="207.2" height="15.8" stroke="#ff9d97" stroke-opacity="0.16"/>
<rect x="388.6" y="109.7" width="81.9" height="15.9" stroke="#ff9d97" stroke-opacity="0.16"/>
<rect x="334.5" y="111.5" width="190.1" height="12.3" stroke="#ff9d97" stroke-opacity="0.16"/>
<rect x="407.4" y="57.5" width="44.3" height="120.5" stroke="#92cc17" stroke-opacity="0.1"/>
<rect x="408.6" y="40.0" width="41.7" height="155.3" stroke="#1cec30"/>
<rect x="406.8" y="69.2" width="45.4" height="96.9" stroke="#1cec30" stroke-opacity="0.1"/>
<rect x="416.7" y="94.0" width="25.6" height="47.5" stroke="#ffb21d"/>
<rect x="326.0" y="111.1" width="207.0" height="13.1" stroke="#ff9d97" stroke-opacity="0.16"/>
<rect x="411.5" y="73.0" width="36.0" height="89.4" stroke="#cfd231"/>
<rect x="411.0" y="103.6" width="36.9" height="28.2" stroke="#ffb21d"/>
<rect x="334.7" y="109.5" width="189.5" height="16.4" stroke="#ff9d97" stroke-opacity="0.16"/>
<rect x="415.8" y="61.8" width="27.4" height="111.8" stroke="#ffb21d"/>
<rect x="407.4" y="24.0" width="44.3" height="187.3" stroke="#1cec30"/>
<rect x="354.5" y="36.5" width="150.0" height="162.4" stroke="#1a9334" stroke-opacity="0.17" stroke-width="0.6"/>
<rect x="325.9" y="112.6" width="207.2" height="10.3" stroke="#ff9d97" stroke-opacity="0.16"/>
<rect x="402.0" y="29.3" width="54.9" height="176.7" stroke="#cfd231" stroke-opacity="0.1"/>
<rect x="383.2" y="111.9" width="92.5" height="11.6" stroke="#ff9d97" stroke-opacity="0.16"/>
<rect x="346.5" y="111.3" width="165.9" height="12.9" stroke="#ff9d97" stroke-opacity="0.16"/>
<rect x="408.0" y="45.7" width="43.1" height="144.0" stroke="#cfd231"/>
<rect x="405.4" y="55.0" width="48.2" height="125.4" stroke="#1cec30"/>
<rect x="416.5" y="93.6" width="25.9" height="48.1" stroke="#ffb21d"/>
<rect x="416.4" y="84.4" width="26.2" height="66.6" stroke="#ffb21d"/>
<rect x="408.2" y="28.6" width="42.5" height="178.1" stroke="#1cec30"/>
<rect x="400.3" y="42.7" width="58.4" height="150.1" stroke="#cfd231"/>
<rect x="405.8" y="45.9" width="47.3" height="143.7" stroke="#1cec30" stroke-opacity="0.1"/>
<rect x="338.3" y="61.8" width="182.4" height="111.9" stroke="#3ddb86" stroke-opacity="0.17" stroke-width="0.6"/>
<rect x="374.5" y="109.0" width="109.9" height="17.4" stroke="#ff9d97" stroke-opacity="0.16"/>
<rect x="396.3" y="24.2" width="66.4" height="186.9" stroke="#1cec30" stroke-opacity="0.17" stroke-width="0.6"/>
<rect x="406.5" y="88.9" width="46.1" height="57.7" stroke="#ffb21d"/>
<rect x="326.4" y="111.4" width="206.3" height="12.6" stroke="#ff9d97" stroke-opacity="0.16"/>
<rect x="399.0" y="38.1" width="61.0" height="159.2" stroke="#1cec30"/>
<rect x="399.2" y="28.1" width="60.6" height="179.2" stroke="#1cec30"/>
<rect x="390.2" y="112.1" width="78.5" height="11.2" stroke="#ff9d97" stroke-opacity="0.16"/>
<rect x="400.9" y="69.1" width="57.3" height="97.1" stroke="#cfd231" stroke-opacity="0.1"/>
<rect x="416.9" y="73.1" width="25.3" height="89.3" stroke="#ffb21d"/>
<rect x="410.2" y="72.3" width="38.6" height="90.8" stroke="#cfd231"/>
<rect x="417.3" y="85.3" width="24.4" height="64.8" stroke="#ffb21d"/>
<rect x="356.2" y="109.8" width="146.5" height="15.8" stroke="#ff9d97" stroke-opacity="0.16"/>
<rect x="325.2" y="112.4" width="208.6" height="10.7" stroke="#ff9d97" stroke-opacity="0.16"/>
<rect x="331.5" y="111.7" width="195.9" height="11.9" stroke="#ff9d97" stroke-opacity="0.16"/>
<rect x="415.0" y="62.4" width="28.9" height="110.5" stroke="#cfd231" stroke-opacity="0.1"/>
<rect x="409.5" y="52.1" width="40.0" height="131.2" stroke="#92cc17" stroke-opacity="0.1"/>
<rect x="325.5" y="109.4" width="207.9" height="16.6" stroke="#ff9d97" stroke-opacity="0.16"/>
<rect x="325.0" y="110.8" width="209.0" height="13.7" stroke="#ff9d97" stroke-opacity="0.16"/>
<rect x="401.8" y="57.0" width="55.3" height="121.4" stroke="#cfd231"/>
<rect x="416.5" y="62.9" width="26.1" height="109.5" stroke="#cfd231"/>
<rect x="411.9" y="17.3" width="35.2" height="200.8" stroke="#1cec30" stroke-opacity="0.1"/>
<rect x="326.3" y="112.6" width="206.5" height="10.3" stroke="#ff9d97" stroke-opacity="0.16"/>
<rect x="414.0" y="14.1" width="31.0" height="207.1" stroke="#1cec30"/>
<rect x="416.9" y="72.8" width="25.2" height="89.8" stroke="#ffb21d"/>
<rect x="410.8" y="60.9" width="37.4" height="113.6" stroke="#cfd231"/>
<rect x="407.4" y="37.1" width="44.3" height="161.3" stroke="#92cc17"/>
<rect x="408.5" y="83.4" width="42.1" height="68.6" stroke="#92cc17"/>
<rect x="398.6" y="92.7" width="61.8" height="49.9" stroke="#ffb21d"/>
<rect x="409.5" y="25.4" width="40.1" height="184.6" stroke="#92cc17"/>
<rect x="395.5" y="36.2" width="68.1" height="162.9" stroke="#1cec30" stroke-opacity="0.17" stroke-width="0.6"/>
<rect x="324.9" y="108.9" width="209.1" height="17.5" stroke="#ff9d97" stroke-opacity="0.16"/>
<rect x="324.9" y="112.1" width="209.2" height="11.3" stroke="#ff9d97" stroke-opacity="0.16"/>
<rect x="325.3" y="108.5" width="208.4" height="18.3" stroke="#ff9d97" stroke-opacity="0.16"/>
<rect x="326.1" y="108.2" width="206.9" height="19.0" stroke="#ff9d97" stroke-opacity="0.16"/>
<rect x="342.1" y="110.2" width="174.8" height="14.9" stroke="#ff9d97" stroke-opacity="0.16"/>
<rect x="386.2" y="110.8" width="86.6" height="13.8" stroke="#ff9d97" stroke-opacity="0.16"/>
<rect x="360.4" y="31.7" width="138.2" height="172.0" stroke="#1cec30" stroke-opacity="0.17" stroke-width="0.6"/>
<rect x="417.1" y="99.0" width="24.8" height="37.4" stroke="#ffb21d"/>
<rect x="328.0" y="109.8" width="203.1" height="15.8" stroke="#ff9d97" stroke-opacity="0.16"/>
<rect x="416.1" y="70.4" width="26.9" height="94.5" stroke="#1cec30"/>
<rect x="340.6" y="111.8" width="177.8" height="11.8" stroke="#ff9d97" stroke-opacity="0.16"/>
<rect x="325.7" y="109.1" width="207.6" height="17.3" stroke="#ff9d97" stroke-opacity="0.16"/>
<rect x="327.9" y="103.8" width="203.1" height="27.9" stroke="#1cec30" stroke-opacity="0.17" stroke-width="0.6"/>
<rect x="370.1" y="110.6" width="118.9" height="14.2" stroke="#ff9d97" stroke-opacity="0.16"/>
<rect x="404.4" y="62.8" width="50.3" height="109.8" stroke="#cfd231"/>
<rect x="415.8" y="87.3" width="27.5" height="60.8" stroke="#ffb21d"/>
<rect x="399.1" y="14.2" width="60.8" height="206.9" stroke="#1cec30"/>
<rect x="406.3" y="71.6" width="46.4" height="92.1" stroke="#00d4bb"/>
<rect x="416.1" y="50.9" width="26.7" height="133.7" stroke="#ff701f"/>
<rect x="339.1" y="112.0" width="180.9" height="11.4" stroke="#ff9d97" stroke-opacity="0.16"/>
<rect x="326.4" y="108.1" width="206.3" height="19.3" stroke="#ff9d97" stroke-opacity="0.16"/>
<rect x="399.1" y="22.9" width="60.7" height="189.7" stroke="#1cec30"/>
<rect x="395.4" y="30.7" width="68.2" height="174.1" stroke="#1cec30" stroke-opacity="0.17" stroke-width="0.6"/>
<rect x="416.4" y="40.2" width="26.2" height="155.1" stroke="#1cec30"/>
<rect x="371.8" y="32.6" width="115.3" height="170.1" stroke="#1cec30" stroke-opacity="0.17" stroke-width="0.6"/>
<rect x="325.6" y="109.4" width="207.8" height="16.6" stroke="#ff9d97" stroke-opacity="0.16"/>
<rect x="399.0" y="14.5" width="61.1" height="206.4" stroke="#1cec30"/>
<rect x="382.3" y="108.9" width="94.3" height="17.6" stroke="#ff9d97" stroke-opacity="0.16"/>
<rect x="405.7" y="56.7" width="47.5" height="122.0" stroke="#1cec30" stroke-opacity="0.1"/>
<rect x="415.6" y="61.9" width="27.8" height="111.6" stroke="#ffb21d"/>
<rect x="408.7" y="68.5" width="41.7" height="98.4" stroke="#92cc17"/>
<rect x="413.9" y="52.5" width="31.3" height="130.4" stroke="#cfd231" stroke-opacity="0.1"/>
<rect x="416.7" y="97.8" width="25.6" height="39.8" stroke="#ffb21d"/>
<rect x="406.8" y="30.2" width="45.3" height="175.0" stroke="#1cec30"/>
<rect x="416.5" y="81.0" width="26.0" height="73.4" stroke="#ffb21d"/>
<rect x="407.0" y="32.5" width="45.0" height="170.4" stroke="#1cec30"/>
<rect x="415.1" y="29.1" width="28.7" height="177.2" stroke="#cfd231" stroke-opacity="0.1"/>
<rect x="325.7" y="112.6" width="207.5" height="10.2" stroke="#ff9d97" stroke-opacity="0.16"/>
<rect x="411.5" y="75.4" width="36.0" height="84.7" stroke="#cfd231"/>
<rect x="404.1" y="46.5" width="50.8" height="142.4" stroke="#cfd231"/>
<rect x="400.0" y="58.3" width="59.0" height="118.9" stroke="#cfd231"/>
<rect x="390.9" y="27.2" width="77.2" height="180.9" stroke="#1cec30" stroke-opacity="0.17" stroke-width="0.6"/>
<rect x="358.5" y="109.7" width="142.0" height="16.0" stroke="#ff9d97" stroke-opacity="0.16"/>
<rect x="415.3" y="68.5" width="28.4" height="98.3" stroke="#cfd231"/>
<rect x="411.1" y="54.7" width="36.8" height="126.0" stroke="#1cec30"/>
<rect x="416.8" y="70.0" width="25.4" height="95.5" stroke="#ffb21d"/>
<rect x="416.1" y="90.5" width="26.8" height="54.4" stroke="#ff701f"/>
<rect x="325.3" y="109.6" width="208.5" height="16.2" stroke="#ff9d97" stroke-opacity="0.16"/>
<rect x="402.2" y="14.6" width="54.6" height="206.1" stroke="#1cec30"/>
<rect x="417.7" y="59.2" width="23.5" height="117.1" stroke="#ffb21d"/>
<rect x="416.0" y="49.2" width="27.0" height="137.0" stroke="#cfd231"/>
<rect x="417.1" y="58.4" width="24.9" height="118.6" stroke="#ff701f"/>
<rect x="335.8" y="111.0" width="187.4" height="13.4" stroke="#ff9d97" stroke-opacity="0.16"/>
<rect x="404.1" y="14.2" width="50.8" height="206.9" stroke="#cfd231" stroke-opacity="0.1"/>
<rect x="391.4" y="112.0" width="76.2" height="11.5" stroke="#ff9d97" stroke-opacity="0.16"/>
<rect x="379.0" y="109.7" width="100.9" height="15.9" stroke="#ff9d97" stroke-opacity="0.16"/>
<rect x="405.3" y="31.3" width="48.4" height="172.8" stroke="#1cec30"/>
<rect x="393.3" y="111.0" width="72.5" height="13.4" stroke="#ff9d97" stroke-opacity="0.16"/>
<rect x="325.2" y="110.3" width="208.5" height="14.7" stroke="#ff9d97" stroke-opacity="0.16"/>
<rect x="402.6" y="30.6" width="53.9" height="174.3" stroke="#cfd231" stroke-opacity="0.1"/>
<rect x="410.1" y="70.9" width="38.7" height="93.6" stroke="#cfd231"/>
<rect x="415.2" y="87.0" width="28.7" height="61.5" stroke="#ffb21d"/>
<rect x="404.9" y="28.2" width="49.1" height="178.9" stroke="#1cec30"/>
<rect x="407.9" y="42.3" width="43.2" height="150.8" stroke="#cfd231" stroke-opacity="0.1"/>
<rect x="324.9" y="109.9" width="209.3" height="15.5" stroke="#ff9d97" stroke-opacity="0.16"/>
<rect x="326.1" y="111.9" width="206.8" height="11.6" stroke="#ff9d97" stroke-opacity="0.16"/>
<rect x="404.7" y="18.4" width="49.6" height="198.6" stroke="#00d4bb"/>
<rect x="416.2" y="26.2" width="26.6" height="182.9" stroke="#cfd231" stroke-opacity="0.1"/>
<rect x="401.1" y="38.0" width="56.7" height="159.4" stroke="#cfd231" stroke-opacity="0.1"/>
<rect x="399.2" y="57.2" width="60.6" height="120.9" stroke="#92cc17"/>
<rect x="406.8" y="60.1" width="45.5" height="115.2" stroke="#1cec30"/>
<rect x="416.1" y="90.3" width="26.8" height="54.8" stroke="#ffb21d"/>
<rect x="416.3" y="102.8" width="26.5" height="29.8" stroke="#ffb21d"/>
<rect x="325.9" y="112.3" width="207.1" height="10.8" stroke="#ff9d97" stroke-opacity="0.16"/>
<rect x="332.0" y="112.1" width="195.0" height="11.2" stroke="#ff9d97" stroke-opacity="0.16"/>
<rect x="399.5" y="35.5" width="60.0" height="164.4" stroke="#1cec30"/>
<rect x="325.3" y="112.2" width="208.4" height="10.9" stroke="#ff9d97" stroke-opacity="0.16"/>
<rect x="402.3" y="87.3" width="54.4" height="60.8" stroke="#ffb21d"/>
<rect x="324.8" y="109.8" width="209.4" height="15.9" stroke="#ff9d97" stroke-opacity="0.16"/>
<rect x="394.8" y="21.7" width="69.5" height="191.9" stroke="#1cec30" stroke-opacity="0.17" stroke-width="0.6"/>
<rect x="414.7" y="71.2" width="29.7" height="93.0" stroke="#cfd231"/>
<rect x="336.5" y="110.7" width="186.1" height="13.9" stroke="#ff9d97" stroke-opacity="0.16"/>
<rect x="403.2" y="24.6" width="52.6" height="186.1" stroke="#1cec30"/>
<rect x="413.0" y="25.3" width="32.9" height="184.8" stroke="#1cec30" stroke-opacity="0.1"/>
<rect x="416.0" y="17.4" width="27.1" height="200.5" stroke="#cfd231"/>
<rect x="410.2" y="71.9" width="38.5" height="91.7" stroke="#cfd231"/>
<rect x="324.8" y="111.8" width="209.3" height="11.8" stroke="#ff9d97" stroke-opacity="0.16"/>
<rect x="395.5" y="110.7" width="67.9" height="13.9" stroke="#ff9d97" stroke-opacity="0.16"/>
<rect x="410.9" y="28.3" width="37.3" height="178.8" stroke="#1cec30"/>
<rect x="395.3" y="95.9" width="68.3" height="43.6" stroke="#ff701f" stroke-opacity="0.17" stroke-width="0.6"/>
<rect x="399.4" y="29.0" width="60.2" height="177.3" stroke="#1cec30"/>
<rect x="326.1" y="109.5" width="206.8" height="16.5" stroke="#ff9d97" stroke-opacity="0.16"/>
<rect x="416.4" y="19.3" width="26.1" height="196.8" stroke="#ffb21d"/>
<rect x="400.9" y="61.3" width="57.2" height="112.8" stroke="#1cec30" stroke-opacity="0.1"/>
<rect x="325.3" y="112.3" width="208.4" height="10.7" stroke="#ff9d97" stroke-opacity="0.16"/>
<rect x="399.3" y="21.0" width="60.3" height="193.4" stroke="#1cec30"/>
<rect x="336.7" y="111.4" width="185.7" height="12.7" stroke="#ff9d97" stroke-opacity="0.16"/>
<rect x="325.1" y="112.2" width="208.9" height="11.0" stroke="#ff9d97" stroke-opacity="0.16"/>
<rect x="400.8" y="36.6" width="57.3" height="162.2" stroke="#92cc17"/>
<rect x="414.3" y="18.2" width="30.5" height="198.9" stroke="#1cec30"/>
<rect x="420.4" y="85.1" width="18.3" height="65.3" stroke="#ffb21d"/>
<rect x="353.4" y="111.6" width="152.3" height="12.2" stroke="#ff9d97" stroke-opacity="0.16"/>
<rect x="407.1" y="30.1" width="44.8" height="175.2" stroke="#1cec30"/>
<rect x="408.7" y="37.0" width="41.6" height="161.4" stroke="#cfd231" stroke-opacity="0.1"/>
<rect x="414.7" y="60.6" width="29.7" height="114.3" stroke="#ffb21d"/>
<rect x="413.9" y="31.5" width="31.2" height="172.4" stroke="#cfd231"/>
<rect x="399.4" y="14.8" width="60.3" height="205.8" stroke="#1cec30"/>
<rect x="398.9" y="17.6" width="61.1" height="200.2" stroke="#1cec30"/>
<rect x="416.9" y="84.3" width="25.2" height="66.8" stroke="#ffb21d"/>
<rect x="409.8" y="26.9" width="39.3" height="181.6" stroke="#00d4bb"/>
<rect x="371.7" y="26.4" width="115.7" height="182.6" stroke="#1a9334" stroke-opacity="0.17" stroke-width="0.6"/>
<rect x="403.8" y="68.8" width="51.3" height="97.8" stroke="#92cc17" stroke-opacity="0.1"/>
<rect x="325.1" y="112.4" width="208.8" height="10.5" stroke="#ff9d97" stroke-opacity="0.16"/>
<rect x="381.2" y="45.2" width="96.6" height="145.0" stroke="#1cec30" stroke-opacity="0.17" stroke-width="0.6"/>
<rect x="412.8" y="58.3" width="33.5" height="118.7" stroke="#cfd231" stroke-opacity="0.1"/>
<rect x="401.6" y="44.6" width="55.8" height="146.3" stroke="#92cc17"/>
<rect x="404.4" y="23.1" width="50.2" height="189.2" stroke="#cfd231" stroke-opacity="0.1"/>
<rect x="407.7" y="22.6" width="43.5" height="190.2" stroke="#00d4bb"/>
<rect x="416.4" y="33.6" width="26.2" height="168.2" stroke="#cfd231"/>
<rect x="402.1" y="46.6" width="54.9" height="142.2" stroke="#cfd231" stroke-opacity="0.1"/>
<rect x="411.5" y="57.0" width="36.1" height="121.3" stroke="#cfd231" stroke-opacity="0.1"/>
<rect x="345.2" y="47.3" width="168.6" height="140.8" stroke="#1cec30" stroke-opacity="0.17" stroke-width="0.6"/>
<rect x="325.4" y="108.1" width="208.3" height="19.2" stroke="#ff9d97" stroke-opacity="0.16"/>
<rect x="409.5" y="95.9" width="39.9" height="43.6" stroke="#ffb21d"/>
<rect x="408.2" y="62.8" width="42.6" height="109.9" stroke="#cfd231"/>
<rect x="404.1" y="48.7" width="50.8" height="138.0" stroke="#cfd231" stroke-opacity="0.1"/>
<rect x="399.0" y="14.0" width="61.1" height="207.3" stroke="#1cec30"/>
<rect x="402.3" y="55.5" width="54.4" height="124.5" stroke="#1cec30"/>
<rect x="325.0" y="110.5" width="208.9" height="14.5" stroke="#ff9d97" stroke-opacity="0.16"/>
<rect x="385.8" y="112.4" width="87.5" height="10.7" stroke="#ff9d97" stroke-opacity="0.16"/>
<rect x="395.8" y="14.0" width="67.5" height="207.3" stroke="#1cec30" stroke-opacity="0.17" stroke-width="0.6"/>
<rect x="403.9" y="23.6" width="51.2" height="188.2" stroke="#1cec30"/>
<rect x="394.3" y="31.3" width="70.3" height="172.8" stroke="#1cec30" stroke-opacity="0.17" stroke-width="0.6"/>
<rect x="413.6" y="44.5" width="31.8" height="146.5" stroke="#1cec30"/>
<rect x="416.3" y="65.8" width="26.4" height="103.8" stroke="#ffb21d"/>
<rect x="391.3" y="111.3" width="76.4" height="12.7" stroke="#ff9d97" stroke-opacity="0.16"/>
<rect x="401.7" y="31.2" width="55.6" height="173.0" stroke="#1cec30"/>
<rect x="395.0" y="85.7" width="69.0" height="63.9" stroke="#1cec30" stroke-opacity="0.17" stroke-width="0.6"/>
<rect x="415.8" y="63.9" width="27.4" height="107.6" stroke="#92cc17" stroke-opacity="0.1"/>
<rect x="414.7" y="95.0" width="29.7" height="45.3" stroke="#ffb21d"/>
<rect x="416.0" y="95.0" width="27.1" height="45.4" stroke="#ffb21d"/>
<rect x="416.6" y="21.8" width="25.8" height="191.9" stroke="#ffb21d"/>
<rect x="416.4" y="69.2" width="26.3" height="97.1" stroke="#ffb21d"/>
<rect x="403.1" y="18.2" width="52.7" height="198.9" stroke="#cfd231"/>
<rect x="365.0" y="109.5" width="129.1" height="16.5" stroke="#ff9d97" stroke-opacity="0.16"/>
<rect x="416.1" y="29.0" width="26.9" height="177.4" stroke="#ffb21d"/>
<rect x="411.2" y="28.5" width="36.6" height="178.5" stroke="#1cec30"/>
<rect x="361.1" y="112.8" width="136.9" height="9.9" stroke="#ff9d97" stroke-opacity="0.16"/>
<rect x="404.8" y="33.3" width="49.4" height="168.8" stroke="#1cec30" stroke-opacity="0.1"/>
<rect x="327.3" y="110.4" width="204.5" height="14.6" stroke="#ff9d97" stroke-opacity="0.16"/>
<rect x="367.8" y="65.7" width="123.5" height="103.9" stroke="#1cec30" stroke-opacity="0.17" stroke-width="0.6"/>
<rect x="405.2" y="51.3" width="48.6" height="132.8" stroke="#cfd231" stroke-opacity="0.1"/>
<rect x="403.2" y="66.5" width="52.7" height="102.3" stroke="#1cec30"/>
<rect x="407.6" y="95.4" width="43.8" height="44.7" stroke="#ffb21d"/>
<rect x="325.8" y="109.7" width="207.5" height="16.0" stroke="#ff9d97" stroke-opacity="0.16"/>
<rect x="330.8" y="112.7" width="197.5" height="10.1" stroke="#ff9d97" stroke-opacity="0.16"/>
<rect x="399.4" y="37.7" width="60.2" height="160.1" stroke="#1cec30"/>
<rect x="326.1" y="111.9" width="206.8" height="11.7" stroke="#ff9d97" stroke-opacity="0.16"/>
<rect x="411.4" y="58.2" width="36.2" height="119.0" stroke="#cfd231" stroke-opacity="0.1"/>
<rect x="401.2" y="18.9" width="56.6" height="197.5" stroke="#cfd231"/>
<rect x="406.1" y="30.4" width="46.8" height="174.7" stroke="#1cec30"/>
<rect x="410.2" y="16.5" width="38.7" height="202.4" stroke="#cfd231"/>
<rect x="401.7" y="21.9" width="55.7" height="191.6" stroke="#1cec30"/>
<rect x="325.8" y="108.6" width="207.4" height="18.2" stroke="#ff9d97" stroke-opacity="0.16"/>
<rect x="383.5" y="88.4" width="92.1" height="58.5" stroke="#cfd231" stroke-opacity="0.17" stroke-width="0.6"/>
<rect x="326.2" y="109.0" width="206.6" height="17.4" stroke="#ff9d97" stroke-opacity="0.16"/>
<rect x="326.0" y="111.6" width="206.9" height="12.3" stroke="#ff9d97" stroke-opacity="0.16"/>
<rect x="408.5" y="14.6" width="41.9" height="206.1" stroke="#ffb21d"/>
<rect x="399.1" y="81.7" width="60.8" height="72.1" stroke="#1cec30"/>
<rect x="410.1" y="52.1" width="38.7" height="131.3" stroke="#92cc17"/>
<rect x="416.6" y="32.9" width="25.8" height="169.7" stroke="#ffb21d"/>
<rect x="416.4" y="64.5" width="26.1" height="106.4" stroke="#ffb21d"/>
<rect x="326.3" y="111.4" width="206.4" height="12.6" stroke="#ff9d97" stroke-opacity="0.16"/>
<rect x="407.4" y="97.3" width="44.1" height="40.7" stroke="#ffb21d"/>
<rect x="405.4" y="20.9" width="48.2" height="193.6" stroke="#1cec30" stroke-opacity="0.1"/>
<rect x="353.0" y="108.7" width="153.0" height="18.0" stroke="#ff9d97" stroke-opacity="0.16"/>
<rect x="325.5" y="108.5" width="208.1" height="18.3" stroke="#ff9d97" stroke-opacity="0.16"/>
<rect x="416.9" y="57.5" width="25.1" height="120.4" stroke="#cfd231" stroke-opacity="0.1"/>
<rect x="418.0" y="69.4" width="23.0" height="96.7" stroke="#ffb21d"/>
<rect x="326.2" y="111.5" width="206.6" height="12.5" stroke="#ff9d97" stroke-opacity="0.16"/>
<rect x="402.5" y="35.1" width="54.0" height="165.3" stroke="#1cec30" stroke-opacity="0.1"/>
<rect x="399.1" y="50.2" width="60.9" height="135.1" stroke="#1cec30"/>
<rect x="346.1" y="40.5" width="166.9" height="154.3" stroke="#1cec30" stroke-opacity="0.17" stroke-width="0.6"/>
<rect x="414.1" y="34.6" width="30.7" height="166.3" stroke="#1cec30" stroke-opacity="0.1"/>
<rect x="390.8" y="112.5" width="77.4" height="10.4" stroke="#ff9d97" stroke-opacity="0.16"/>
<rect x="408.4" y="101.8" width="42.1" height="31.8" stroke="#cfd231"/>
<rect x="395.4" y="68.0" width="68.1" height="99.5" stroke="#1cec30" stroke-opacity="0.17" stroke-width="0.6"/>
<rect x="413.1" y="39.9" width="32.8" height="155.6" stroke="#cfd231" stroke-opacity="0.1"/>
<rect x="400.0" y="27.3" width="58.9" height="180.8" stroke="#cfd231"/>
<rect x="400.2" y="49.3" width="58.6" height="136.9" stroke="#1cec30" stroke-opacity="0.1"/>
<rect x="416.3" y="53.2" width="26.4" height="129.0" stroke="#cfd231"/>
<rect x="399.7" y="38.5" width="59.6" height="158.4" stroke="#1cec30"/>
<rect x="405.0" y="32.6" width="49.0" height="170.2" stroke="#cfd231"/>
<rect x="420.8" y="21.9" width="17.5" height="191.7" stroke="#ffb21d"/>
<rect x="399.2" y="60.2" width="60.7" height="115.0" stroke="#cfd231" stroke-opacity="0.1"/>
<rect x="416.4" y="102.8" width="26.2" height="29.9" stroke="#ff701f"/>
<rect x="334.9" y="112.2" width="189.2" height="11.0" stroke="#ff9d97" stroke-opacity="0.16"/>
<rect x="324.9" y="111.0" width="209.2" height="13.4" stroke="#ff9d97" stroke-opacity="0.16"/>
<rect x="352.8" y="110.5" width="153.4" height="14.4" stroke="#ff9d97" stroke-opacity="0.16"/>
<rect x="325.6" y="110.2" width="207.9" height="15.1" stroke="#ff9d97" stroke-opacity="0.16"/>
<rect x="324.9" y="108.4" width="209.1" height="18.6" stroke="#ff9d97" stroke-opacity="0.16"/>
<rect x="417.1" y="71.8" width="24.9" height="91.7" stroke="#ffb21d"/>
<rect x="358.6" y="110.3" width="141.8" height="14.8" stroke="#ff9d97" stroke-opacity="0.16"/>
<rect x="383.2" y="15.7" width="92.7" height="204.1" stroke="#92cc17" stroke-opacity="0.17" stroke-width="0.6"/>
<rect x="326.4" y="111.6" width="206.3" height="12.3" stroke="#ff9d97" stroke-opacity="0.16"/>
<rect x="341.6" y="109.3" width="175.9" height="16.9" stroke="#ff9d97" stroke-opacity="0.16"/>
<rect x="415.9" y="62.8" width="27.1" height="109.8" stroke="#ffb21d"/>
<rect x="348.8" y="110.7" width="161.4" height="14.0" stroke="#ff9d97" stroke-opacity="0.16"/>
<rect x="400.0" y="55.0" width="59.1" height="125.4" stroke="#1cec30"/>
<rect x="410.6" y="17.3" width="37.7" height="200.7" stroke="#1cec30"/>
<rect x="325.6" y="110.7" width="207.8" height="14.0" stroke="#ff9d97" stroke-opacity="0.16"/>
<rect x="416.4" y="88.3" width="26.3" height="58.8" stroke="#ffb21d"/>
<rect x="394.8" y="111.5" width="69.4" height="12.4" stroke="#ff9d97" stroke-opacity="0.16"/>
<rect x="326.0" y="108.3" width="206.9" height="18.8" stroke="#ff9d97" stroke-opacity="0.16"/>
<rect x="337.3" y="112.2" width="184.3" height="10.9" stroke="#ff9d97" stroke-opacity="0.16"/>
<rect x="405.7" y="29.8" width="47.5" height="175.9" stroke="#1cec30"/>
<rect x="331.5" y="112.0" width="196.0" height="11.5" stroke="#ff9d97" stroke-opacity="0.16"/>
<rect x="399.6" y="18.3" width="59.7" height="198.8" stroke="#1cec30"/>
<rect x="394.9" y="55.4" width="69.1" height="124.6" stroke="#1cec30" stroke-opacity="0.17" stroke-width="0.6"/>
<rect x="388.0" y="75.5" width="83.0" height="84.4" stroke="#1cec30" stroke-opacity="0.17" stroke-width="0.6"/>
<rect x="324.9" y="111.7" width="209.1" height="11.9" stroke="#ff9d97" stroke-opacity="0.16"/>
<rect x="417.2" y="32.5" width="24.6" height="170.4" stroke="#ff701f"/>
<rect x="398.9" y="63.7" width="61.2" height="107.9" stroke="#1cec30"/>
<rect x="384.7" y="29.6" width="89.6" height="176.2" stroke="#1cec30" stroke-opacity="0.17" stroke-width="0.6"/>
<rect x="414.6" y="30.8" width="29.8" height="173.9" stroke="#cfd231"/>
<rect x="411.3" y="20.8" width="36.4" height="193.9" stroke="#92cc17" stroke-opacity="0.1"/>
<rect x="416.1" y="104.4" width="26.8" height="26.7" stroke="#ffb21d"/>
<rect x="416.7" y="35.0" width="25.7" height="165.4" stroke="#1cec30"/>
<rect x="408.7" y="61.9" width="41.6" height="111.7" stroke="#cfd231" stroke-opacity="0.1"/>
<rect x="419.9" y="47.4" width="19.2" height="140.7" stroke="#ff701f"/>
<rect x="407.3" y="30.3" width="44.3" height="174.7" stroke="#1cec30"/>
<rect x="325.1" y="108.5" width="208.7" height="18.5" stroke="#ff9d97" stroke-opacity="0.16"/>
<rect x="417.1" y="79.9" width="24.9" height="75.5" stroke="#ffb21d"/>
<rect x="365.7" y="17.0" width="127.6" height="201.5" stroke="#1cec30" stroke-opacity="0.17" stroke-width="0.6"/>
<rect x="399.5" y="61.6" width="59.9" height="112.3" stroke="#1cec30"/>
<rect x="407.5" y="28.4" width="43.9" height="178.6" stroke="#1cec30"/>
<rect x="372.7" y="112.0" width="113.7" height="11.3" stroke="#ff9d97" stroke-opacity="0.16"/>
<rect x="416.6" y="27.6" width="25.7" height="180.2" stroke="#cfd231"/>
<rect x="401.7" y="59.9" width="55.6" height="115.6" stroke="#cfd231"/>
<rect x="399.4" y="30.3" width="60.1" height="174.8" stroke="#1cec30"/>
<rect x="397.2" y="109.8" width="64.7" height="15.7" stroke="#ff9d97" stroke-opacity="0.16"/>
<rect x="413.6" y="13.7" width="31.8" height="208.1" stroke="#1cec30"/>
<rect x="416.6" y="61.0" width="25.8" height="113.4" stroke="#cfd231"/>
<rect x="403.1" y="52.7" width="52.7" height="129.9" stroke="#cfd231" stroke-opacity="0.1"/>
<rect x="416.6" y="82.9" width="25.7" height="69.6" stroke="#ffb21d"/>
<rect x="350.7" y="110.4" width="157.7" height="14.7" stroke="#ff9d97" stroke-opacity="0.16"/>
<rect x="409.8" y="52.1" width="39.3" height="131.2" stroke="#cfd231" stroke-opacity="0.1"/>
<rect x="416.4" y="30.2" width="26.2" height="175.0" stroke="#ffb21d"/>
<rect x="416.8" y="107.0" width="25.4" height="21.4" stroke="#ffb21d"/>
<rect x="401.6" y="109.4" width="55.8" height="16.6" stroke="#ff9d97" stroke-opacity="0.16"/>
<rect x="399.8" y="58.3" width="59.3" height="118.7" stroke="#1cec30"/>
<rect x="392.8" y="110.2" width="73.4" height="15.0" stroke="#ff9d97" stroke-opacity="0.16"/>
<rect x="416.3" y="69.3" width="26.3" height="96.7" stroke="#ffb21d"/>
<rect x="385.2" y="16.2" width="88.5" height="203.1" stroke="#1cec30" stroke-opacity="0.17" stroke-width="0.6"/>
<rect x="417.1" y="100.4" width="24.8" height="34.5" stroke="#ffb21d"/>
<rect x="406.7" y="53.8" width="45.7" height="127.8" stroke="#1cec30"/>
<rect x="331.1" y="67.7" width="196.8" height="100.0" stroke="#1cec30" stroke-opacity="0.17" stroke-width="0.6"/>
<rect x="325.5" y="111.1" width="207.9" height="13.2" stroke="#ff9d97" stroke-opacity="0.16"/>
<rect x="344.8" y="109.0" width="169.4" height="17.4" stroke="#ff9d97" stroke-opacity="0.16"/>
<rect x="368.8" y="110.5" width="121.5" height="14.5" stroke="#ff9d97" stroke-opacity="0.16"/>
<rect x="407.8" y="29.3" width="43.5" height="176.9" stroke="#1cec30"/>
<rect x="399.3" y="85.7" width="60.3" height="64.1" stroke="#1cec30"/>
<rect x="408.8" y="78.3" width="41.4" height="78.9" stroke="#1cec30"/>
<rect x="411.2" y="89.3" width="36.6" height="56.7" stroke="#ffb21d"/>
<rect x="324.9" y="110.4" width="209.3" height="14.7" stroke="#ff9d97" stroke-opacity="0.16"/>
<rect x="399.4" y="59.2" width="60.3" height="117.0" stroke="#1cec30"/>
<rect x="401.6" y="58.2" width="55.7" height="119.0" stroke="#92cc17"/>
<rect x="399.6" y="29.8" width="59.9" height="175.8" stroke="#1cec30" stroke-opacity="0.1"/>
<rect x="343.0" y="36.8" width="173.0" height="161.8" stroke="#1cec30" stroke-opacity="0.17" stroke-width="0.6"/>
<rect x="407.8" y="14.6" width="43.5" height="206.1" stroke="#1cec30"/>
<rect x="405.0" y="21.1" width="49.0" height="193.3" stroke="#92cc17"/>
<rect x="369.4" y="108.6" width="120.3" height="18.2" stroke="#ff9d97" stroke-opacity="0.16"/>
<rect x="364.2" y="30.8" width="130.7" height="173.8" stroke="#00d4bb" stroke-opacity="0.17" stroke-width="0.6"/>
<rect x="350.7" y="112.0" width="157.6" height="11.4" stroke="#ff9d97" stroke-opacity="0.16"/>
<rect x="403.3" y="96.4" width="52.4" height="42.5" stroke="#ffb21d"/>
<rect x="339.0" y="111.3" width="181.0" height="12.8" stroke="#ff9d97" stroke-opacity="0.16"/>
<rect x="410.5" y="59.7" width="38.1" height="115.9" stroke="#cfd231"/>
<rect x="388.1" y="23.4" width="82.9" height="188.7" stroke="#1cec30" stroke-opacity="0.17" stroke-width="0.6"/>
<rect x="406.6" y="45.4" width="45.8" height="144.6" stroke="#cfd231"/>
<rect x="414.2" y="13.7" width="30.7" height="208.0" stroke="#cfd231"/>
<rect x="394.7" y="41.8" width="69.5" height="151.8" stroke="#1cec30" stroke-opacity="0.17" stroke-width="0.6"/>
<rect x="399.9" y="27.8" width="59.3" height="179.8" stroke="#1cec30"/>
<rect x="348.6" y="108.8" width="161.9" height="17.8" stroke="#ff9d97" stroke-opacity="0.16"/>
<rect x="399.2" y="45.0" width="60.6" height="145.4" stroke="#1cec30"/>
<rect x="410.3" y="40.1" width="38.3" height="155.2" stroke="#1cec30"/>
<rect x="404.9" y="27.8" width="49.2" height="179.7" stroke="#cfd231" stroke-opacity="0.1"/>
<rect x="415.3" y="35.8" width="28.3" height="163.9" stroke="#92cc17"/>
<rect x="326.3" y="108.5" width="206.3" height="18.3" stroke="#ff9d97" stroke-opacity="0.16"/>
<rect x="368.6" y="111.7" width="121.7" height="12.1" stroke="#ff9d97" stroke-opacity="0.16"/>
<rect x="410.7" y="24.0" width="37.5" height="187.4" stroke="#1cec30"/>
<rect x="406.9" y="30.2" width="45.2" height="174.9" stroke="#1cec30"/>
<rect x="417.4" y="68.7" width="24.2" height="98.0" stroke="#ffb21d"/>
<rect x="385.9" y="83.9" width="87.2" height="67.6" stroke="#1cec30" stroke-opacity="0.17" stroke-width="0.6"/>
<rect x="408.4" y="95.3" width="42.2" height="44.9" stroke="#ff701f"/>
<rect x="331.5" y="108.9" width="196.1" height="17.7" stroke="#ff9d97" stroke-opacity="0.16"/>
<rect x="325.2" y="110.8" width="208.7" height="13.8" stroke="#ff9d97" stroke-opacity="0.16"/>
<rect x="416.3" y="38.1" width="26.5" height="159.2" stroke="#ffb21d"/>
<rect x="416.6" y="83.3" width="25.8" height="68.7" stroke="#ff701f"/>
<rect x="410.4" y="69.4" width="38.1" height="96.7" stroke="#92cc17"/>
<rect x="399.4" y="28.5" width="60.1" height="178.3" stroke="#1cec30"/>
<rect x="326.2" y="108.2" width="206.6" height="19.1" stroke="#ff9d97" stroke-opacity="0.16"/>
<rect x="325.9" y="111.3" width="207.2" height="12.7" stroke="#ff9d97" stroke-opacity="0.16"/>
<rect x="395.1" y="37.2" width="68.7" height="160.9" stroke="#1cec30" stroke-opacity="0.17" stroke-width="0.6"/>
<rect x="410.7" y="27.4" width="37.6" height="180.7" stroke="#cfd231"/>
<rect x="421.2" y="110.5" width="16.7" height="14.4" stroke="#ff701f"/>
<rect x="421.8" y="111.1" width="15.3" height="13.3" stroke="#ff701f"/>
<rect x="422.5" y="111.3" width="14.0" height="12.7" stroke="#ff3838"/>
<rect x="421.6" y="110.6" width="15.8" height="14.3" stroke="#ff701f"/>
<rect x="422.3" y="110.4" width="14.5" height="14.7" stroke="#ff3838"/>
<rect x="422.6" y="110.6" width="13.9" height="14.1" stroke="#ff3838"/>
<rect x="422.0" y="111.3" width="14.9" height="12.8" stroke="#ff701f"/>
<rect x="421.9" y="111.2" width="15.3" height="13.0" stroke="#ff3838"/>
<rect x="422.0" y="111.0" width="14.9" height="13.5" stroke="#ff3838"/>
<rect x="420.8" y="111.0" width="17.4" height="13.4" stroke="#ff701f"/>
<rect x="422.0" y="111.7" width="14.9" height="11.9" stroke="#ff701f"/>
<rect x="422.3" y="110.9" width="14.4" height="13.6" stroke="#ff3838"/>
<rect x="422.2" y="110.3" width="14.7" height="14.7" stroke="#ff701f"/>
<rect x="421.6" y="110.5" width="15.9" height="14.4" stroke="#ff701f"/>
<rect x="421.1" y="110.8" width="16.8" height="13.7" stroke="#ff701f"/>
<rect x="422.2" y="110.2" width="14.7" height="14.9" stroke="#ff3838"/>
<rect x="421.8" y="111.3" width="15.4" height="12.9" stroke="#ff701f"/>
<rect x="422.0" y="110.3" width="14.9" height="14.9" stroke="#ff3838"/>
<rect x="421.6" y="110.9" width="15.8" height="13.5" stroke="#ff701f"/>
<rect x="421.6" y="110.8" width="15.8" height="13.8" stroke="#ff3838"/>
<rect x="421.5" y="110.3" width="16.0" height="14.9" stroke="#ff701f"/>
<rect x="422.1" y="110.9" width="14.8" height="13.5" stroke="#ff3838"/>
<rect x="422.0" y="111.7" width="14.9" height="12.1" stroke="#ff701f"/>
<rect x="421.6" y="110.6" width="15.7" height="14.2" stroke="#ff701f"/>
<rect x="422.1" y="110.2" width="14.9" height="15.1" stroke="#ff3838"/>
<rect x="421.3" y="110.7" width="16.4" height="14.0" stroke="#ff3838"/>
<rect x="421.2" y="111.0" width="16.6" height="13.3" stroke="#ff3838"/>
<rect x="422.8" y="110.4" width="13.5" height="14.6" stroke="#ff3838"/>
<rect x="421.3" y="110.6" width="16.4" height="14.2" stroke="#ff701f"/>
<rect x="422.1" y="111.1" width="14.8" height="13.2" stroke="#ff701f"/>
<rect x="428.3" y="114.3" width="2.4" height="6.9" stroke="#ff3838"/>
<rect x="428.3" y="114.6" width="2.4" height="6.1" stroke="#ff3838"/>
<rect x="428.4" y="114.8" width="2.3" height="5.9" stroke="#ff3838"/>
<rect x="428.5" y="114.3" width="2.0" height="6.8" stroke="#ff3838"/>
<rect x="428.3" y="114.7" width="2.5" height="5.9" stroke="#ff3838"/>
<rect x="428.4" y="114.8" width="2.2" height="5.8" stroke="#ff3838"/>
<rect x="428.1" y="114.3" width="2.8" height="6.8" stroke="#ff3838"/>
<rect x="428.0" y="114.8" width="2.9" height="5.9" stroke="#ff3838"/>
<rect x="428.0" y="114.4" width="3.0" height="6.5" stroke="#ff3838"/>
<rect x="428.2" y="114.6" width="2.6" height="6.2" stroke="#ff3838"/>
</g>
</svg>
</body></html>
